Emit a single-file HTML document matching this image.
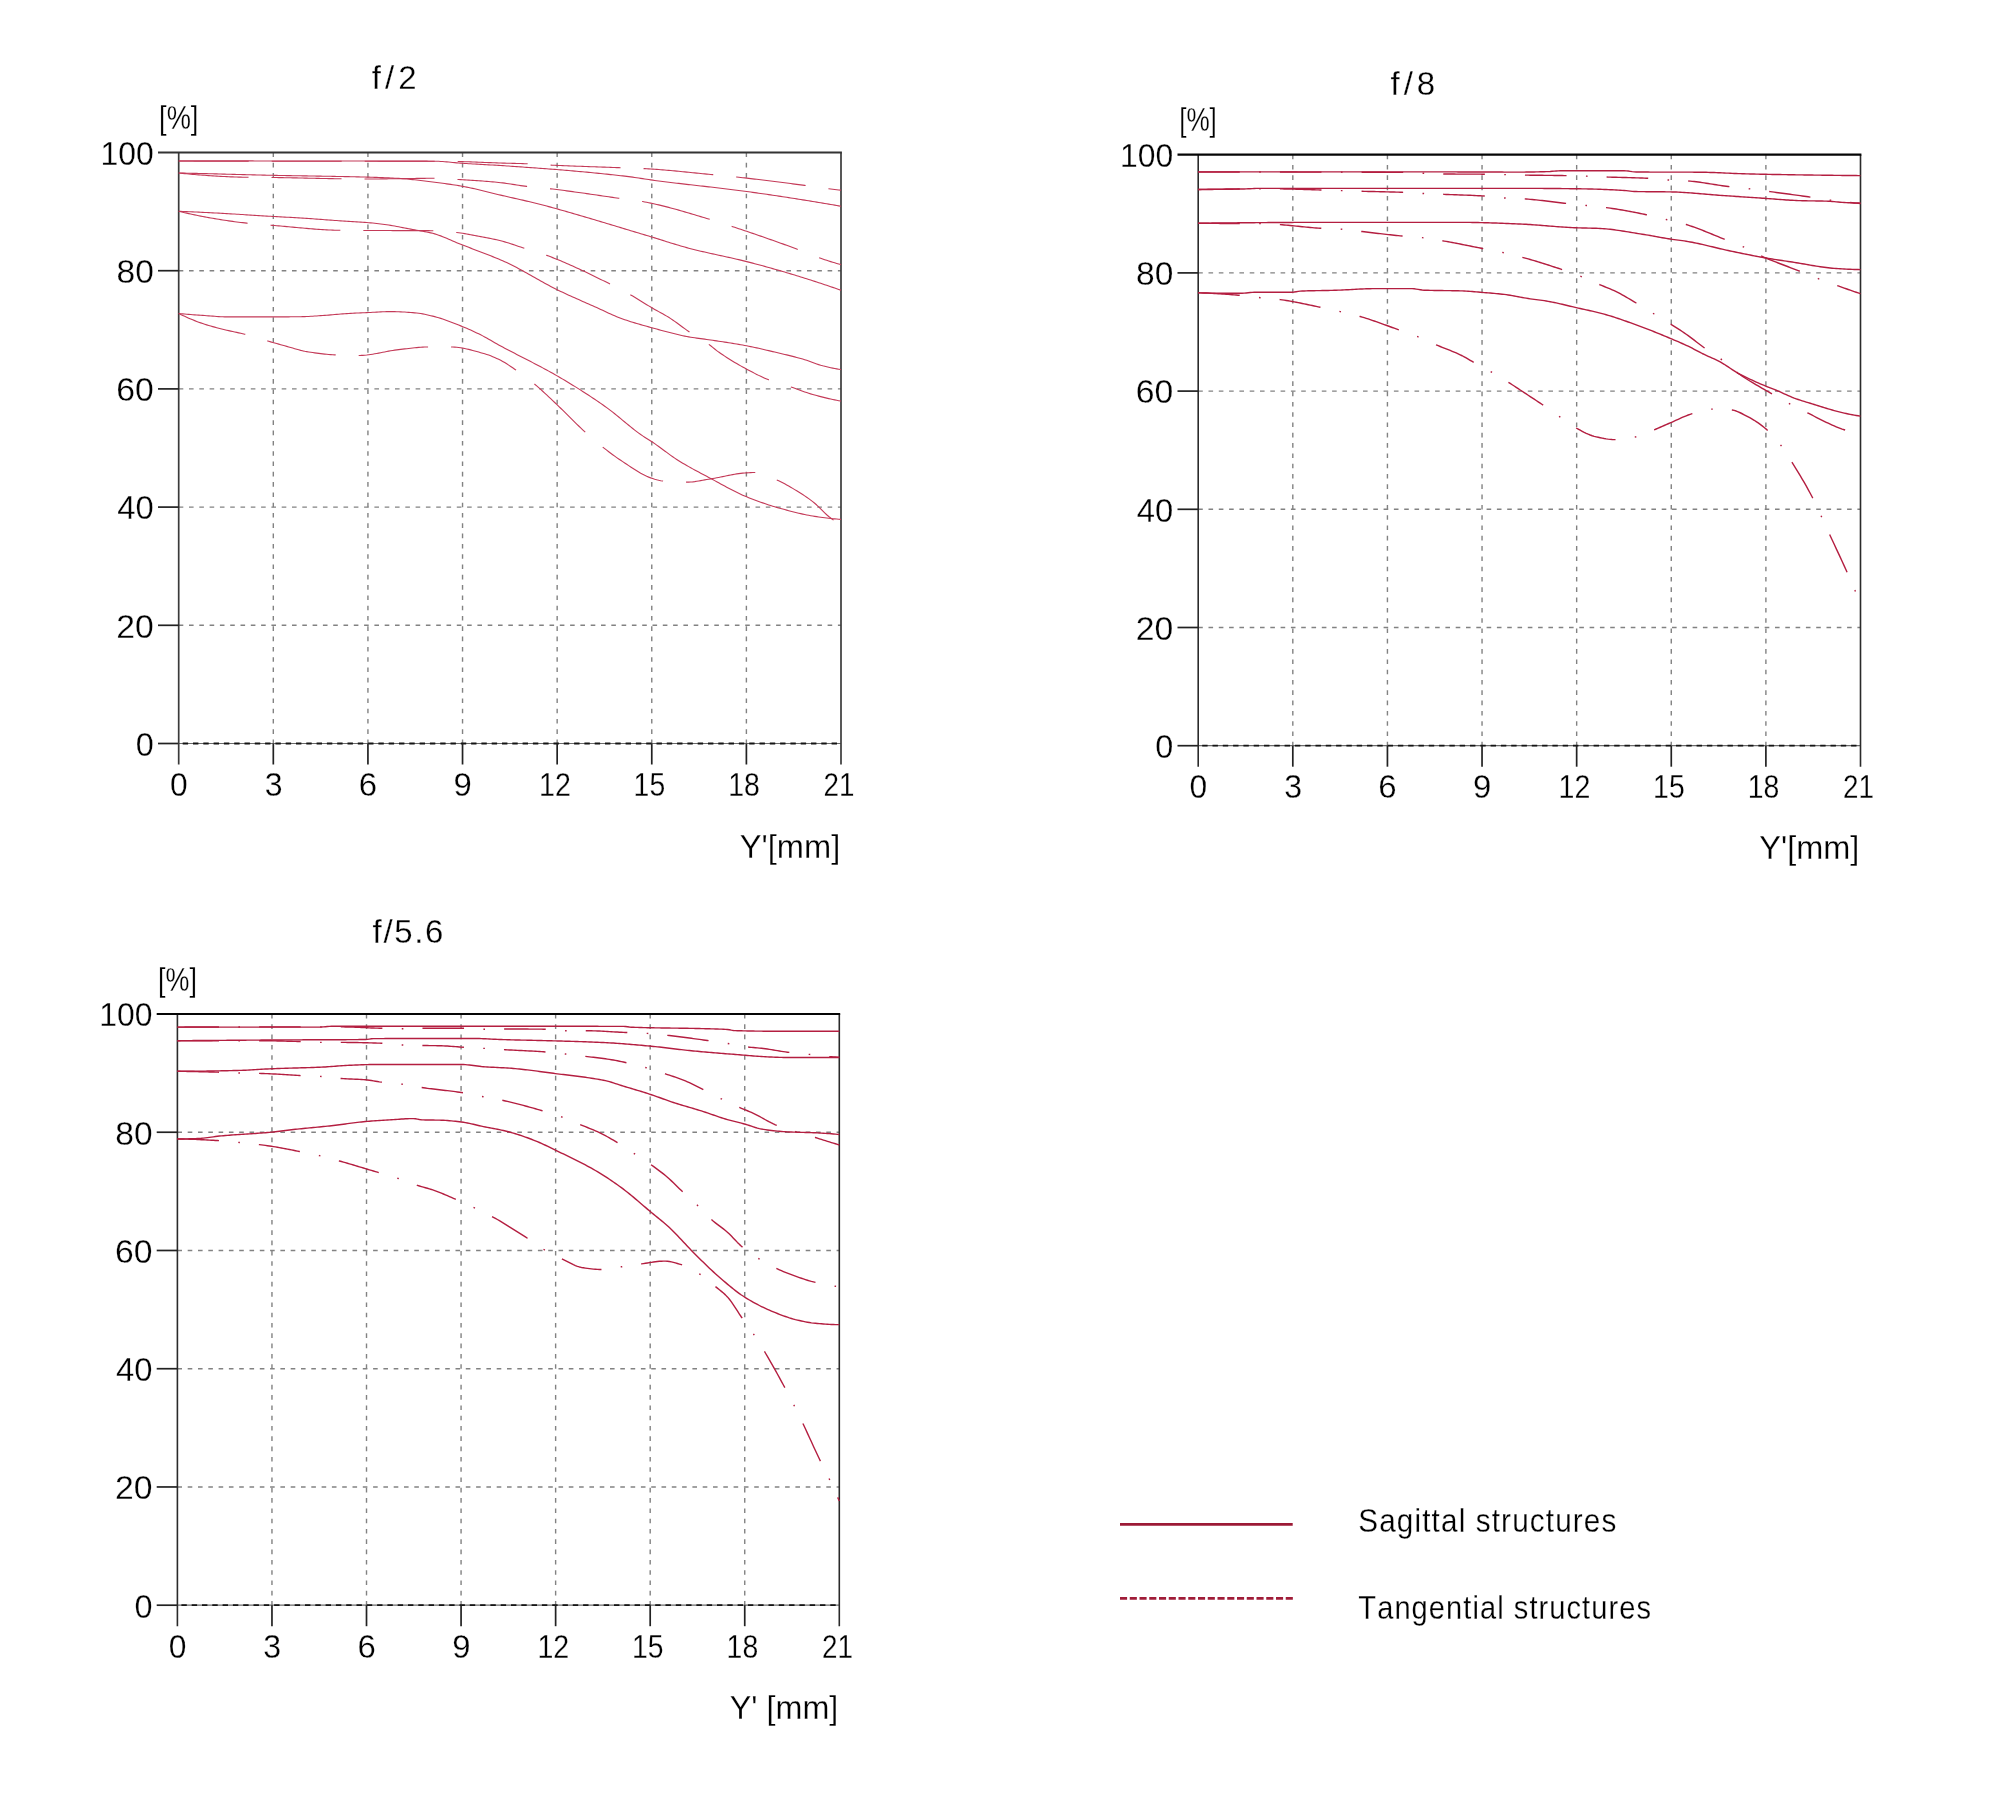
<!DOCTYPE html>
<html><head><meta charset="utf-8"><style>
html,body{margin:0;padding:0;background:#fff;}
svg{display:block;will-change:transform;}
text{font-family:"Liberation Sans",sans-serif;fill:#000;font-kerning:none;stroke:#fff;stroke-width:0.25;}
.grid{stroke:#828282;stroke-width:1.4;stroke-dasharray:4.6 5.7;fill:none;}
.c1s{fill:none;stroke:#c43a58;stroke-width:1.1;stroke-linejoin:round;}
.c1t{fill:none;stroke:#c43a58;stroke-width:1.1;stroke-dasharray:70 23;stroke-linejoin:round;}
.c2s{fill:none;stroke:#b41e40;stroke-width:1.4;stroke-linejoin:round;}
.c2t{fill:none;stroke:#b41e40;stroke-width:1.4;stroke-dasharray:41.6 19.4 1.6 19.1;stroke-linejoin:round;}
</style></head><body>
<svg width="2000" height="1813" viewBox="0 0 2000 1813">
<rect width="2000" height="1813" fill="#fff"/>
<line x1="273.31" y1="152.50" x2="273.31" y2="743.50" class="grid"/>
<line x1="367.93" y1="152.50" x2="367.93" y2="743.50" class="grid"/>
<line x1="462.54" y1="152.50" x2="462.54" y2="743.50" class="grid"/>
<line x1="557.16" y1="152.50" x2="557.16" y2="743.50" class="grid"/>
<line x1="651.77" y1="152.50" x2="651.77" y2="743.50" class="grid"/>
<line x1="746.39" y1="152.50" x2="746.39" y2="743.50" class="grid"/>
<line x1="178.70" y1="270.70" x2="841.00" y2="270.70" class="grid"/>
<line x1="178.70" y1="388.90" x2="841.00" y2="388.90" class="grid"/>
<line x1="178.70" y1="507.10" x2="841.00" y2="507.10" class="grid"/>
<line x1="178.70" y1="625.30" x2="841.00" y2="625.30" class="grid"/>
<line x1="158.00" y1="743.50" x2="178.70" y2="743.50" stroke="#222" stroke-width="1.7"/>
<line x1="178.70" y1="743.50" x2="841.00" y2="743.50" stroke="#6a6a6a" stroke-width="1.2"/>
<line x1="178.70" y1="743.50" x2="841.00" y2="743.50" stroke="#151515" stroke-width="1.8" stroke-dasharray="5.4 4.9" stroke-dashoffset="-4.0"/>
<line x1="178.70" y1="152.50" x2="178.70" y2="764.50" stroke="#3a3a3a" stroke-width="1.7"/>
<line x1="841.00" y1="152.50" x2="841.00" y2="764.50" stroke="#3a3a3a" stroke-width="1.7"/>
<line x1="158.00" y1="152.50" x2="841.90" y2="152.50" stroke="#333" stroke-width="1.9"/>
<line x1="158.00" y1="270.70" x2="178.70" y2="270.70" stroke="#222" stroke-width="1.7"/>
<line x1="158.00" y1="388.90" x2="178.70" y2="388.90" stroke="#222" stroke-width="1.7"/>
<line x1="158.00" y1="507.10" x2="178.70" y2="507.10" stroke="#222" stroke-width="1.7"/>
<line x1="158.00" y1="625.30" x2="178.70" y2="625.30" stroke="#222" stroke-width="1.7"/>
<line x1="273.31" y1="743.50" x2="273.31" y2="764.50" stroke="#222" stroke-width="1.7"/>
<line x1="367.93" y1="743.50" x2="367.93" y2="764.50" stroke="#222" stroke-width="1.7"/>
<line x1="462.54" y1="743.50" x2="462.54" y2="764.50" stroke="#222" stroke-width="1.7"/>
<line x1="557.16" y1="743.50" x2="557.16" y2="764.50" stroke="#222" stroke-width="1.7"/>
<line x1="651.77" y1="743.50" x2="651.77" y2="764.50" stroke="#222" stroke-width="1.7"/>
<line x1="746.39" y1="743.50" x2="746.39" y2="764.50" stroke="#222" stroke-width="1.7"/>
<text transform="translate(103.00,164.80) scale(0.9657,1.020)" x="-2.51" y="0" font-size="33.0">100</text>
<text transform="translate(118.00,283.00) scale(1.0152,1.020)" x="-1.43" y="0" font-size="33.0">80</text>
<text transform="translate(118.00,401.20) scale(1.0225,1.020)" x="-1.68" y="0" font-size="33.0">60</text>
<text transform="translate(118.00,519.40) scale(0.9954,1.020)" x="-0.76" y="0" font-size="33.0">40</text>
<text transform="translate(118.00,637.60) scale(1.0220,1.020)" x="-1.66" y="0" font-size="33.0">20</text>
<text transform="translate(137.00,755.80) scale(0.9826,1.020)" x="-1.29" y="0" font-size="33.0">0</text>
<text transform="translate(171.30,796.20) scale(0.9636,1.020)" x="-1.29" y="0" font-size="33.0">0</text>
<text transform="translate(265.91,796.20) scale(0.9715,1.020)" x="-1.26" y="0" font-size="33.0">3</text>
<text transform="translate(360.53,796.20) scale(0.9982,1.020)" x="-1.68" y="0" font-size="33.0">6</text>
<text transform="translate(455.14,796.20) scale(0.9972,1.020)" x="-1.55" y="0" font-size="33.0">9</text>
<text transform="translate(541.16,796.20) scale(0.8668,1.020)" x="-2.51" y="0" font-size="33.0">12</text>
<text transform="translate(635.77,796.20) scale(0.8596,1.020)" x="-2.51" y="0" font-size="33.0">15</text>
<text transform="translate(730.39,796.20) scale(0.8609,1.020)" x="-2.51" y="0" font-size="33.0">18</text>
<text transform="translate(825.00,796.20) scale(0.8434,1.020)" x="-1.66" y="0" font-size="33.0">21</text>
<text transform="translate(740.50,857.50) scale(0.9894,1.020)" x="-0.73" y="0" font-size="33.0">Y'[mm]</text>
<text transform="translate(161.00,128.50) scale(0.8261,1.020)" x="-2.35" y="0" font-size="33.0">[%]</text>
<text transform="translate(372.10,88.80) scale(1.0000,1.020)" x="-0.47" y="0" font-size="33.0" letter-spacing="4.144">f/2</text>
<path class="c1s" d="M178.7,160.80 L180.7,160.80 L182.7,160.81 L184.7,160.81 L186.7,160.81 L188.7,160.82 L190.7,160.82 L192.7,160.82 L194.7,160.83 L196.7,160.83 L198.7,160.83 L200.7,160.84 L202.7,160.84 L204.7,160.84 L206.7,160.85 L208.7,160.85 L210.7,160.85 L212.7,160.86 L214.7,160.86 L216.7,160.86 L218.7,160.87 L220.7,160.87 L222.7,160.87 L224.7,160.88 L226.7,160.88 L228.7,160.88 L230.7,160.89 L232.7,160.89 L234.7,160.89 L236.7,160.90 L238.7,160.90 L240.7,160.90 L242.7,160.91 L244.7,160.91 L246.7,160.91 L248.7,160.92 L250.7,160.92 L252.7,160.92 L254.7,160.93 L256.7,160.93 L258.7,160.93 L260.7,160.94 L262.7,160.94 L264.7,160.94 L266.7,160.95 L268.7,160.95 L270.7,160.95 L272.7,160.96 L274.7,160.96 L276.7,160.96 L278.7,160.97 L280.7,160.97 L282.7,160.97 L284.7,160.98 L286.7,160.98 L288.7,160.98 L290.7,160.99 L292.7,160.99 L294.7,160.99 L296.7,160.99 L298.7,161.00 L300.7,161.00 L302.7,161.00 L304.7,161.01 L306.7,161.01 L308.7,161.01 L310.7,161.01 L312.7,161.02 L314.7,161.02 L316.7,161.02 L318.7,161.02 L320.7,161.03 L322.7,161.03 L324.7,161.03 L326.7,161.03 L328.7,161.03 L330.7,161.04 L332.7,161.04 L334.7,161.04 L336.7,161.04 L338.7,161.04 L340.7,161.04 L342.7,161.04 L344.7,161.05 L346.7,161.05 L348.7,161.05 L350.7,161.05 L352.7,161.05 L354.7,161.05 L356.7,161.06 L358.7,161.06 L360.7,161.06 L362.7,161.06 L364.7,161.06 L366.7,161.06 L368.7,161.07 L370.7,161.07 L372.7,161.07 L374.7,161.07 L376.7,161.07 L378.7,161.08 L380.7,161.08 L382.7,161.08 L384.7,161.08 L386.7,161.09 L388.7,161.09 L390.7,161.09 L392.7,161.10 L394.7,161.10 L396.7,161.10 L398.7,161.11 L400.7,161.11 L402.7,161.11 L404.7,161.12 L406.7,161.12 L408.7,161.13 L410.7,161.13 L412.7,161.14 L414.7,161.14 L416.7,161.15 L418.7,161.15 L420.7,161.16 L422.7,161.16 L424.7,161.17 L426.7,161.17 L428.7,161.18 L430.7,161.19 L432.7,161.20 L434.7,161.21 L436.7,161.25 L438.7,161.32 L440.7,161.43 L442.7,161.56 L444.7,161.72 L446.7,161.89 L448.7,162.07 L450.7,162.26 L452.7,162.46 L454.7,162.65 L456.7,162.84 L458.7,163.01 L460.7,163.17 L462.7,163.31 L464.7,163.44 L466.7,163.57 L468.7,163.69 L470.7,163.81 L472.7,163.93 L474.7,164.04 L476.7,164.15 L478.7,164.27 L480.7,164.38 L482.7,164.49 L484.7,164.60 L486.7,164.71 L488.7,164.83 L490.7,164.94 L492.7,165.06 L494.7,165.17 L496.7,165.29 L498.7,165.42 L500.7,165.54 L502.7,165.67 L504.7,165.80 L506.7,165.94 L508.7,166.07 L510.7,166.21 L512.7,166.34 L514.7,166.48 L516.7,166.62 L518.7,166.76 L520.7,166.90 L522.7,167.04 L524.7,167.19 L526.7,167.33 L528.7,167.48 L530.7,167.62 L532.7,167.77 L534.7,167.91 L536.7,168.06 L538.7,168.20 L540.7,168.35 L542.7,168.50 L544.7,168.64 L546.7,168.79 L548.7,168.94 L550.7,169.09 L552.7,169.24 L554.7,169.39 L556.7,169.55 L558.7,169.71 L560.7,169.87 L562.7,170.04 L564.7,170.21 L566.7,170.39 L568.7,170.56 L570.7,170.73 L572.7,170.91 L574.7,171.08 L576.7,171.26 L578.7,171.44 L580.7,171.62 L582.7,171.80 L584.7,171.99 L586.7,172.17 L588.7,172.36 L590.7,172.55 L592.7,172.74 L594.7,172.94 L596.7,173.13 L598.7,173.33 L600.7,173.53 L602.7,173.74 L604.7,173.94 L606.7,174.15 L608.7,174.36 L610.7,174.58 L612.7,174.79 L614.7,175.01 L616.7,175.24 L618.7,175.46 L620.7,175.69 L622.7,175.92 L624.7,176.16 L626.7,176.40 L628.7,176.64 L630.7,176.89 L632.7,177.15 L634.7,177.43 L636.7,177.72 L638.7,178.03 L640.7,178.34 L642.7,178.65 L644.7,178.97 L646.7,179.28 L648.7,179.58 L650.7,179.88 L652.7,180.16 L654.7,180.43 L656.7,180.70 L658.7,180.96 L660.7,181.22 L662.7,181.47 L664.7,181.72 L666.7,181.97 L668.7,182.22 L670.7,182.47 L672.7,182.71 L674.7,182.95 L676.7,183.19 L678.7,183.42 L680.7,183.65 L682.7,183.89 L684.7,184.12 L686.7,184.35 L688.7,184.58 L690.7,184.80 L692.7,185.03 L694.7,185.26 L696.7,185.48 L698.7,185.71 L700.7,185.94 L702.7,186.16 L704.7,186.39 L706.7,186.62 L708.7,186.84 L710.7,187.07 L712.7,187.30 L714.7,187.53 L716.7,187.76 L718.7,188.00 L720.7,188.23 L722.7,188.47 L724.7,188.71 L726.7,188.95 L728.7,189.19 L730.7,189.43 L732.7,189.68 L734.7,189.93 L736.7,190.19 L738.7,190.45 L740.7,190.71 L742.7,190.97 L744.7,191.24 L746.7,191.51 L748.7,191.78 L750.7,192.06 L752.7,192.34 L754.7,192.61 L756.7,192.90 L758.7,193.18 L760.7,193.46 L762.7,193.75 L764.7,194.04 L766.7,194.33 L768.7,194.62 L770.7,194.91 L772.7,195.21 L774.7,195.51 L776.7,195.80 L778.7,196.10 L780.7,196.41 L782.7,196.71 L784.7,197.02 L786.7,197.32 L788.7,197.63 L790.7,197.94 L792.7,198.25 L794.7,198.57 L796.7,198.88 L798.7,199.20 L800.7,199.52 L802.7,199.84 L804.7,200.16 L806.7,200.48 L808.7,200.81 L810.7,201.13 L812.7,201.46 L814.7,201.79 L816.7,202.12 L818.7,202.45 L820.7,202.79 L822.7,203.12 L824.7,203.46 L826.7,203.79 L828.7,204.13 L830.7,204.47 L832.7,204.82 L834.7,205.16 L836.7,205.50 L838.7,205.85 L840.7,206.20 L841.0,206.25"/>
<path class="c1t" d="M178.7,161.30 L180.7,161.30 L182.7,161.30 L184.7,161.29 L186.7,161.29 L188.7,161.29 L190.7,161.29 L192.7,161.28 L194.7,161.28 L196.7,161.28 L198.7,161.28 L200.7,161.28 L202.7,161.27 L204.7,161.27 L206.7,161.27 L208.7,161.27 L210.7,161.27 L212.7,161.27 L214.7,161.26 L216.7,161.26 L218.7,161.26 L220.7,161.26 L222.7,161.26 L224.7,161.26 L226.7,161.25 L228.7,161.25 L230.7,161.25 L232.7,161.25 L234.7,161.25 L236.7,161.25 L238.7,161.24 L240.7,161.24 L242.7,161.24 L244.7,161.24 L246.7,161.24 L248.7,161.24 L250.7,161.24 L252.7,161.24 L254.7,161.23 L256.7,161.23 L258.7,161.23 L260.7,161.23 L262.7,161.23 L264.7,161.23 L266.7,161.23 L268.7,161.23 L270.7,161.23 L272.7,161.23 L274.7,161.22 L276.7,161.22 L278.7,161.22 L280.7,161.22 L282.7,161.22 L284.7,161.22 L286.7,161.22 L288.7,161.22 L290.7,161.22 L292.7,161.22 L294.7,161.22 L296.7,161.22 L298.7,161.21 L300.7,161.21 L302.7,161.21 L304.7,161.21 L306.7,161.21 L308.7,161.21 L310.7,161.21 L312.7,161.21 L314.7,161.21 L316.7,161.21 L318.7,161.21 L320.7,161.21 L322.7,161.21 L324.7,161.21 L326.7,161.21 L328.7,161.21 L330.7,161.21 L332.7,161.21 L334.7,161.21 L336.7,161.21 L338.7,161.21 L340.7,161.20 L342.7,161.20 L344.7,161.20 L346.7,161.20 L348.7,161.20 L350.7,161.20 L352.7,161.20 L354.7,161.20 L356.7,161.20 L358.7,161.20 L360.7,161.20 L362.7,161.20 L364.7,161.20 L366.7,161.20 L368.7,161.20 L370.7,161.20 L372.7,161.20 L374.7,161.20 L376.7,161.20 L378.7,161.20 L380.7,161.20 L382.7,161.20 L384.7,161.20 L386.7,161.20 L388.7,161.20 L390.7,161.20 L392.7,161.20 L394.7,161.20 L396.7,161.20 L398.7,161.20 L400.7,161.20 L402.7,161.20 L404.7,161.20 L406.7,161.20 L408.7,161.20 L410.7,161.20 L412.7,161.20 L414.7,161.20 L416.7,161.20 L418.7,161.20 L420.7,161.20 L422.7,161.20 L424.7,161.20 L426.7,161.20 L428.7,161.20 L430.7,161.20 L432.7,161.20 L434.7,161.20 L436.7,161.20 L438.7,161.22 L440.7,161.23 L442.7,161.25 L444.7,161.28 L446.7,161.31 L448.7,161.34 L450.7,161.38 L452.7,161.41 L454.7,161.45 L456.7,161.49 L458.7,161.53 L460.7,161.57 L462.7,161.62 L464.7,161.68 L466.7,161.74 L468.7,161.81 L470.7,161.88 L472.7,161.95 L474.7,162.02 L476.7,162.10 L478.7,162.18 L480.7,162.26 L482.7,162.35 L484.7,162.43 L486.7,162.51 L488.7,162.59 L490.7,162.67 L492.7,162.75 L494.7,162.82 L496.7,162.89 L498.7,162.96 L500.7,163.02 L502.7,163.08 L504.7,163.14 L506.7,163.19 L508.7,163.24 L510.7,163.29 L512.7,163.34 L514.7,163.39 L516.7,163.44 L518.7,163.50 L520.7,163.56 L522.7,163.62 L524.7,163.68 L526.7,163.75 L528.7,163.83 L530.7,163.92 L532.7,164.02 L534.7,164.13 L536.7,164.25 L538.7,164.38 L540.7,164.51 L542.7,164.64 L544.7,164.76 L546.7,164.88 L548.7,164.99 L550.7,165.10 L552.7,165.19 L554.7,165.28 L556.7,165.37 L558.7,165.46 L560.7,165.54 L562.7,165.63 L564.7,165.71 L566.7,165.79 L568.7,165.87 L570.7,165.95 L572.7,166.03 L574.7,166.10 L576.7,166.18 L578.7,166.25 L580.7,166.32 L582.7,166.40 L584.7,166.47 L586.7,166.54 L588.7,166.61 L590.7,166.68 L592.7,166.75 L594.7,166.82 L596.7,166.89 L598.7,166.96 L600.7,167.03 L602.7,167.10 L604.7,167.17 L606.7,167.24 L608.7,167.31 L610.7,167.38 L612.7,167.45 L614.7,167.52 L616.7,167.60 L618.7,167.67 L620.7,167.75 L622.7,167.82 L624.7,167.89 L626.7,167.96 L628.7,168.03 L630.7,168.09 L632.7,168.16 L634.7,168.23 L636.7,168.31 L638.7,168.39 L640.7,168.47 L642.7,168.56 L644.7,168.66 L646.7,168.77 L648.7,168.88 L650.7,169.00 L652.7,169.13 L654.7,169.27 L656.7,169.41 L658.7,169.56 L660.7,169.71 L662.7,169.87 L664.7,170.04 L666.7,170.21 L668.7,170.38 L670.7,170.56 L672.7,170.74 L674.7,170.92 L676.7,171.11 L678.7,171.30 L680.7,171.50 L682.7,171.69 L684.7,171.89 L686.7,172.09 L688.7,172.29 L690.7,172.49 L692.7,172.69 L694.7,172.89 L696.7,173.10 L698.7,173.30 L700.7,173.50 L702.7,173.70 L704.7,173.90 L706.7,174.10 L708.7,174.29 L710.7,174.48 L712.7,174.67 L714.7,174.86 L716.7,175.05 L718.7,175.24 L720.7,175.43 L722.7,175.62 L724.7,175.82 L726.7,176.01 L728.7,176.21 L730.7,176.41 L732.7,176.62 L734.7,176.83 L736.7,177.04 L738.7,177.26 L740.7,177.48 L742.7,177.70 L744.7,177.92 L746.7,178.15 L748.7,178.38 L750.7,178.61 L752.7,178.84 L754.7,179.08 L756.7,179.31 L758.7,179.55 L760.7,179.79 L762.7,180.03 L764.7,180.28 L766.7,180.52 L768.7,180.77 L770.7,181.02 L772.7,181.27 L774.7,181.52 L776.7,181.77 L778.7,182.02 L780.7,182.28 L782.7,182.53 L784.7,182.79 L786.7,183.05 L788.7,183.31 L790.7,183.57 L792.7,183.83 L794.7,184.09 L796.7,184.35 L798.7,184.61 L800.7,184.87 L802.7,185.13 L804.7,185.40 L806.7,185.66 L808.7,185.93 L810.7,186.20 L812.7,186.48 L814.7,186.77 L816.7,187.05 L818.7,187.34 L820.7,187.62 L822.7,187.90 L824.7,188.18 L826.7,188.45 L828.7,188.71 L830.7,188.97 L832.7,189.21 L834.7,189.46 L836.7,189.70 L838.7,189.93 L840.7,190.17 L841.0,190.20"/>
<path class="c1s" d="M178.7,173.00 L180.7,173.05 L182.7,173.09 L184.7,173.14 L186.7,173.19 L188.7,173.23 L190.7,173.28 L192.7,173.33 L194.7,173.37 L196.7,173.42 L198.7,173.47 L200.7,173.52 L202.7,173.57 L204.7,173.61 L206.7,173.66 L208.7,173.72 L210.7,173.77 L212.7,173.82 L214.7,173.87 L216.7,173.92 L218.7,173.97 L220.7,174.03 L222.7,174.08 L224.7,174.13 L226.7,174.18 L228.7,174.24 L230.7,174.29 L232.7,174.34 L234.7,174.40 L236.7,174.45 L238.7,174.50 L240.7,174.55 L242.7,174.61 L244.7,174.66 L246.7,174.71 L248.7,174.76 L250.7,174.81 L252.7,174.86 L254.7,174.91 L256.7,174.96 L258.7,175.00 L260.7,175.05 L262.7,175.10 L264.7,175.14 L266.7,175.19 L268.7,175.23 L270.7,175.27 L272.7,175.31 L274.7,175.35 L276.7,175.39 L278.7,175.43 L280.7,175.47 L282.7,175.51 L284.7,175.54 L286.7,175.58 L288.7,175.62 L290.7,175.65 L292.7,175.69 L294.7,175.72 L296.7,175.75 L298.7,175.79 L300.7,175.82 L302.7,175.85 L304.7,175.88 L306.7,175.92 L308.7,175.95 L310.7,175.98 L312.7,176.02 L314.7,176.05 L316.7,176.08 L318.7,176.12 L320.7,176.15 L322.7,176.18 L324.7,176.22 L326.7,176.25 L328.7,176.29 L330.7,176.32 L332.7,176.36 L334.7,176.40 L336.7,176.44 L338.7,176.47 L340.7,176.51 L342.7,176.55 L344.7,176.59 L346.7,176.63 L348.7,176.67 L350.7,176.71 L352.7,176.75 L354.7,176.79 L356.7,176.84 L358.7,176.88 L360.7,176.93 L362.7,176.98 L364.7,177.03 L366.7,177.09 L368.7,177.14 L370.7,177.20 L372.7,177.27 L374.7,177.33 L376.7,177.40 L378.7,177.48 L380.7,177.55 L382.7,177.63 L384.7,177.71 L386.7,177.80 L388.7,177.89 L390.7,177.99 L392.7,178.09 L394.7,178.20 L396.7,178.31 L398.7,178.42 L400.7,178.54 L402.7,178.68 L404.7,178.83 L406.7,179.00 L408.7,179.18 L410.7,179.38 L412.7,179.59 L414.7,179.80 L416.7,180.03 L418.7,180.26 L420.7,180.50 L422.7,180.75 L424.7,181.00 L426.7,181.25 L428.7,181.50 L430.7,181.76 L432.7,182.01 L434.7,182.26 L436.7,182.51 L438.7,182.77 L440.7,183.03 L442.7,183.29 L444.7,183.56 L446.7,183.83 L448.7,184.12 L450.7,184.40 L452.7,184.70 L454.7,185.01 L456.7,185.32 L458.7,185.65 L460.7,185.99 L462.7,186.34 L464.7,186.70 L466.7,187.09 L468.7,187.50 L470.7,187.93 L472.7,188.37 L474.7,188.82 L476.7,189.29 L478.7,189.77 L480.7,190.25 L482.7,190.75 L484.7,191.24 L486.7,191.74 L488.7,192.25 L490.7,192.75 L492.7,193.24 L494.7,193.73 L496.7,194.22 L498.7,194.70 L500.7,195.16 L502.7,195.62 L504.7,196.08 L506.7,196.54 L508.7,196.99 L510.7,197.44 L512.7,197.90 L514.7,198.35 L516.7,198.80 L518.7,199.25 L520.7,199.71 L522.7,200.16 L524.7,200.62 L526.7,201.09 L528.7,201.55 L530.7,202.03 L532.7,202.50 L534.7,202.99 L536.7,203.48 L538.7,203.97 L540.7,204.48 L542.7,204.99 L544.7,205.52 L546.7,206.05 L548.7,206.60 L550.7,207.15 L552.7,207.70 L554.7,208.26 L556.7,208.82 L558.7,209.38 L560.7,209.94 L562.7,210.51 L564.7,211.07 L566.7,211.64 L568.7,212.22 L570.7,212.79 L572.7,213.37 L574.7,213.95 L576.7,214.53 L578.7,215.11 L580.7,215.70 L582.7,216.28 L584.7,216.87 L586.7,217.46 L588.7,218.05 L590.7,218.64 L592.7,219.24 L594.7,219.83 L596.7,220.43 L598.7,221.02 L600.7,221.62 L602.7,222.22 L604.7,222.82 L606.7,223.42 L608.7,224.02 L610.7,224.62 L612.7,225.23 L614.7,225.83 L616.7,226.43 L618.7,227.04 L620.7,227.64 L622.7,228.25 L624.7,228.85 L626.7,229.45 L628.7,230.06 L630.7,230.66 L632.7,231.27 L634.7,231.87 L636.7,232.48 L638.7,233.08 L640.7,233.68 L642.7,234.29 L644.7,234.89 L646.7,235.49 L648.7,236.09 L650.7,236.69 L652.7,237.29 L654.7,237.90 L656.7,238.52 L658.7,239.14 L660.7,239.76 L662.7,240.39 L664.7,241.02 L666.7,241.65 L668.7,242.27 L670.7,242.90 L672.7,243.52 L674.7,244.13 L676.7,244.74 L678.7,245.34 L680.7,245.93 L682.7,246.51 L684.7,247.08 L686.7,247.63 L688.7,248.17 L690.7,248.69 L692.7,249.21 L694.7,249.71 L696.7,250.20 L698.7,250.68 L700.7,251.16 L702.7,251.62 L704.7,252.08 L706.7,252.54 L708.7,252.98 L710.7,253.43 L712.7,253.87 L714.7,254.31 L716.7,254.74 L718.7,255.18 L720.7,255.61 L722.7,256.05 L724.7,256.48 L726.7,256.92 L728.7,257.36 L730.7,257.81 L732.7,258.26 L734.7,258.71 L736.7,259.17 L738.7,259.64 L740.7,260.12 L742.7,260.60 L744.7,261.10 L746.7,261.60 L748.7,262.11 L750.7,262.63 L752.7,263.15 L754.7,263.67 L756.7,264.20 L758.7,264.74 L760.7,265.27 L762.7,265.82 L764.7,266.36 L766.7,266.92 L768.7,267.47 L770.7,268.03 L772.7,268.60 L774.7,269.17 L776.7,269.74 L778.7,270.32 L780.7,270.90 L782.7,271.48 L784.7,272.07 L786.7,272.66 L788.7,273.26 L790.7,273.86 L792.7,274.46 L794.7,275.07 L796.7,275.68 L798.7,276.29 L800.7,276.91 L802.7,277.54 L804.7,278.16 L806.7,278.80 L808.7,279.43 L810.7,280.07 L812.7,280.71 L814.7,281.36 L816.7,282.01 L818.7,282.67 L820.7,283.33 L822.7,283.99 L824.7,284.66 L826.7,285.33 L828.7,286.01 L830.7,286.69 L832.7,287.37 L834.7,288.06 L836.7,288.75 L838.7,289.44 L840.7,290.14 L841.0,290.25"/>
<path class="c1t" d="M178.7,173.00 L180.7,173.20 L182.7,173.40 L184.7,173.59 L186.7,173.78 L188.7,173.97 L190.7,174.15 L192.7,174.33 L194.7,174.51 L196.7,174.68 L198.7,174.84 L200.7,175.00 L202.7,175.16 L204.7,175.31 L206.7,175.46 L208.7,175.60 L210.7,175.74 L212.7,175.87 L214.7,176.00 L216.7,176.12 L218.7,176.24 L220.7,176.35 L222.7,176.46 L224.7,176.56 L226.7,176.65 L228.7,176.74 L230.7,176.83 L232.7,176.90 L234.7,176.98 L236.7,177.04 L238.7,177.10 L240.7,177.16 L242.7,177.20 L244.7,177.24 L246.7,177.28 L248.7,177.31 L250.7,177.33 L252.7,177.35 L254.7,177.37 L256.7,177.38 L258.7,177.40 L260.7,177.41 L262.7,177.42 L264.7,177.44 L266.7,177.45 L268.7,177.47 L270.7,177.49 L272.7,177.51 L274.7,177.53 L276.7,177.56 L278.7,177.59 L280.7,177.62 L282.7,177.65 L284.7,177.69 L286.7,177.72 L288.7,177.76 L290.7,177.80 L292.7,177.84 L294.7,177.88 L296.7,177.92 L298.7,177.97 L300.7,178.01 L302.7,178.05 L304.7,178.10 L306.7,178.14 L308.7,178.19 L310.7,178.23 L312.7,178.28 L314.7,178.32 L316.7,178.37 L318.7,178.41 L320.7,178.45 L322.7,178.49 L324.7,178.53 L326.7,178.57 L328.7,178.61 L330.7,178.64 L332.7,178.67 L334.7,178.71 L336.7,178.74 L338.7,178.76 L340.7,178.79 L342.7,178.81 L344.7,178.83 L346.7,178.86 L348.7,178.88 L350.7,178.91 L352.7,178.93 L354.7,178.95 L356.7,178.97 L358.7,178.98 L360.7,178.99 L362.7,179.00 L364.7,179.00 L366.7,179.00 L368.7,178.99 L370.7,178.98 L372.7,178.97 L374.7,178.96 L376.7,178.94 L378.7,178.93 L380.7,178.90 L382.7,178.88 L384.7,178.86 L386.7,178.83 L388.7,178.81 L390.7,178.78 L392.7,178.75 L394.7,178.72 L396.7,178.69 L398.7,178.66 L400.7,178.63 L402.7,178.60 L404.7,178.57 L406.7,178.54 L408.7,178.52 L410.7,178.49 L412.7,178.46 L414.7,178.44 L416.7,178.41 L418.7,178.39 L420.7,178.37 L422.7,178.35 L424.7,178.34 L426.7,178.32 L428.7,178.31 L430.7,178.31 L432.7,178.30 L434.7,178.30 L436.7,178.32 L438.7,178.37 L440.7,178.45 L442.7,178.55 L444.7,178.66 L446.7,178.79 L448.7,178.92 L450.7,179.06 L452.7,179.20 L454.7,179.33 L456.7,179.46 L458.7,179.57 L460.7,179.67 L462.7,179.78 L464.7,179.89 L466.7,180.00 L468.7,180.11 L470.7,180.23 L472.7,180.35 L474.7,180.48 L476.7,180.62 L478.7,180.76 L480.7,180.90 L482.7,181.05 L484.7,181.21 L486.7,181.37 L488.7,181.53 L490.7,181.71 L492.7,181.88 L494.7,182.07 L496.7,182.26 L498.7,182.47 L500.7,182.68 L502.7,182.91 L504.7,183.16 L506.7,183.44 L508.7,183.73 L510.7,184.03 L512.7,184.34 L514.7,184.66 L516.7,184.97 L518.7,185.28 L520.7,185.59 L522.7,185.88 L524.7,186.15 L526.7,186.40 L528.7,186.64 L530.7,186.86 L532.7,187.06 L534.7,187.26 L536.7,187.45 L538.7,187.64 L540.7,187.82 L542.7,188.01 L544.7,188.20 L546.7,188.41 L548.7,188.62 L550.7,188.84 L552.7,189.07 L554.7,189.31 L556.7,189.55 L558.7,189.80 L560.7,190.05 L562.7,190.30 L564.7,190.56 L566.7,190.83 L568.7,191.09 L570.7,191.37 L572.7,191.64 L574.7,191.92 L576.7,192.19 L578.7,192.48 L580.7,192.76 L582.7,193.05 L584.7,193.33 L586.7,193.62 L588.7,193.91 L590.7,194.20 L592.7,194.49 L594.7,194.79 L596.7,195.08 L598.7,195.37 L600.7,195.66 L602.7,195.95 L604.7,196.24 L606.7,196.53 L608.7,196.82 L610.7,197.11 L612.7,197.39 L614.7,197.68 L616.7,197.96 L618.7,198.23 L620.7,198.51 L622.7,198.77 L624.7,199.03 L626.7,199.28 L628.7,199.54 L630.7,199.79 L632.7,200.05 L634.7,200.32 L636.7,200.61 L638.7,200.90 L640.7,201.22 L642.7,201.56 L644.7,201.92 L646.7,202.30 L648.7,202.70 L650.7,203.11 L652.7,203.53 L654.7,203.97 L656.7,204.42 L658.7,204.89 L660.7,205.37 L662.7,205.86 L664.7,206.36 L666.7,206.88 L668.7,207.40 L670.7,207.94 L672.7,208.48 L674.7,209.03 L676.7,209.59 L678.7,210.15 L680.7,210.72 L682.7,211.30 L684.7,211.88 L686.7,212.47 L688.7,213.06 L690.7,213.65 L692.7,214.24 L694.7,214.84 L696.7,215.44 L698.7,216.04 L700.7,216.64 L702.7,217.24 L704.7,217.83 L706.7,218.43 L708.7,219.02 L710.7,219.61 L712.7,220.21 L714.7,220.82 L716.7,221.44 L718.7,222.07 L720.7,222.72 L722.7,223.36 L724.7,224.02 L726.7,224.68 L728.7,225.34 L730.7,226.00 L732.7,226.67 L734.7,227.33 L736.7,228.00 L738.7,228.66 L740.7,229.33 L742.7,230.00 L744.7,230.68 L746.7,231.35 L748.7,232.03 L750.7,232.71 L752.7,233.39 L754.7,234.07 L756.7,234.75 L758.7,235.44 L760.7,236.13 L762.7,236.82 L764.7,237.52 L766.7,238.21 L768.7,238.91 L770.7,239.62 L772.7,240.32 L774.7,241.03 L776.7,241.74 L778.7,242.45 L780.7,243.17 L782.7,243.89 L784.7,244.61 L786.7,245.34 L788.7,246.07 L790.7,246.80 L792.7,247.53 L794.7,248.27 L796.7,249.02 L798.7,249.76 L800.7,250.53 L802.7,251.32 L804.7,252.13 L806.7,252.94 L808.7,253.76 L810.7,254.58 L812.7,255.38 L814.7,256.17 L816.7,256.93 L818.7,257.65 L820.7,258.35 L822.7,259.03 L824.7,259.70 L826.7,260.35 L828.7,260.99 L830.7,261.62 L832.7,262.23 L834.7,262.83 L836.7,263.41 L838.7,263.97 L840.7,264.52 L841.0,264.60"/>
<path class="c1s" d="M178.7,211.30 L180.7,211.38 L182.7,211.46 L184.7,211.54 L186.7,211.63 L188.7,211.71 L190.7,211.80 L192.7,211.89 L194.7,211.97 L196.7,212.06 L198.7,212.16 L200.7,212.25 L202.7,212.34 L204.7,212.44 L206.7,212.53 L208.7,212.63 L210.7,212.73 L212.7,212.83 L214.7,212.93 L216.7,213.04 L218.7,213.14 L220.7,213.25 L222.7,213.36 L224.7,213.47 L226.7,213.59 L228.7,213.71 L230.7,213.83 L232.7,213.95 L234.7,214.07 L236.7,214.20 L238.7,214.32 L240.7,214.45 L242.7,214.57 L244.7,214.70 L246.7,214.83 L248.7,214.96 L250.7,215.08 L252.7,215.21 L254.7,215.34 L256.7,215.47 L258.7,215.59 L260.7,215.72 L262.7,215.84 L264.7,215.97 L266.7,216.09 L268.7,216.21 L270.7,216.32 L272.7,216.44 L274.7,216.55 L276.7,216.66 L278.7,216.77 L280.7,216.88 L282.7,216.99 L284.7,217.09 L286.7,217.20 L288.7,217.31 L290.7,217.41 L292.7,217.52 L294.7,217.63 L296.7,217.75 L298.7,217.86 L300.7,217.98 L302.7,218.11 L304.7,218.23 L306.7,218.37 L308.7,218.50 L310.7,218.64 L312.7,218.78 L314.7,218.93 L316.7,219.08 L318.7,219.23 L320.7,219.38 L322.7,219.53 L324.7,219.68 L326.7,219.83 L328.7,219.98 L330.7,220.13 L332.7,220.28 L334.7,220.43 L336.7,220.57 L338.7,220.71 L340.7,220.85 L342.7,220.98 L344.7,221.11 L346.7,221.23 L348.7,221.35 L350.7,221.47 L352.7,221.59 L354.7,221.71 L356.7,221.83 L358.7,221.96 L360.7,222.09 L362.7,222.23 L364.7,222.38 L366.7,222.53 L368.7,222.70 L370.7,222.88 L372.7,223.07 L374.7,223.27 L376.7,223.49 L378.7,223.71 L380.7,223.95 L382.7,224.20 L384.7,224.46 L386.7,224.74 L388.7,225.04 L390.7,225.36 L392.7,225.71 L394.7,226.06 L396.7,226.44 L398.7,226.82 L400.7,227.20 L402.7,227.60 L404.7,227.99 L406.7,228.37 L408.7,228.76 L410.7,229.13 L412.7,229.49 L414.7,229.83 L416.7,230.17 L418.7,230.51 L420.7,230.86 L422.7,231.22 L424.7,231.59 L426.7,231.98 L428.7,232.39 L430.7,232.84 L432.7,233.32 L434.7,233.86 L436.7,234.47 L438.7,235.15 L440.7,235.89 L442.7,236.67 L444.7,237.49 L446.7,238.33 L448.7,239.20 L450.7,240.07 L452.7,240.95 L454.7,241.82 L456.7,242.66 L458.7,243.49 L460.7,244.27 L462.7,245.05 L464.7,245.82 L466.7,246.59 L468.7,247.36 L470.7,248.12 L472.7,248.89 L474.7,249.66 L476.7,250.43 L478.7,251.21 L480.7,251.98 L482.7,252.76 L484.7,253.53 L486.7,254.30 L488.7,255.07 L490.7,255.84 L492.7,256.62 L494.7,257.41 L496.7,258.22 L498.7,259.05 L500.7,259.90 L502.7,260.78 L504.7,261.69 L506.7,262.62 L508.7,263.57 L510.7,264.54 L512.7,265.54 L514.7,266.56 L516.7,267.61 L518.7,268.67 L520.7,269.74 L522.7,270.83 L524.7,271.94 L526.7,273.05 L528.7,274.17 L530.7,275.30 L532.7,276.43 L534.7,277.56 L536.7,278.69 L538.7,279.82 L540.7,280.94 L542.7,282.05 L544.7,283.16 L546.7,284.25 L548.7,285.33 L550.7,286.39 L552.7,287.43 L554.7,288.45 L556.7,289.45 L558.7,290.43 L560.7,291.39 L562.7,292.35 L564.7,293.29 L566.7,294.21 L568.7,295.13 L570.7,296.04 L572.7,296.95 L574.7,297.85 L576.7,298.74 L578.7,299.62 L580.7,300.51 L582.7,301.39 L584.7,302.27 L586.7,303.15 L588.7,304.03 L590.7,304.91 L592.7,305.80 L594.7,306.69 L596.7,307.59 L598.7,308.51 L600.7,309.44 L602.7,310.37 L604.7,311.30 L606.7,312.23 L608.7,313.15 L610.7,314.06 L612.7,314.95 L614.7,315.82 L616.7,316.66 L618.7,317.47 L620.7,318.24 L622.7,318.97 L624.7,319.67 L626.7,320.35 L628.7,321.01 L630.7,321.65 L632.7,322.28 L634.7,322.89 L636.7,323.48 L638.7,324.07 L640.7,324.64 L642.7,325.20 L644.7,325.76 L646.7,326.31 L648.7,326.86 L650.7,327.41 L652.7,327.96 L654.7,328.50 L656.7,329.06 L658.7,329.61 L660.7,330.16 L662.7,330.70 L664.7,331.25 L666.7,331.78 L668.7,332.31 L670.7,332.83 L672.7,333.34 L674.7,333.84 L676.7,334.32 L678.7,334.79 L680.7,335.24 L682.7,335.67 L684.7,336.09 L686.7,336.48 L688.7,336.85 L690.7,337.19 L692.7,337.51 L694.7,337.81 L696.7,338.09 L698.7,338.36 L700.7,338.63 L702.7,338.89 L704.7,339.15 L706.7,339.43 L708.7,339.71 L710.7,340.01 L712.7,340.30 L714.7,340.60 L716.7,340.90 L718.7,341.20 L720.7,341.50 L722.7,341.80 L724.7,342.11 L726.7,342.41 L728.7,342.73 L730.7,343.04 L732.7,343.36 L734.7,343.69 L736.7,344.02 L738.7,344.36 L740.7,344.71 L742.7,345.06 L744.7,345.43 L746.7,345.80 L748.7,346.19 L750.7,346.60 L752.7,347.01 L754.7,347.44 L756.7,347.88 L758.7,348.33 L760.7,348.79 L762.7,349.25 L764.7,349.71 L766.7,350.18 L768.7,350.65 L770.7,351.12 L772.7,351.59 L774.7,352.05 L776.7,352.52 L778.7,352.99 L780.7,353.46 L782.7,353.93 L784.7,354.41 L786.7,354.89 L788.7,355.38 L790.7,355.87 L792.7,356.38 L794.7,356.90 L796.7,357.42 L798.7,357.96 L800.7,358.52 L802.7,359.09 L804.7,359.69 L806.7,360.35 L808.7,361.05 L810.7,361.77 L812.7,362.50 L814.7,363.23 L816.7,363.94 L818.7,364.62 L820.7,365.25 L822.7,365.83 L824.7,366.34 L826.7,366.82 L828.7,367.28 L830.7,367.73 L832.7,368.15 L834.7,368.54 L836.7,368.91 L838.7,369.25 L840.7,369.56 L841.0,369.60"/>
<path class="c1t" d="M178.7,211.30 L180.7,211.77 L182.7,212.24 L184.7,212.70 L186.7,213.15 L188.7,213.59 L190.7,214.03 L192.7,214.46 L194.7,214.88 L196.7,215.29 L198.7,215.70 L200.7,216.09 L202.7,216.48 L204.7,216.87 L206.7,217.24 L208.7,217.61 L210.7,217.97 L212.7,218.32 L214.7,218.66 L216.7,219.00 L218.7,219.32 L220.7,219.65 L222.7,219.96 L224.7,220.26 L226.7,220.56 L228.7,220.85 L230.7,221.14 L232.7,221.41 L234.7,221.68 L236.7,221.94 L238.7,222.19 L240.7,222.44 L242.7,222.67 L244.7,222.90 L246.7,223.12 L248.7,223.34 L250.7,223.54 L252.7,223.73 L254.7,223.91 L256.7,224.08 L258.7,224.24 L260.7,224.40 L262.7,224.56 L264.7,224.71 L266.7,224.86 L268.7,225.02 L270.7,225.18 L272.7,225.34 L274.7,225.50 L276.7,225.68 L278.7,225.85 L280.7,226.03 L282.7,226.21 L284.7,226.40 L286.7,226.58 L288.7,226.77 L290.7,226.96 L292.7,227.15 L294.7,227.33 L296.7,227.52 L298.7,227.71 L300.7,227.89 L302.7,228.07 L304.7,228.25 L306.7,228.42 L308.7,228.59 L310.7,228.76 L312.7,228.92 L314.7,229.08 L316.7,229.22 L318.7,229.37 L320.7,229.50 L322.7,229.62 L324.7,229.74 L326.7,229.85 L328.7,229.95 L330.7,230.04 L332.7,230.12 L334.7,230.18 L336.7,230.24 L338.7,230.28 L340.7,230.31 L342.7,230.34 L344.7,230.36 L346.7,230.38 L348.7,230.40 L350.7,230.42 L352.7,230.44 L354.7,230.45 L356.7,230.46 L358.7,230.48 L360.7,230.49 L362.7,230.50 L364.7,230.51 L366.7,230.52 L368.7,230.52 L370.7,230.53 L372.7,230.54 L374.7,230.54 L376.7,230.55 L378.7,230.55 L380.7,230.56 L382.7,230.56 L384.7,230.56 L386.7,230.57 L388.7,230.57 L390.7,230.57 L392.7,230.58 L394.7,230.58 L396.7,230.58 L398.7,230.58 L400.7,230.59 L402.7,230.59 L404.7,230.59 L406.7,230.60 L408.7,230.60 L410.7,230.61 L412.7,230.61 L414.7,230.62 L416.7,230.62 L418.7,230.63 L420.7,230.64 L422.7,230.64 L424.7,230.65 L426.7,230.66 L428.7,230.67 L430.7,230.68 L432.7,230.69 L434.7,230.71 L436.7,230.77 L438.7,230.86 L440.7,230.98 L442.7,231.12 L444.7,231.28 L446.7,231.47 L448.7,231.67 L450.7,231.87 L452.7,232.09 L454.7,232.31 L456.7,232.52 L458.7,232.76 L460.7,233.03 L462.7,233.32 L464.7,233.65 L466.7,233.99 L468.7,234.35 L470.7,234.72 L472.7,235.10 L474.7,235.49 L476.7,235.87 L478.7,236.26 L480.7,236.63 L482.7,237.00 L484.7,237.38 L486.7,237.76 L488.7,238.14 L490.7,238.54 L492.7,238.95 L494.7,239.38 L496.7,239.82 L498.7,240.28 L500.7,240.78 L502.7,241.30 L504.7,241.87 L506.7,242.46 L508.7,243.09 L510.7,243.73 L512.7,244.39 L514.7,245.05 L516.7,245.73 L518.7,246.40 L520.7,247.07 L522.7,247.72 L524.7,248.36 L526.7,248.99 L528.7,249.60 L530.7,250.21 L532.7,250.81 L534.7,251.42 L536.7,252.03 L538.7,252.66 L540.7,253.30 L542.7,253.96 L544.7,254.65 L546.7,255.36 L548.7,256.09 L550.7,256.85 L552.7,257.62 L554.7,258.40 L556.7,259.20 L558.7,260.01 L560.7,260.84 L562.7,261.68 L564.7,262.53 L566.7,263.39 L568.7,264.27 L570.7,265.16 L572.7,266.05 L574.7,266.96 L576.7,267.88 L578.7,268.80 L580.7,269.73 L582.7,270.67 L584.7,271.62 L586.7,272.57 L588.7,273.53 L590.7,274.50 L592.7,275.47 L594.7,276.44 L596.7,277.42 L598.7,278.40 L600.7,279.39 L602.7,280.37 L604.7,281.36 L606.7,282.35 L608.7,283.33 L610.7,284.32 L612.7,285.32 L614.7,286.33 L616.7,287.35 L618.7,288.39 L620.7,289.44 L622.7,290.51 L624.7,291.59 L626.7,292.69 L628.7,293.80 L630.7,294.92 L632.7,296.07 L634.7,297.26 L636.7,298.47 L638.7,299.70 L640.7,300.94 L642.7,302.18 L644.7,303.43 L646.7,304.66 L648.7,305.89 L650.7,307.09 L652.7,308.26 L654.7,309.40 L656.7,310.51 L658.7,311.61 L660.7,312.72 L662.7,313.83 L664.7,314.96 L666.7,316.13 L668.7,317.34 L670.7,318.61 L672.7,319.95 L674.7,321.34 L676.7,322.78 L678.7,324.24 L680.7,325.73 L682.7,327.21 L684.7,328.68 L686.7,330.13 L688.7,331.53 L690.7,332.88 L692.7,334.18 L694.7,335.44 L696.7,336.68 L698.7,337.90 L700.7,339.13 L702.7,340.37 L704.7,341.64 L706.7,342.95 L708.7,344.32 L710.7,345.78 L712.7,347.37 L714.7,348.99 L716.7,350.58 L718.7,352.07 L720.7,353.45 L722.7,354.81 L724.7,356.14 L726.7,357.44 L728.7,358.72 L730.7,359.97 L732.7,361.20 L734.7,362.41 L736.7,363.59 L738.7,364.75 L740.7,365.89 L742.7,367.00 L744.7,368.10 L746.7,369.18 L748.7,370.25 L750.7,371.31 L752.7,372.35 L754.7,373.38 L756.7,374.39 L758.7,375.37 L760.7,376.32 L762.7,377.25 L764.7,378.13 L766.7,378.98 L768.7,379.79 L770.7,380.55 L772.7,381.27 L774.7,381.94 L776.7,382.59 L778.7,383.21 L780.7,383.81 L782.7,384.41 L784.7,385.00 L786.7,385.61 L788.7,386.23 L790.7,386.87 L792.7,387.54 L794.7,388.24 L796.7,388.97 L798.7,389.70 L800.7,390.44 L802.7,391.18 L804.7,391.90 L806.7,392.59 L808.7,393.25 L810.7,393.87 L812.7,394.44 L814.7,395.00 L816.7,395.55 L818.7,396.10 L820.7,396.62 L822.7,397.14 L824.7,397.64 L826.7,398.13 L828.7,398.60 L830.7,399.06 L832.7,399.49 L834.7,399.91 L836.7,400.31 L838.7,400.69 L840.7,401.05 L841.0,401.10"/>
<path class="c1s" d="M178.7,313.50 L180.7,313.68 L182.7,313.85 L184.7,314.02 L186.7,314.19 L188.7,314.36 L190.7,314.52 L192.7,314.68 L194.7,314.83 L196.7,314.98 L198.7,315.13 L200.7,315.27 L202.7,315.41 L204.7,315.55 L206.7,315.69 L208.7,315.85 L210.7,316.00 L212.7,316.16 L214.7,316.31 L216.7,316.46 L218.7,316.59 L220.7,316.70 L222.7,316.79 L224.7,316.86 L226.7,316.89 L228.7,316.90 L230.7,316.90 L232.7,316.90 L234.7,316.90 L236.7,316.90 L238.7,316.90 L240.7,316.90 L242.7,316.90 L244.7,316.90 L246.7,316.90 L248.7,316.90 L250.7,316.90 L252.7,316.90 L254.7,316.90 L256.7,316.90 L258.7,316.90 L260.7,316.90 L262.7,316.90 L264.7,316.90 L266.7,316.90 L268.7,316.90 L270.7,316.90 L272.7,316.90 L274.7,316.90 L276.7,316.89 L278.7,316.89 L280.7,316.88 L282.7,316.87 L284.7,316.86 L286.7,316.84 L288.7,316.83 L290.7,316.81 L292.7,316.79 L294.7,316.77 L296.7,316.75 L298.7,316.73 L300.7,316.70 L302.7,316.67 L304.7,316.61 L306.7,316.53 L308.7,316.43 L310.7,316.32 L312.7,316.20 L314.7,316.06 L316.7,315.93 L318.7,315.79 L320.7,315.65 L322.7,315.52 L324.7,315.39 L326.7,315.24 L328.7,315.08 L330.7,314.92 L332.7,314.75 L334.7,314.57 L336.7,314.40 L338.7,314.23 L340.7,314.06 L342.7,313.90 L344.7,313.75 L346.7,313.61 L348.7,313.49 L350.7,313.37 L352.7,313.27 L354.7,313.17 L356.7,313.07 L358.7,312.98 L360.7,312.89 L362.7,312.80 L364.7,312.71 L366.7,312.62 L368.7,312.53 L370.7,312.43 L372.7,312.32 L374.7,312.21 L376.7,312.09 L378.7,311.99 L380.7,311.89 L382.7,311.80 L384.7,311.72 L386.7,311.66 L388.7,311.62 L390.7,311.60 L392.7,311.61 L394.7,311.64 L396.7,311.69 L398.7,311.76 L400.7,311.85 L402.7,311.95 L404.7,312.07 L406.7,312.21 L408.7,312.35 L410.7,312.51 L412.7,312.67 L414.7,312.84 L416.7,313.02 L418.7,313.24 L420.7,313.53 L422.7,313.88 L424.7,314.28 L426.7,314.71 L428.7,315.18 L430.7,315.66 L432.7,316.15 L434.7,316.65 L436.7,317.20 L438.7,317.78 L440.7,318.40 L442.7,319.05 L444.7,319.73 L446.7,320.44 L448.7,321.17 L450.7,321.92 L452.7,322.69 L454.7,323.47 L456.7,324.27 L458.7,325.07 L460.7,325.87 L462.7,326.67 L464.7,327.49 L466.7,328.33 L468.7,329.20 L470.7,330.09 L472.7,331.00 L474.7,331.93 L476.7,332.89 L478.7,333.86 L480.7,334.85 L482.7,335.87 L484.7,336.94 L486.7,338.05 L488.7,339.19 L490.7,340.35 L492.7,341.51 L494.7,342.67 L496.7,343.82 L498.7,344.94 L500.7,346.03 L502.7,347.09 L504.7,348.14 L506.7,349.18 L508.7,350.22 L510.7,351.27 L512.7,352.32 L514.7,353.36 L516.7,354.40 L518.7,355.43 L520.7,356.46 L522.7,357.49 L524.7,358.51 L526.7,359.54 L528.7,360.57 L530.7,361.60 L532.7,362.63 L534.7,363.67 L536.7,364.71 L538.7,365.76 L540.7,366.82 L542.7,367.88 L544.7,368.95 L546.7,370.04 L548.7,371.13 L550.7,372.24 L552.7,373.35 L554.7,374.49 L556.7,375.63 L558.7,376.79 L560.7,377.96 L562.7,379.14 L564.7,380.32 L566.7,381.52 L568.7,382.72 L570.7,383.93 L572.7,385.16 L574.7,386.39 L576.7,387.63 L578.7,388.88 L580.7,390.14 L582.7,391.42 L584.7,392.70 L586.7,394.00 L588.7,395.30 L590.7,396.62 L592.7,397.95 L594.7,399.29 L596.7,400.65 L598.7,402.01 L600.7,403.39 L602.7,404.78 L604.7,406.19 L606.7,407.62 L608.7,409.10 L610.7,410.63 L612.7,412.19 L614.7,413.78 L616.7,415.40 L618.7,417.04 L620.7,418.69 L622.7,420.34 L624.7,422.00 L626.7,423.65 L628.7,425.29 L630.7,426.91 L632.7,428.50 L634.7,430.07 L636.7,431.60 L638.7,433.08 L640.7,434.52 L642.7,435.89 L644.7,437.19 L646.7,438.43 L648.7,439.67 L650.7,440.94 L652.7,442.28 L654.7,443.66 L656.7,445.08 L658.7,446.52 L660.7,447.99 L662.7,449.47 L664.7,450.95 L666.7,452.43 L668.7,453.89 L670.7,455.34 L672.7,456.75 L674.7,458.12 L676.7,459.45 L678.7,460.72 L680.7,461.96 L682.7,463.16 L684.7,464.34 L686.7,465.50 L688.7,466.64 L690.7,467.76 L692.7,468.86 L694.7,469.95 L696.7,471.03 L698.7,472.10 L700.7,473.17 L702.7,474.23 L704.7,475.29 L706.7,476.35 L708.7,477.41 L710.7,478.47 L712.7,479.55 L714.7,480.64 L716.7,481.73 L718.7,482.82 L720.7,483.92 L722.7,485.01 L724.7,486.10 L726.7,487.18 L728.7,488.24 L730.7,489.29 L732.7,490.33 L734.7,491.34 L736.7,492.33 L738.7,493.29 L740.7,494.23 L742.7,495.13 L744.7,496.00 L746.7,496.83 L748.7,497.64 L750.7,498.44 L752.7,499.22 L754.7,499.98 L756.7,500.73 L758.7,501.47 L760.7,502.19 L762.7,502.89 L764.7,503.58 L766.7,504.25 L768.7,504.90 L770.7,505.54 L772.7,506.16 L774.7,506.77 L776.7,507.36 L778.7,507.94 L780.7,508.49 L782.7,509.05 L784.7,509.59 L786.7,510.14 L788.7,510.67 L790.7,511.20 L792.7,511.71 L794.7,512.22 L796.7,512.71 L798.7,513.19 L800.7,513.65 L802.7,514.10 L804.7,514.53 L806.7,514.93 L808.7,515.32 L810.7,515.69 L812.7,516.03 L814.7,516.35 L816.7,516.65 L818.7,516.95 L820.7,517.23 L822.7,517.51 L824.7,517.77 L826.7,518.02 L828.7,518.26 L830.7,518.49 L832.7,518.70 L834.7,518.89 L836.7,519.07 L838.7,519.24 L840.7,519.38 L841.0,519.40"/>
<path class="c1t" d="M178.7,313.50 L180.7,314.47 L182.7,315.42 L184.7,316.35 L186.7,317.26 L188.7,318.14 L190.7,318.99 L192.7,319.83 L194.7,320.63 L196.7,321.41 L198.7,322.16 L200.7,322.88 L202.7,323.57 L204.7,324.23 L206.7,324.86 L208.7,325.46 L210.7,326.04 L212.7,326.60 L214.7,327.14 L216.7,327.66 L218.7,328.18 L220.7,328.68 L222.7,329.18 L224.7,329.68 L226.7,330.17 L228.7,330.65 L230.7,331.10 L232.7,331.55 L234.7,331.98 L236.7,332.41 L238.7,332.85 L240.7,333.30 L242.7,333.76 L244.7,334.25 L246.7,334.76 L248.7,335.30 L250.7,335.87 L252.7,336.45 L254.7,337.05 L256.7,337.66 L258.7,338.27 L260.7,338.88 L262.7,339.50 L264.7,340.10 L266.7,340.69 L268.7,341.27 L270.7,341.85 L272.7,342.42 L274.7,343.00 L276.7,343.57 L278.7,344.13 L280.7,344.70 L282.7,345.26 L284.7,345.82 L286.7,346.37 L288.7,346.92 L290.7,347.48 L292.7,348.06 L294.7,348.66 L296.7,349.25 L298.7,349.82 L300.7,350.36 L302.7,350.84 L304.7,351.27 L306.7,351.62 L308.7,351.94 L310.7,352.26 L312.7,352.56 L314.7,352.85 L316.7,353.13 L318.7,353.40 L320.7,353.65 L322.7,353.89 L324.7,354.10 L326.7,354.30 L328.7,354.47 L330.7,354.62 L332.7,354.75 L334.7,354.86 L336.7,354.94 L338.7,355.01 L340.7,355.08 L342.7,355.15 L344.7,355.21 L346.7,355.27 L348.7,355.32 L350.7,355.37 L352.7,355.40 L354.7,355.43 L356.7,355.44 L358.7,355.45 L360.7,355.42 L362.7,355.33 L364.7,355.18 L366.7,354.99 L368.7,354.75 L370.7,354.48 L372.7,354.17 L374.7,353.83 L376.7,353.47 L378.7,353.10 L380.7,352.71 L382.7,352.32 L384.7,351.92 L386.7,351.53 L388.7,351.16 L390.7,350.79 L392.7,350.45 L394.7,350.13 L396.7,349.84 L398.7,349.59 L400.7,349.37 L402.7,349.14 L404.7,348.91 L406.7,348.68 L408.7,348.44 L410.7,348.21 L412.7,347.99 L414.7,347.79 L416.7,347.60 L418.7,347.42 L420.7,347.28 L422.7,347.16 L424.7,347.07 L426.7,347.01 L428.7,347.00 L430.7,347.00 L432.7,347.00 L434.7,347.00 L436.7,347.00 L438.7,347.00 L440.7,347.00 L442.7,347.00 L444.7,347.00 L446.7,347.00 L448.7,347.00 L450.7,347.00 L452.7,347.02 L454.7,347.10 L456.7,347.26 L458.7,347.49 L460.7,347.77 L462.7,348.11 L464.7,348.49 L466.7,348.92 L468.7,349.39 L470.7,349.89 L472.7,350.41 L474.7,350.96 L476.7,351.52 L478.7,352.09 L480.7,352.66 L482.7,353.24 L484.7,353.81 L486.7,354.42 L488.7,355.10 L490.7,355.85 L492.7,356.66 L494.7,357.52 L496.7,358.42 L498.7,359.37 L500.7,360.35 L502.7,361.42 L504.7,362.58 L506.7,363.81 L508.7,365.10 L510.7,366.44 L512.7,367.80 L514.7,369.19 L516.7,370.57 L518.7,371.97 L520.7,373.39 L522.7,374.85 L524.7,376.34 L526.7,377.87 L528.7,379.42 L530.7,381.00 L532.7,382.61 L534.7,384.25 L536.7,385.93 L538.7,387.66 L540.7,389.43 L542.7,391.24 L544.7,393.08 L546.7,394.94 L548.7,396.83 L550.7,398.72 L552.7,400.62 L554.7,402.52 L556.7,404.41 L558.7,406.31 L560.7,408.24 L562.7,410.19 L564.7,412.16 L566.7,414.14 L568.7,416.13 L570.7,418.12 L572.7,420.11 L574.7,422.09 L576.7,424.05 L578.7,426.00 L580.7,427.91 L582.7,429.80 L584.7,431.65 L586.7,433.46 L588.7,435.24 L590.7,437.01 L592.7,438.76 L594.7,440.48 L596.7,442.17 L598.7,443.83 L600.7,445.47 L602.7,447.07 L604.7,448.63 L606.7,450.19 L608.7,451.72 L610.7,453.22 L612.7,454.70 L614.7,456.16 L616.7,457.58 L618.7,458.97 L620.7,460.32 L622.7,461.63 L624.7,462.94 L626.7,464.26 L628.7,465.60 L630.7,466.93 L632.7,468.25 L634.7,469.54 L636.7,470.80 L638.7,472.02 L640.7,473.19 L642.7,474.29 L644.7,475.32 L646.7,476.26 L648.7,477.12 L650.7,477.86 L652.7,478.52 L654.7,479.16 L656.7,479.75 L658.7,480.28 L660.7,480.71 L662.7,481.01 L664.7,481.19 L666.7,481.34 L668.7,481.48 L670.7,481.61 L672.7,481.73 L674.7,481.83 L676.7,481.92 L678.7,482.00 L680.7,482.06 L682.7,482.11 L684.7,482.14 L686.7,482.15 L688.7,482.13 L690.7,482.02 L692.7,481.84 L694.7,481.61 L696.7,481.32 L698.7,480.99 L700.7,480.64 L702.7,480.27 L704.7,479.91 L706.7,479.54 L708.7,479.20 L710.7,478.89 L712.7,478.56 L714.7,478.21 L716.7,477.83 L718.7,477.43 L720.7,477.02 L722.7,476.61 L724.7,476.19 L726.7,475.78 L728.7,475.37 L730.7,474.97 L732.7,474.60 L734.7,474.24 L736.7,473.91 L738.7,473.62 L740.7,473.36 L742.7,473.15 L744.7,472.98 L746.7,472.86 L748.7,472.75 L750.7,472.65 L752.7,472.57 L754.7,472.52 L756.7,472.50 L758.7,472.66 L760.7,473.03 L762.7,473.58 L764.7,474.28 L766.7,475.10 L768.7,476.01 L770.7,476.98 L772.7,477.97 L774.7,478.95 L776.7,479.89 L778.7,480.79 L780.7,481.74 L782.7,482.75 L784.7,483.81 L786.7,484.91 L788.7,486.04 L790.7,487.21 L792.7,488.39 L794.7,489.60 L796.7,490.82 L798.7,492.04 L800.7,493.29 L802.7,494.56 L804.7,495.87 L806.7,497.23 L808.7,498.63 L810.7,500.09 L812.7,501.61 L814.7,503.24 L816.7,505.03 L818.7,506.94 L820.7,508.92 L822.7,510.92 L824.7,512.87 L826.7,514.74 L828.7,516.46 L830.7,518.03 L832.7,519.52 L834.7,521.03 L836.7,522.59 L838.7,524.17 L840.7,525.76 L841.0,526.00"/>
<line x1="1292.81" y1="154.70" x2="1292.81" y2="745.70" class="grid"/>
<line x1="1387.43" y1="154.70" x2="1387.43" y2="745.70" class="grid"/>
<line x1="1482.04" y1="154.70" x2="1482.04" y2="745.70" class="grid"/>
<line x1="1576.66" y1="154.70" x2="1576.66" y2="745.70" class="grid"/>
<line x1="1671.27" y1="154.70" x2="1671.27" y2="745.70" class="grid"/>
<line x1="1765.89" y1="154.70" x2="1765.89" y2="745.70" class="grid"/>
<line x1="1198.20" y1="272.90" x2="1860.50" y2="272.90" class="grid"/>
<line x1="1198.20" y1="391.10" x2="1860.50" y2="391.10" class="grid"/>
<line x1="1198.20" y1="509.30" x2="1860.50" y2="509.30" class="grid"/>
<line x1="1198.20" y1="627.50" x2="1860.50" y2="627.50" class="grid"/>
<line x1="1177.50" y1="745.70" x2="1198.20" y2="745.70" stroke="#222" stroke-width="1.7"/>
<line x1="1198.20" y1="745.70" x2="1860.50" y2="745.70" stroke="#6a6a6a" stroke-width="1.2"/>
<line x1="1198.20" y1="745.70" x2="1860.50" y2="745.70" stroke="#151515" stroke-width="1.8" stroke-dasharray="5.4 4.9" stroke-dashoffset="-4.0"/>
<line x1="1198.20" y1="154.70" x2="1198.20" y2="766.70" stroke="#2a2a2a" stroke-width="1.6"/>
<line x1="1860.50" y1="154.70" x2="1860.50" y2="766.70" stroke="#2a2a2a" stroke-width="1.6"/>
<line x1="1177.50" y1="154.70" x2="1861.40" y2="154.70" stroke="#050505" stroke-width="2.2"/>
<line x1="1177.50" y1="272.90" x2="1198.20" y2="272.90" stroke="#222" stroke-width="1.7"/>
<line x1="1177.50" y1="391.10" x2="1198.20" y2="391.10" stroke="#222" stroke-width="1.7"/>
<line x1="1177.50" y1="509.30" x2="1198.20" y2="509.30" stroke="#222" stroke-width="1.7"/>
<line x1="1177.50" y1="627.50" x2="1198.20" y2="627.50" stroke="#222" stroke-width="1.7"/>
<line x1="1292.81" y1="745.70" x2="1292.81" y2="766.70" stroke="#222" stroke-width="1.7"/>
<line x1="1387.43" y1="745.70" x2="1387.43" y2="766.70" stroke="#222" stroke-width="1.7"/>
<line x1="1482.04" y1="745.70" x2="1482.04" y2="766.70" stroke="#222" stroke-width="1.7"/>
<line x1="1576.66" y1="745.70" x2="1576.66" y2="766.70" stroke="#222" stroke-width="1.7"/>
<line x1="1671.27" y1="745.70" x2="1671.27" y2="766.70" stroke="#222" stroke-width="1.7"/>
<line x1="1765.89" y1="745.70" x2="1765.89" y2="766.70" stroke="#222" stroke-width="1.7"/>
<text transform="translate(1122.50,167.00) scale(0.9657,1.020)" x="-2.51" y="0" font-size="33.0">100</text>
<text transform="translate(1137.50,285.20) scale(1.0152,1.020)" x="-1.43" y="0" font-size="33.0">80</text>
<text transform="translate(1137.50,403.40) scale(1.0225,1.020)" x="-1.68" y="0" font-size="33.0">60</text>
<text transform="translate(1137.50,521.60) scale(0.9954,1.020)" x="-0.76" y="0" font-size="33.0">40</text>
<text transform="translate(1137.50,639.80) scale(1.0220,1.020)" x="-1.66" y="0" font-size="33.0">20</text>
<text transform="translate(1156.50,758.00) scale(0.9826,1.020)" x="-1.29" y="0" font-size="33.0">0</text>
<text transform="translate(1190.80,798.00) scale(0.9636,1.020)" x="-1.29" y="0" font-size="33.0">0</text>
<text transform="translate(1285.41,798.00) scale(0.9715,1.020)" x="-1.26" y="0" font-size="33.0">3</text>
<text transform="translate(1380.03,798.00) scale(0.9982,1.020)" x="-1.68" y="0" font-size="33.0">6</text>
<text transform="translate(1474.64,798.00) scale(0.9972,1.020)" x="-1.55" y="0" font-size="33.0">9</text>
<text transform="translate(1560.66,798.00) scale(0.8668,1.020)" x="-2.51" y="0" font-size="33.0">12</text>
<text transform="translate(1655.27,798.00) scale(0.8596,1.020)" x="-2.51" y="0" font-size="33.0">15</text>
<text transform="translate(1749.89,798.00) scale(0.8609,1.020)" x="-2.51" y="0" font-size="33.0">18</text>
<text transform="translate(1844.50,798.00) scale(0.8434,1.020)" x="-1.66" y="0" font-size="33.0">21</text>
<text transform="translate(1760.00,859.00) scale(0.9843,1.020)" x="-0.73" y="0" font-size="33.0">Y'[mm]</text>
<text transform="translate(1181.00,131.00) scale(0.7912,1.020)" x="-2.35" y="0" font-size="33.0">[%]</text>
<text transform="translate(1391.00,95.20) scale(1.0000,1.020)" x="-0.47" y="0" font-size="33.0" letter-spacing="3.956">f/8</text>
<path class="c2s" d="M1198.2,171.90 L1200.2,171.90 L1202.2,171.90 L1204.2,171.90 L1206.2,171.90 L1208.2,171.90 L1210.2,171.90 L1212.2,171.90 L1214.2,171.90 L1216.2,171.90 L1218.2,171.90 L1220.2,171.90 L1222.2,171.90 L1224.2,171.90 L1226.2,171.90 L1228.2,171.90 L1230.2,171.90 L1232.2,171.90 L1234.2,171.90 L1236.2,171.90 L1238.2,171.90 L1240.2,171.90 L1242.2,171.90 L1244.2,171.90 L1246.2,171.90 L1248.2,171.90 L1250.2,171.90 L1252.2,171.90 L1254.2,171.90 L1256.2,171.90 L1258.2,171.90 L1260.2,171.90 L1262.2,171.90 L1264.2,171.90 L1266.2,171.90 L1268.2,171.90 L1270.2,171.90 L1272.2,171.90 L1274.2,171.90 L1276.2,171.90 L1278.2,171.90 L1280.2,171.90 L1282.2,171.90 L1284.2,171.90 L1286.2,171.90 L1288.2,171.90 L1290.2,171.90 L1292.2,171.90 L1294.2,171.90 L1296.2,171.90 L1298.2,171.90 L1300.2,171.90 L1302.2,171.90 L1304.2,171.90 L1306.2,171.90 L1308.2,171.90 L1310.2,171.90 L1312.2,171.90 L1314.2,171.90 L1316.2,171.90 L1318.2,171.90 L1320.2,171.90 L1322.2,171.90 L1324.2,171.90 L1326.2,171.90 L1328.2,171.90 L1330.2,171.90 L1332.2,171.90 L1334.2,171.90 L1336.2,171.90 L1338.2,171.90 L1340.2,171.90 L1342.2,171.90 L1344.2,171.90 L1346.2,171.90 L1348.2,171.90 L1350.2,171.90 L1352.2,171.90 L1354.2,171.90 L1356.2,171.90 L1358.2,171.90 L1360.2,171.90 L1362.2,171.90 L1364.2,171.90 L1366.2,171.90 L1368.2,171.90 L1370.2,171.90 L1372.2,171.90 L1374.2,171.90 L1376.2,171.90 L1378.2,171.90 L1380.2,171.90 L1382.2,171.90 L1384.2,171.90 L1386.2,171.90 L1388.2,171.90 L1390.2,171.90 L1392.2,171.90 L1394.2,171.90 L1396.2,171.90 L1398.2,171.90 L1400.2,171.90 L1402.2,171.90 L1404.2,171.90 L1406.2,171.90 L1408.2,171.90 L1410.2,171.90 L1412.2,171.90 L1414.2,171.90 L1416.2,171.90 L1418.2,171.90 L1420.2,171.90 L1422.2,171.90 L1424.2,171.90 L1426.2,171.90 L1428.2,171.90 L1430.2,171.90 L1432.2,171.90 L1434.2,171.90 L1436.2,171.90 L1438.2,171.90 L1440.2,171.90 L1442.2,171.90 L1444.2,171.90 L1446.2,171.90 L1448.2,171.91 L1450.2,171.91 L1452.2,171.91 L1454.2,171.92 L1456.2,171.92 L1458.2,171.93 L1460.2,171.93 L1462.2,171.94 L1464.2,171.94 L1466.2,171.95 L1468.2,171.96 L1470.2,171.96 L1472.2,171.97 L1474.2,171.98 L1476.2,171.99 L1478.2,171.99 L1480.2,172.00 L1482.2,172.01 L1484.2,172.02 L1486.2,172.02 L1488.2,172.03 L1490.2,172.04 L1492.2,172.04 L1494.2,172.05 L1496.2,172.06 L1498.2,172.06 L1500.2,172.07 L1502.2,172.07 L1504.2,172.08 L1506.2,172.08 L1508.2,172.09 L1510.2,172.09 L1512.2,172.09 L1514.2,172.10 L1516.2,172.10 L1518.2,172.10 L1520.2,172.10 L1522.2,172.10 L1524.2,172.09 L1526.2,172.07 L1528.2,172.05 L1530.2,172.02 L1532.2,171.99 L1534.2,171.95 L1536.2,171.91 L1538.2,171.87 L1540.2,171.82 L1542.2,171.77 L1544.2,171.71 L1546.2,171.65 L1548.2,171.59 L1550.2,171.48 L1552.2,171.32 L1554.2,171.14 L1556.2,170.96 L1558.2,170.84 L1560.2,170.80 L1562.2,170.80 L1564.2,170.80 L1566.2,170.80 L1568.2,170.80 L1570.2,170.80 L1572.2,170.80 L1574.2,170.80 L1576.2,170.80 L1578.2,170.80 L1580.2,170.80 L1582.2,170.80 L1584.2,170.80 L1586.2,170.80 L1588.2,170.80 L1590.2,170.80 L1592.2,170.80 L1594.2,170.80 L1596.2,170.80 L1598.2,170.80 L1600.2,170.80 L1602.2,170.80 L1604.2,170.80 L1606.2,170.80 L1608.2,170.80 L1610.2,170.80 L1612.2,170.80 L1614.2,170.80 L1616.2,170.80 L1618.2,170.80 L1620.2,170.80 L1622.2,170.80 L1624.2,170.80 L1626.2,170.84 L1628.2,171.04 L1630.2,171.34 L1632.2,171.66 L1634.2,171.90 L1636.2,172.00 L1638.2,172.02 L1640.2,172.03 L1642.2,172.04 L1644.2,172.05 L1646.2,172.06 L1648.2,172.07 L1650.2,172.08 L1652.2,172.09 L1654.2,172.09 L1656.2,172.10 L1658.2,172.10 L1660.2,172.10 L1662.2,172.11 L1664.2,172.11 L1666.2,172.11 L1668.2,172.12 L1670.2,172.12 L1672.2,172.12 L1674.2,172.12 L1676.2,172.13 L1678.2,172.13 L1680.2,172.13 L1682.2,172.14 L1684.2,172.14 L1686.2,172.15 L1688.2,172.15 L1690.2,172.16 L1692.2,172.17 L1694.2,172.18 L1696.2,172.19 L1698.2,172.20 L1700.2,172.21 L1702.2,172.24 L1704.2,172.28 L1706.2,172.32 L1708.2,172.37 L1710.2,172.43 L1712.2,172.50 L1714.2,172.57 L1716.2,172.65 L1718.2,172.73 L1720.2,172.81 L1722.2,172.90 L1724.2,172.99 L1726.2,173.08 L1728.2,173.17 L1730.2,173.26 L1732.2,173.35 L1734.2,173.43 L1736.2,173.52 L1738.2,173.60 L1740.2,173.67 L1742.2,173.74 L1744.2,173.81 L1746.2,173.87 L1748.2,173.92 L1750.2,173.97 L1752.2,174.01 L1754.2,174.06 L1756.2,174.10 L1758.2,174.15 L1760.2,174.19 L1762.2,174.23 L1764.2,174.27 L1766.2,174.31 L1768.2,174.35 L1770.2,174.39 L1772.2,174.43 L1774.2,174.47 L1776.2,174.50 L1778.2,174.54 L1780.2,174.57 L1782.2,174.61 L1784.2,174.64 L1786.2,174.67 L1788.2,174.70 L1790.2,174.73 L1792.2,174.76 L1794.2,174.79 L1796.2,174.83 L1798.2,174.86 L1800.2,174.88 L1802.2,174.91 L1804.2,174.94 L1806.2,174.97 L1808.2,175.00 L1810.2,175.03 L1812.2,175.06 L1814.2,175.09 L1816.2,175.11 L1818.2,175.14 L1820.2,175.17 L1822.2,175.19 L1824.2,175.22 L1826.2,175.24 L1828.2,175.27 L1830.2,175.29 L1832.2,175.32 L1834.2,175.34 L1836.2,175.36 L1838.2,175.39 L1840.2,175.41 L1842.2,175.43 L1844.2,175.45 L1846.2,175.47 L1848.2,175.49 L1850.2,175.51 L1852.2,175.53 L1854.2,175.55 L1856.2,175.56 L1858.2,175.58 L1860.2,175.60 L1860.5,175.60"/>
<path class="c2t" d="M1198.2,172.00 L1200.2,172.00 L1202.2,172.00 L1204.2,172.00 L1206.2,172.00 L1208.2,172.00 L1210.2,172.00 L1212.2,172.00 L1214.2,172.00 L1216.2,172.00 L1218.2,172.00 L1220.2,172.00 L1222.2,172.00 L1224.2,172.00 L1226.2,172.01 L1228.2,172.01 L1230.2,172.01 L1232.2,172.01 L1234.2,172.01 L1236.2,172.01 L1238.2,172.01 L1240.2,172.01 L1242.2,172.01 L1244.2,172.01 L1246.2,172.02 L1248.2,172.02 L1250.2,172.02 L1252.2,172.02 L1254.2,172.02 L1256.2,172.02 L1258.2,172.03 L1260.2,172.03 L1262.2,172.03 L1264.2,172.03 L1266.2,172.03 L1268.2,172.04 L1270.2,172.04 L1272.2,172.04 L1274.2,172.04 L1276.2,172.04 L1278.2,172.05 L1280.2,172.05 L1282.2,172.05 L1284.2,172.06 L1286.2,172.06 L1288.2,172.06 L1290.2,172.06 L1292.2,172.07 L1294.2,172.07 L1296.2,172.07 L1298.2,172.08 L1300.2,172.08 L1302.2,172.08 L1304.2,172.09 L1306.2,172.09 L1308.2,172.10 L1310.2,172.10 L1312.2,172.10 L1314.2,172.11 L1316.2,172.11 L1318.2,172.12 L1320.2,172.12 L1322.2,172.13 L1324.2,172.13 L1326.2,172.14 L1328.2,172.14 L1330.2,172.15 L1332.2,172.15 L1334.2,172.16 L1336.2,172.16 L1338.2,172.17 L1340.2,172.17 L1342.2,172.18 L1344.2,172.18 L1346.2,172.19 L1348.2,172.19 L1350.2,172.20 L1352.2,172.21 L1354.2,172.21 L1356.2,172.22 L1358.2,172.23 L1360.2,172.23 L1362.2,172.24 L1364.2,172.25 L1366.2,172.25 L1368.2,172.26 L1370.2,172.27 L1372.2,172.28 L1374.2,172.28 L1376.2,172.29 L1378.2,172.30 L1380.2,172.31 L1382.2,172.31 L1384.2,172.32 L1386.2,172.33 L1388.2,172.34 L1390.2,172.35 L1392.2,172.36 L1394.2,172.36 L1396.2,172.37 L1398.2,172.38 L1400.2,172.39 L1402.2,172.40 L1404.2,172.42 L1406.2,172.46 L1408.2,172.51 L1410.2,172.58 L1412.2,172.66 L1414.2,172.75 L1416.2,172.85 L1418.2,172.95 L1420.2,173.06 L1422.2,173.17 L1424.2,173.28 L1426.2,173.39 L1428.2,173.50 L1430.2,173.60 L1432.2,173.69 L1434.2,173.78 L1436.2,173.85 L1438.2,173.91 L1440.2,173.96 L1442.2,173.99 L1444.2,174.01 L1446.2,174.03 L1448.2,174.04 L1450.2,174.05 L1452.2,174.06 L1454.2,174.07 L1456.2,174.08 L1458.2,174.09 L1460.2,174.09 L1462.2,174.10 L1464.2,174.11 L1466.2,174.11 L1468.2,174.12 L1470.2,174.13 L1472.2,174.13 L1474.2,174.14 L1476.2,174.15 L1478.2,174.16 L1480.2,174.17 L1482.2,174.19 L1484.2,174.20 L1486.2,174.22 L1488.2,174.25 L1490.2,174.28 L1492.2,174.32 L1494.2,174.36 L1496.2,174.41 L1498.2,174.46 L1500.2,174.51 L1502.2,174.56 L1504.2,174.61 L1506.2,174.67 L1508.2,174.72 L1510.2,174.78 L1512.2,174.83 L1514.2,174.88 L1516.2,174.93 L1518.2,174.98 L1520.2,175.02 L1522.2,175.06 L1524.2,175.10 L1526.2,175.13 L1528.2,175.16 L1530.2,175.18 L1532.2,175.21 L1534.2,175.23 L1536.2,175.25 L1538.2,175.27 L1540.2,175.29 L1542.2,175.31 L1544.2,175.33 L1546.2,175.35 L1548.2,175.37 L1550.2,175.39 L1552.2,175.42 L1554.2,175.44 L1556.2,175.46 L1558.2,175.49 L1560.2,175.52 L1562.2,175.55 L1564.2,175.58 L1566.2,175.61 L1568.2,175.65 L1570.2,175.69 L1572.2,175.74 L1574.2,175.79 L1576.2,175.84 L1578.2,175.90 L1580.2,175.96 L1582.2,176.02 L1584.2,176.09 L1586.2,176.15 L1588.2,176.22 L1590.2,176.30 L1592.2,176.39 L1594.2,176.48 L1596.2,176.58 L1598.2,176.67 L1600.2,176.77 L1602.2,176.86 L1604.2,176.94 L1606.2,177.02 L1608.2,177.08 L1610.2,177.15 L1612.2,177.21 L1614.2,177.26 L1616.2,177.32 L1618.2,177.37 L1620.2,177.42 L1622.2,177.46 L1624.2,177.51 L1626.2,177.56 L1628.2,177.61 L1630.2,177.66 L1632.2,177.71 L1634.2,177.77 L1636.2,177.83 L1638.2,177.89 L1640.2,177.96 L1642.2,178.03 L1644.2,178.11 L1646.2,178.20 L1648.2,178.29 L1650.2,178.42 L1652.2,178.57 L1654.2,178.75 L1656.2,178.95 L1658.2,179.15 L1660.2,179.35 L1662.2,179.54 L1664.2,179.73 L1666.2,179.89 L1668.2,180.02 L1670.2,180.13 L1672.2,180.22 L1674.2,180.31 L1676.2,180.39 L1678.2,180.46 L1680.2,180.54 L1682.2,180.63 L1684.2,180.73 L1686.2,180.84 L1688.2,180.98 L1690.2,181.14 L1692.2,181.33 L1694.2,181.54 L1696.2,181.78 L1698.2,182.03 L1700.2,182.30 L1702.2,182.59 L1704.2,182.89 L1706.2,183.19 L1708.2,183.51 L1710.2,183.83 L1712.2,184.15 L1714.2,184.47 L1716.2,184.78 L1718.2,185.10 L1720.2,185.40 L1722.2,185.70 L1724.2,185.98 L1726.2,186.24 L1728.2,186.49 L1730.2,186.73 L1732.2,186.95 L1734.2,187.17 L1736.2,187.38 L1738.2,187.58 L1740.2,187.79 L1742.2,188.00 L1744.2,188.21 L1746.2,188.43 L1748.2,188.67 L1750.2,188.91 L1752.2,189.16 L1754.2,189.43 L1756.2,189.69 L1758.2,189.97 L1760.2,190.25 L1762.2,190.53 L1764.2,190.81 L1766.2,191.08 L1768.2,191.36 L1770.2,191.63 L1772.2,191.90 L1774.2,192.17 L1776.2,192.44 L1778.2,192.70 L1780.2,192.97 L1782.2,193.23 L1784.2,193.50 L1786.2,193.77 L1788.2,194.04 L1790.2,194.30 L1792.2,194.57 L1794.2,194.84 L1796.2,195.12 L1798.2,195.39 L1800.2,195.67 L1802.2,195.94 L1804.2,196.23 L1806.2,196.51 L1808.2,196.80 L1810.2,197.09 L1812.2,197.39 L1814.2,197.70 L1816.2,198.02 L1818.2,198.35 L1820.2,198.67 L1822.2,198.99 L1824.2,199.31 L1826.2,199.61 L1828.2,199.89 L1830.2,200.16 L1832.2,200.42 L1834.2,200.67 L1836.2,200.92 L1838.2,201.17 L1840.2,201.41 L1842.2,201.64 L1844.2,201.87 L1846.2,202.10 L1848.2,202.31 L1850.2,202.53 L1852.2,202.73 L1854.2,202.93 L1856.2,203.12 L1858.2,203.30 L1860.2,203.47 L1860.5,203.50"/>
<path class="c2s" d="M1198.2,189.50 L1200.2,189.50 L1202.2,189.49 L1204.2,189.49 L1206.2,189.48 L1208.2,189.47 L1210.2,189.46 L1212.2,189.44 L1214.2,189.42 L1216.2,189.40 L1218.2,189.38 L1220.2,189.36 L1222.2,189.33 L1224.2,189.30 L1226.2,189.27 L1228.2,189.24 L1230.2,189.21 L1232.2,189.18 L1234.2,189.14 L1236.2,189.10 L1238.2,189.06 L1240.2,189.02 L1242.2,188.98 L1244.2,188.94 L1246.2,188.90 L1248.2,188.82 L1250.2,188.71 L1252.2,188.58 L1254.2,188.46 L1256.2,188.38 L1258.2,188.35 L1260.2,188.35 L1262.2,188.35 L1264.2,188.35 L1266.2,188.35 L1268.2,188.35 L1270.2,188.35 L1272.2,188.35 L1274.2,188.35 L1276.2,188.35 L1278.2,188.35 L1280.2,188.35 L1282.2,188.35 L1284.2,188.35 L1286.2,188.35 L1288.2,188.35 L1290.2,188.35 L1292.2,188.35 L1294.2,188.35 L1296.2,188.35 L1298.2,188.35 L1300.2,188.35 L1302.2,188.35 L1304.2,188.35 L1306.2,188.35 L1308.2,188.35 L1310.2,188.35 L1312.2,188.35 L1314.2,188.35 L1316.2,188.35 L1318.2,188.35 L1320.2,188.35 L1322.2,188.35 L1324.2,188.35 L1326.2,188.35 L1328.2,188.35 L1330.2,188.35 L1332.2,188.35 L1334.2,188.35 L1336.2,188.35 L1338.2,188.35 L1340.2,188.35 L1342.2,188.35 L1344.2,188.35 L1346.2,188.35 L1348.2,188.35 L1350.2,188.35 L1352.2,188.35 L1354.2,188.35 L1356.2,188.35 L1358.2,188.35 L1360.2,188.35 L1362.2,188.35 L1364.2,188.35 L1366.2,188.35 L1368.2,188.35 L1370.2,188.35 L1372.2,188.35 L1374.2,188.35 L1376.2,188.35 L1378.2,188.35 L1380.2,188.35 L1382.2,188.35 L1384.2,188.35 L1386.2,188.35 L1388.2,188.35 L1390.2,188.35 L1392.2,188.35 L1394.2,188.35 L1396.2,188.35 L1398.2,188.35 L1400.2,188.35 L1402.2,188.35 L1404.2,188.35 L1406.2,188.35 L1408.2,188.35 L1410.2,188.35 L1412.2,188.35 L1414.2,188.35 L1416.2,188.35 L1418.2,188.35 L1420.2,188.35 L1422.2,188.35 L1424.2,188.35 L1426.2,188.35 L1428.2,188.35 L1430.2,188.35 L1432.2,188.35 L1434.2,188.35 L1436.2,188.35 L1438.2,188.35 L1440.2,188.35 L1442.2,188.35 L1444.2,188.35 L1446.2,188.35 L1448.2,188.35 L1450.2,188.35 L1452.2,188.35 L1454.2,188.35 L1456.2,188.35 L1458.2,188.35 L1460.2,188.35 L1462.2,188.35 L1464.2,188.35 L1466.2,188.35 L1468.2,188.35 L1470.2,188.35 L1472.2,188.35 L1474.2,188.35 L1476.2,188.35 L1478.2,188.35 L1480.2,188.35 L1482.2,188.35 L1484.2,188.35 L1486.2,188.35 L1488.2,188.35 L1490.2,188.35 L1492.2,188.35 L1494.2,188.35 L1496.2,188.35 L1498.2,188.35 L1500.2,188.35 L1502.2,188.35 L1504.2,188.35 L1506.2,188.35 L1508.2,188.35 L1510.2,188.35 L1512.2,188.35 L1514.2,188.35 L1516.2,188.35 L1518.2,188.35 L1520.2,188.35 L1522.2,188.35 L1524.2,188.35 L1526.2,188.36 L1528.2,188.36 L1530.2,188.37 L1532.2,188.37 L1534.2,188.38 L1536.2,188.39 L1538.2,188.40 L1540.2,188.41 L1542.2,188.42 L1544.2,188.44 L1546.2,188.45 L1548.2,188.47 L1550.2,188.48 L1552.2,188.50 L1554.2,188.52 L1556.2,188.53 L1558.2,188.55 L1560.2,188.57 L1562.2,188.59 L1564.2,188.61 L1566.2,188.63 L1568.2,188.66 L1570.2,188.68 L1572.2,188.70 L1574.2,188.72 L1576.2,188.75 L1578.2,188.77 L1580.2,188.80 L1582.2,188.84 L1584.2,188.87 L1586.2,188.91 L1588.2,188.96 L1590.2,189.00 L1592.2,189.06 L1594.2,189.11 L1596.2,189.17 L1598.2,189.24 L1600.2,189.30 L1602.2,189.37 L1604.2,189.45 L1606.2,189.53 L1608.2,189.62 L1610.2,189.70 L1612.2,189.80 L1614.2,189.90 L1616.2,190.00 L1618.2,190.10 L1620.2,190.21 L1622.2,190.33 L1624.2,190.45 L1626.2,190.60 L1628.2,190.87 L1630.2,191.16 L1632.2,191.41 L1634.2,191.51 L1636.2,191.55 L1638.2,191.59 L1640.2,191.62 L1642.2,191.65 L1644.2,191.67 L1646.2,191.69 L1648.2,191.70 L1650.2,191.71 L1652.2,191.73 L1654.2,191.74 L1656.2,191.75 L1658.2,191.76 L1660.2,191.77 L1662.2,191.79 L1664.2,191.81 L1666.2,191.83 L1668.2,191.86 L1670.2,191.89 L1672.2,191.93 L1674.2,191.98 L1676.2,192.05 L1678.2,192.14 L1680.2,192.23 L1682.2,192.34 L1684.2,192.46 L1686.2,192.59 L1688.2,192.72 L1690.2,192.87 L1692.2,193.02 L1694.2,193.18 L1696.2,193.34 L1698.2,193.51 L1700.2,193.68 L1702.2,193.85 L1704.2,194.03 L1706.2,194.20 L1708.2,194.37 L1710.2,194.54 L1712.2,194.71 L1714.2,194.87 L1716.2,195.03 L1718.2,195.18 L1720.2,195.33 L1722.2,195.47 L1724.2,195.60 L1726.2,195.74 L1728.2,195.88 L1730.2,196.02 L1732.2,196.15 L1734.2,196.29 L1736.2,196.43 L1738.2,196.56 L1740.2,196.70 L1742.2,196.84 L1744.2,196.97 L1746.2,197.11 L1748.2,197.25 L1750.2,197.38 L1752.2,197.52 L1754.2,197.65 L1756.2,197.79 L1758.2,197.92 L1760.2,198.06 L1762.2,198.19 L1764.2,198.32 L1766.2,198.46 L1768.2,198.60 L1770.2,198.74 L1772.2,198.89 L1774.2,199.04 L1776.2,199.19 L1778.2,199.35 L1780.2,199.50 L1782.2,199.65 L1784.2,199.79 L1786.2,199.94 L1788.2,200.07 L1790.2,200.19 L1792.2,200.31 L1794.2,200.42 L1796.2,200.51 L1798.2,200.59 L1800.2,200.66 L1802.2,200.71 L1804.2,200.76 L1806.2,200.79 L1808.2,200.83 L1810.2,200.86 L1812.2,200.89 L1814.2,200.91 L1816.2,200.94 L1818.2,200.97 L1820.2,201.01 L1822.2,201.04 L1824.2,201.09 L1826.2,201.14 L1828.2,201.21 L1830.2,201.31 L1832.2,201.46 L1834.2,201.65 L1836.2,201.85 L1838.2,202.06 L1840.2,202.25 L1842.2,202.41 L1844.2,202.52 L1846.2,202.62 L1848.2,202.71 L1850.2,202.80 L1852.2,202.88 L1854.2,202.95 L1856.2,203.01 L1858.2,203.06 L1860.2,203.10 L1860.5,203.10"/>
<path class="c2t" d="M1198.2,189.50 L1200.2,189.46 L1202.2,189.42 L1204.2,189.38 L1206.2,189.34 L1208.2,189.30 L1210.2,189.27 L1212.2,189.24 L1214.2,189.21 L1216.2,189.18 L1218.2,189.16 L1220.2,189.13 L1222.2,189.11 L1224.2,189.09 L1226.2,189.07 L1228.2,189.05 L1230.2,189.03 L1232.2,189.02 L1234.2,189.00 L1236.2,188.99 L1238.2,188.98 L1240.2,188.97 L1242.2,188.96 L1244.2,188.95 L1246.2,188.94 L1248.2,188.93 L1250.2,188.93 L1252.2,188.92 L1254.2,188.92 L1256.2,188.91 L1258.2,188.91 L1260.2,188.91 L1262.2,188.91 L1264.2,188.90 L1266.2,188.90 L1268.2,188.90 L1270.2,188.90 L1272.2,188.90 L1274.2,188.90 L1276.2,188.90 L1278.2,188.90 L1280.2,188.90 L1282.2,188.91 L1284.2,188.93 L1286.2,188.95 L1288.2,188.99 L1290.2,189.03 L1292.2,189.07 L1294.2,189.12 L1296.2,189.18 L1298.2,189.24 L1300.2,189.30 L1302.2,189.37 L1304.2,189.44 L1306.2,189.51 L1308.2,189.58 L1310.2,189.65 L1312.2,189.72 L1314.2,189.79 L1316.2,189.86 L1318.2,189.92 L1320.2,189.98 L1322.2,190.04 L1324.2,190.10 L1326.2,190.16 L1328.2,190.22 L1330.2,190.28 L1332.2,190.35 L1334.2,190.41 L1336.2,190.47 L1338.2,190.54 L1340.2,190.61 L1342.2,190.67 L1344.2,190.74 L1346.2,190.80 L1348.2,190.87 L1350.2,190.93 L1352.2,190.99 L1354.2,191.05 L1356.2,191.11 L1358.2,191.17 L1360.2,191.23 L1362.2,191.29 L1364.2,191.34 L1366.2,191.39 L1368.2,191.44 L1370.2,191.48 L1372.2,191.53 L1374.2,191.57 L1376.2,191.61 L1378.2,191.66 L1380.2,191.70 L1382.2,191.74 L1384.2,191.79 L1386.2,191.83 L1388.2,191.88 L1390.2,191.93 L1392.2,191.98 L1394.2,192.03 L1396.2,192.09 L1398.2,192.15 L1400.2,192.22 L1402.2,192.29 L1404.2,192.37 L1406.2,192.46 L1408.2,192.57 L1410.2,192.69 L1412.2,192.81 L1414.2,192.94 L1416.2,193.07 L1418.2,193.19 L1420.2,193.31 L1422.2,193.42 L1424.2,193.51 L1426.2,193.60 L1428.2,193.69 L1430.2,193.78 L1432.2,193.86 L1434.2,193.95 L1436.2,194.03 L1438.2,194.11 L1440.2,194.19 L1442.2,194.27 L1444.2,194.36 L1446.2,194.44 L1448.2,194.51 L1450.2,194.59 L1452.2,194.66 L1454.2,194.73 L1456.2,194.80 L1458.2,194.87 L1460.2,194.94 L1462.2,195.02 L1464.2,195.09 L1466.2,195.16 L1468.2,195.24 L1470.2,195.32 L1472.2,195.41 L1474.2,195.49 L1476.2,195.59 L1478.2,195.69 L1480.2,195.79 L1482.2,195.91 L1484.2,196.03 L1486.2,196.17 L1488.2,196.35 L1490.2,196.56 L1492.2,196.78 L1494.2,197.00 L1496.2,197.23 L1498.2,197.45 L1500.2,197.65 L1502.2,197.83 L1504.2,197.98 L1506.2,198.10 L1508.2,198.20 L1510.2,198.29 L1512.2,198.37 L1514.2,198.44 L1516.2,198.52 L1518.2,198.60 L1520.2,198.68 L1522.2,198.78 L1524.2,198.89 L1526.2,199.02 L1528.2,199.16 L1530.2,199.33 L1532.2,199.51 L1534.2,199.70 L1536.2,199.90 L1538.2,200.12 L1540.2,200.34 L1542.2,200.57 L1544.2,200.81 L1546.2,201.05 L1548.2,201.29 L1550.2,201.54 L1552.2,201.79 L1554.2,202.03 L1556.2,202.28 L1558.2,202.52 L1560.2,202.75 L1562.2,202.98 L1564.2,203.20 L1566.2,203.41 L1568.2,203.62 L1570.2,203.82 L1572.2,204.03 L1574.2,204.23 L1576.2,204.44 L1578.2,204.64 L1580.2,204.84 L1582.2,205.05 L1584.2,205.25 L1586.2,205.46 L1588.2,205.67 L1590.2,205.86 L1592.2,206.06 L1594.2,206.26 L1596.2,206.46 L1598.2,206.67 L1600.2,206.88 L1602.2,207.11 L1604.2,207.35 L1606.2,207.60 L1608.2,207.87 L1610.2,208.15 L1612.2,208.44 L1614.2,208.75 L1616.2,209.06 L1618.2,209.38 L1620.2,209.71 L1622.2,210.06 L1624.2,210.41 L1626.2,210.76 L1628.2,211.13 L1630.2,211.50 L1632.2,211.88 L1634.2,212.27 L1636.2,212.66 L1638.2,213.06 L1640.2,213.46 L1642.2,213.87 L1644.2,214.28 L1646.2,214.69 L1648.2,215.12 L1650.2,215.58 L1652.2,216.05 L1654.2,216.54 L1656.2,217.03 L1658.2,217.54 L1660.2,218.05 L1662.2,218.55 L1664.2,219.05 L1666.2,219.55 L1668.2,220.02 L1670.2,220.49 L1672.2,220.96 L1674.2,221.42 L1676.2,221.90 L1678.2,222.38 L1680.2,222.88 L1682.2,223.40 L1684.2,223.95 L1686.2,224.54 L1688.2,225.15 L1690.2,225.80 L1692.2,226.48 L1694.2,227.18 L1696.2,227.91 L1698.2,228.65 L1700.2,229.42 L1702.2,230.20 L1704.2,230.99 L1706.2,231.80 L1708.2,232.61 L1710.2,233.43 L1712.2,234.25 L1714.2,235.08 L1716.2,235.90 L1718.2,236.72 L1720.2,237.53 L1722.2,238.33 L1724.2,239.12 L1726.2,239.90 L1728.2,240.67 L1730.2,241.44 L1732.2,242.21 L1734.2,242.99 L1736.2,243.79 L1738.2,244.61 L1740.2,245.45 L1742.2,246.32 L1744.2,247.24 L1746.2,248.22 L1748.2,249.25 L1750.2,250.30 L1752.2,251.37 L1754.2,252.45 L1756.2,253.50 L1758.2,254.52 L1760.2,255.50 L1762.2,256.41 L1764.2,257.30 L1766.2,258.16 L1768.2,259.00 L1770.2,259.82 L1772.2,260.63 L1774.2,261.42 L1776.2,262.20 L1778.2,262.98 L1780.2,263.74 L1782.2,264.50 L1784.2,265.26 L1786.2,266.01 L1788.2,266.77 L1790.2,267.53 L1792.2,268.29 L1794.2,269.06 L1796.2,269.84 L1798.2,270.63 L1800.2,271.43 L1802.2,272.24 L1804.2,273.05 L1806.2,273.86 L1808.2,274.67 L1810.2,275.47 L1812.2,276.27 L1814.2,277.07 L1816.2,277.85 L1818.2,278.62 L1820.2,279.38 L1822.2,280.13 L1824.2,280.87 L1826.2,281.61 L1828.2,282.34 L1830.2,283.07 L1832.2,283.79 L1834.2,284.51 L1836.2,285.23 L1838.2,285.94 L1840.2,286.66 L1842.2,287.37 L1844.2,288.07 L1846.2,288.77 L1848.2,289.47 L1850.2,290.17 L1852.2,290.86 L1854.2,291.55 L1856.2,292.24 L1858.2,292.92 L1860.2,293.60 L1860.5,293.70"/>
<path class="c2s" d="M1198.2,223.20 L1200.2,223.18 L1202.2,223.16 L1204.2,223.14 L1206.2,223.12 L1208.2,223.10 L1210.2,223.08 L1212.2,223.06 L1214.2,223.04 L1216.2,223.02 L1218.2,223.00 L1220.2,222.98 L1222.2,222.97 L1224.2,222.95 L1226.2,222.93 L1228.2,222.91 L1230.2,222.89 L1232.2,222.87 L1234.2,222.85 L1236.2,222.83 L1238.2,222.82 L1240.2,222.80 L1242.2,222.78 L1244.2,222.76 L1246.2,222.75 L1248.2,222.73 L1250.2,222.71 L1252.2,222.70 L1254.2,222.68 L1256.2,222.66 L1258.2,222.65 L1260.2,222.63 L1262.2,222.62 L1264.2,222.60 L1266.2,222.59 L1268.2,222.57 L1270.2,222.56 L1272.2,222.55 L1274.2,222.53 L1276.2,222.52 L1278.2,222.51 L1280.2,222.50 L1282.2,222.48 L1284.2,222.47 L1286.2,222.46 L1288.2,222.45 L1290.2,222.44 L1292.2,222.43 L1294.2,222.42 L1296.2,222.41 L1298.2,222.41 L1300.2,222.40 L1302.2,222.39 L1304.2,222.39 L1306.2,222.38 L1308.2,222.37 L1310.2,222.37 L1312.2,222.36 L1314.2,222.36 L1316.2,222.36 L1318.2,222.35 L1320.2,222.35 L1322.2,222.35 L1324.2,222.35 L1326.2,222.35 L1328.2,222.35 L1330.2,222.35 L1332.2,222.35 L1334.2,222.35 L1336.2,222.35 L1338.2,222.35 L1340.2,222.35 L1342.2,222.35 L1344.2,222.35 L1346.2,222.35 L1348.2,222.35 L1350.2,222.35 L1352.2,222.35 L1354.2,222.35 L1356.2,222.35 L1358.2,222.35 L1360.2,222.35 L1362.2,222.35 L1364.2,222.35 L1366.2,222.35 L1368.2,222.35 L1370.2,222.35 L1372.2,222.35 L1374.2,222.35 L1376.2,222.35 L1378.2,222.35 L1380.2,222.35 L1382.2,222.35 L1384.2,222.35 L1386.2,222.35 L1388.2,222.35 L1390.2,222.35 L1392.2,222.35 L1394.2,222.35 L1396.2,222.35 L1398.2,222.35 L1400.2,222.35 L1402.2,222.35 L1404.2,222.35 L1406.2,222.35 L1408.2,222.35 L1410.2,222.35 L1412.2,222.35 L1414.2,222.35 L1416.2,222.35 L1418.2,222.35 L1420.2,222.35 L1422.2,222.35 L1424.2,222.35 L1426.2,222.35 L1428.2,222.35 L1430.2,222.35 L1432.2,222.35 L1434.2,222.35 L1436.2,222.35 L1438.2,222.35 L1440.2,222.35 L1442.2,222.35 L1444.2,222.35 L1446.2,222.35 L1448.2,222.35 L1450.2,222.35 L1452.2,222.35 L1454.2,222.35 L1456.2,222.35 L1458.2,222.35 L1460.2,222.35 L1462.2,222.35 L1464.2,222.35 L1466.2,222.36 L1468.2,222.38 L1470.2,222.40 L1472.2,222.43 L1474.2,222.46 L1476.2,222.49 L1478.2,222.54 L1480.2,222.58 L1482.2,222.63 L1484.2,222.68 L1486.2,222.74 L1488.2,222.80 L1490.2,222.86 L1492.2,222.93 L1494.2,223.00 L1496.2,223.07 L1498.2,223.14 L1500.2,223.22 L1502.2,223.29 L1504.2,223.37 L1506.2,223.45 L1508.2,223.53 L1510.2,223.61 L1512.2,223.69 L1514.2,223.77 L1516.2,223.85 L1518.2,223.94 L1520.2,224.02 L1522.2,224.10 L1524.2,224.20 L1526.2,224.31 L1528.2,224.43 L1530.2,224.56 L1532.2,224.69 L1534.2,224.84 L1536.2,224.98 L1538.2,225.14 L1540.2,225.29 L1542.2,225.45 L1544.2,225.61 L1546.2,225.78 L1548.2,225.94 L1550.2,226.10 L1552.2,226.26 L1554.2,226.42 L1556.2,226.58 L1558.2,226.73 L1560.2,226.88 L1562.2,227.02 L1564.2,227.16 L1566.2,227.29 L1568.2,227.41 L1570.2,227.52 L1572.2,227.62 L1574.2,227.72 L1576.2,227.79 L1578.2,227.86 L1580.2,227.92 L1582.2,227.97 L1584.2,228.01 L1586.2,228.06 L1588.2,228.10 L1590.2,228.14 L1592.2,228.19 L1594.2,228.24 L1596.2,228.30 L1598.2,228.38 L1600.2,228.47 L1602.2,228.59 L1604.2,228.73 L1606.2,228.90 L1608.2,229.10 L1610.2,229.32 L1612.2,229.55 L1614.2,229.81 L1616.2,230.08 L1618.2,230.36 L1620.2,230.66 L1622.2,230.96 L1624.2,231.28 L1626.2,231.60 L1628.2,231.93 L1630.2,232.26 L1632.2,232.59 L1634.2,232.92 L1636.2,233.25 L1638.2,233.58 L1640.2,233.89 L1642.2,234.20 L1644.2,234.51 L1646.2,234.84 L1648.2,235.18 L1650.2,235.53 L1652.2,235.89 L1654.2,236.25 L1656.2,236.62 L1658.2,236.98 L1660.2,237.35 L1662.2,237.71 L1664.2,238.06 L1666.2,238.41 L1668.2,238.74 L1670.2,239.05 L1672.2,239.35 L1674.2,239.62 L1676.2,239.88 L1678.2,240.13 L1680.2,240.39 L1682.2,240.65 L1684.2,240.93 L1686.2,241.24 L1688.2,241.58 L1690.2,241.94 L1692.2,242.31 L1694.2,242.71 L1696.2,243.12 L1698.2,243.55 L1700.2,243.99 L1702.2,244.44 L1704.2,244.90 L1706.2,245.37 L1708.2,245.84 L1710.2,246.32 L1712.2,246.80 L1714.2,247.28 L1716.2,247.76 L1718.2,248.24 L1720.2,248.71 L1722.2,249.18 L1724.2,249.64 L1726.2,250.08 L1728.2,250.52 L1730.2,250.94 L1732.2,251.36 L1734.2,251.78 L1736.2,252.19 L1738.2,252.61 L1740.2,253.03 L1742.2,253.44 L1744.2,253.85 L1746.2,254.26 L1748.2,254.66 L1750.2,255.06 L1752.2,255.46 L1754.2,255.85 L1756.2,256.23 L1758.2,256.61 L1760.2,256.98 L1762.2,257.35 L1764.2,257.70 L1766.2,258.05 L1768.2,258.38 L1770.2,258.71 L1772.2,259.03 L1774.2,259.34 L1776.2,259.65 L1778.2,259.95 L1780.2,260.25 L1782.2,260.55 L1784.2,260.85 L1786.2,261.14 L1788.2,261.44 L1790.2,261.74 L1792.2,262.05 L1794.2,262.36 L1796.2,262.69 L1798.2,263.02 L1800.2,263.36 L1802.2,263.71 L1804.2,264.06 L1806.2,264.41 L1808.2,264.76 L1810.2,265.11 L1812.2,265.45 L1814.2,265.79 L1816.2,266.11 L1818.2,266.43 L1820.2,266.73 L1822.2,267.02 L1824.2,267.29 L1826.2,267.55 L1828.2,267.78 L1830.2,267.99 L1832.2,268.18 L1834.2,268.34 L1836.2,268.48 L1838.2,268.62 L1840.2,268.75 L1842.2,268.87 L1844.2,268.99 L1846.2,269.11 L1848.2,269.21 L1850.2,269.30 L1852.2,269.39 L1854.2,269.46 L1856.2,269.52 L1858.2,269.57 L1860.2,269.60 L1860.5,269.60"/>
<path class="c2t" d="M1198.2,223.20 L1200.2,223.22 L1202.2,223.25 L1204.2,223.27 L1206.2,223.29 L1208.2,223.32 L1210.2,223.34 L1212.2,223.36 L1214.2,223.38 L1216.2,223.39 L1218.2,223.41 L1220.2,223.43 L1222.2,223.44 L1224.2,223.45 L1226.2,223.47 L1228.2,223.48 L1230.2,223.48 L1232.2,223.49 L1234.2,223.50 L1236.2,223.50 L1238.2,223.50 L1240.2,223.50 L1242.2,223.50 L1244.2,223.50 L1246.2,223.50 L1248.2,223.50 L1250.2,223.50 L1252.2,223.50 L1254.2,223.50 L1256.2,223.50 L1258.2,223.50 L1260.2,223.50 L1262.2,223.54 L1264.2,223.60 L1266.2,223.70 L1268.2,223.81 L1270.2,223.94 L1272.2,224.09 L1274.2,224.24 L1276.2,224.38 L1278.2,224.53 L1280.2,224.66 L1282.2,224.81 L1284.2,224.97 L1286.2,225.14 L1288.2,225.32 L1290.2,225.51 L1292.2,225.70 L1294.2,225.90 L1296.2,226.11 L1298.2,226.31 L1300.2,226.52 L1302.2,226.72 L1304.2,226.92 L1306.2,227.12 L1308.2,227.31 L1310.2,227.50 L1312.2,227.67 L1314.2,227.84 L1316.2,227.99 L1318.2,228.13 L1320.2,228.26 L1322.2,228.37 L1324.2,228.46 L1326.2,228.55 L1328.2,228.62 L1330.2,228.69 L1332.2,228.76 L1334.2,228.84 L1336.2,228.92 L1338.2,229.02 L1340.2,229.13 L1342.2,229.27 L1344.2,229.44 L1346.2,229.63 L1348.2,229.85 L1350.2,230.09 L1352.2,230.33 L1354.2,230.59 L1356.2,230.84 L1358.2,231.09 L1360.2,231.32 L1362.2,231.55 L1364.2,231.77 L1366.2,232.00 L1368.2,232.24 L1370.2,232.47 L1372.2,232.71 L1374.2,232.95 L1376.2,233.19 L1378.2,233.43 L1380.2,233.66 L1382.2,233.90 L1384.2,234.14 L1386.2,234.37 L1388.2,234.59 L1390.2,234.82 L1392.2,235.04 L1394.2,235.25 L1396.2,235.46 L1398.2,235.66 L1400.2,235.86 L1402.2,236.05 L1404.2,236.22 L1406.2,236.38 L1408.2,236.53 L1410.2,236.67 L1412.2,236.82 L1414.2,236.96 L1416.2,237.12 L1418.2,237.29 L1420.2,237.47 L1422.2,237.67 L1424.2,237.90 L1426.2,238.16 L1428.2,238.44 L1430.2,238.74 L1432.2,239.05 L1434.2,239.38 L1436.2,239.71 L1438.2,240.05 L1440.2,240.40 L1442.2,240.73 L1444.2,241.08 L1446.2,241.43 L1448.2,241.78 L1450.2,242.15 L1452.2,242.52 L1454.2,242.90 L1456.2,243.28 L1458.2,243.67 L1460.2,244.06 L1462.2,244.45 L1464.2,244.85 L1466.2,245.25 L1468.2,245.65 L1470.2,246.05 L1472.2,246.45 L1474.2,246.85 L1476.2,247.25 L1478.2,247.65 L1480.2,248.05 L1482.2,248.44 L1484.2,248.83 L1486.2,249.21 L1488.2,249.59 L1490.2,249.97 L1492.2,250.35 L1494.2,250.74 L1496.2,251.14 L1498.2,251.54 L1500.2,251.96 L1502.2,252.38 L1504.2,252.83 L1506.2,253.28 L1508.2,253.74 L1510.2,254.22 L1512.2,254.71 L1514.2,255.20 L1516.2,255.71 L1518.2,256.23 L1520.2,256.75 L1522.2,257.29 L1524.2,257.83 L1526.2,258.39 L1528.2,258.95 L1530.2,259.52 L1532.2,260.11 L1534.2,260.69 L1536.2,261.29 L1538.2,261.89 L1540.2,262.50 L1542.2,263.12 L1544.2,263.75 L1546.2,264.38 L1548.2,265.02 L1550.2,265.66 L1552.2,266.31 L1554.2,266.96 L1556.2,267.62 L1558.2,268.28 L1560.2,268.95 L1562.2,269.62 L1564.2,270.30 L1566.2,270.99 L1568.2,271.69 L1570.2,272.41 L1572.2,273.13 L1574.2,273.87 L1576.2,274.62 L1578.2,275.39 L1580.2,276.17 L1582.2,276.98 L1584.2,277.82 L1586.2,278.68 L1588.2,279.56 L1590.2,280.46 L1592.2,281.36 L1594.2,282.25 L1596.2,283.14 L1598.2,284.01 L1600.2,284.86 L1602.2,285.68 L1604.2,286.49 L1606.2,287.29 L1608.2,288.10 L1610.2,288.93 L1612.2,289.78 L1614.2,290.68 L1616.2,291.64 L1618.2,292.65 L1620.2,293.71 L1622.2,294.80 L1624.2,295.94 L1626.2,297.09 L1628.2,298.27 L1630.2,299.46 L1632.2,300.65 L1634.2,301.83 L1636.2,303.01 L1638.2,304.20 L1640.2,305.40 L1642.2,306.62 L1644.2,307.84 L1646.2,309.07 L1648.2,310.30 L1650.2,311.53 L1652.2,312.76 L1654.2,313.98 L1656.2,315.20 L1658.2,316.41 L1660.2,317.62 L1662.2,318.83 L1664.2,320.06 L1666.2,321.28 L1668.2,322.53 L1670.2,323.78 L1672.2,325.04 L1674.2,326.31 L1676.2,327.58 L1678.2,328.87 L1680.2,330.17 L1682.2,331.49 L1684.2,332.84 L1686.2,334.22 L1688.2,335.64 L1690.2,337.12 L1692.2,338.63 L1694.2,340.17 L1696.2,341.72 L1698.2,343.26 L1700.2,344.79 L1702.2,346.28 L1704.2,347.72 L1706.2,349.10 L1708.2,350.45 L1710.2,351.76 L1712.2,353.06 L1714.2,354.37 L1716.2,355.71 L1718.2,357.08 L1720.2,358.51 L1722.2,360.02 L1724.2,361.64 L1726.2,363.33 L1728.2,365.07 L1730.2,366.83 L1732.2,368.57 L1734.2,370.26 L1736.2,371.86 L1738.2,373.34 L1740.2,374.75 L1742.2,376.11 L1744.2,377.44 L1746.2,378.73 L1748.2,379.99 L1750.2,381.23 L1752.2,382.44 L1754.2,383.64 L1756.2,384.82 L1758.2,385.98 L1760.2,387.13 L1762.2,388.28 L1764.2,389.43 L1766.2,390.57 L1768.2,391.72 L1770.2,392.88 L1772.2,394.04 L1774.2,395.20 L1776.2,396.35 L1778.2,397.49 L1780.2,398.63 L1782.2,399.75 L1784.2,400.86 L1786.2,401.96 L1788.2,403.04 L1790.2,404.11 L1792.2,405.17 L1794.2,406.21 L1796.2,407.25 L1798.2,408.27 L1800.2,409.28 L1802.2,410.28 L1804.2,411.28 L1806.2,412.26 L1808.2,413.24 L1810.2,414.23 L1812.2,415.23 L1814.2,416.25 L1816.2,417.26 L1818.2,418.28 L1820.2,419.30 L1822.2,420.30 L1824.2,421.30 L1826.2,422.28 L1828.2,423.24 L1830.2,424.17 L1832.2,425.08 L1834.2,425.96 L1836.2,426.81 L1838.2,427.61 L1840.2,428.37 L1842.2,429.08 L1844.2,429.74 L1846.2,430.37 L1848.2,430.97 L1850.2,431.54 L1852.2,432.08 L1854.2,432.59 L1856.2,433.07 L1858.2,433.52 L1860.2,433.94 L1860.5,434.00"/>
<path class="c2s" d="M1198.2,292.80 L1200.2,292.87 L1202.2,292.93 L1204.2,292.98 L1206.2,293.03 L1208.2,293.07 L1210.2,293.11 L1212.2,293.15 L1214.2,293.18 L1216.2,293.20 L1218.2,293.22 L1220.2,293.24 L1222.2,293.26 L1224.2,293.27 L1226.2,293.28 L1228.2,293.29 L1230.2,293.29 L1232.2,293.30 L1234.2,293.30 L1236.2,293.30 L1238.2,293.30 L1240.2,293.30 L1242.2,293.28 L1244.2,293.16 L1246.2,292.98 L1248.2,292.77 L1250.2,292.56 L1252.2,292.39 L1254.2,292.30 L1256.2,292.29 L1258.2,292.28 L1260.2,292.27 L1262.2,292.27 L1264.2,292.26 L1266.2,292.26 L1268.2,292.26 L1270.2,292.26 L1272.2,292.25 L1274.2,292.25 L1276.2,292.25 L1278.2,292.25 L1280.2,292.24 L1282.2,292.24 L1284.2,292.24 L1286.2,292.23 L1288.2,292.22 L1290.2,292.21 L1292.2,292.20 L1294.2,292.03 L1296.2,291.70 L1298.2,291.35 L1300.2,291.12 L1302.2,291.03 L1304.2,290.95 L1306.2,290.88 L1308.2,290.82 L1310.2,290.77 L1312.2,290.73 L1314.2,290.69 L1316.2,290.65 L1318.2,290.62 L1320.2,290.59 L1322.2,290.55 L1324.2,290.52 L1326.2,290.49 L1328.2,290.45 L1330.2,290.41 L1332.2,290.36 L1334.2,290.31 L1336.2,290.25 L1338.2,290.17 L1340.2,290.09 L1342.2,290.00 L1344.2,289.91 L1346.2,289.80 L1348.2,289.70 L1350.2,289.59 L1352.2,289.48 L1354.2,289.38 L1356.2,289.27 L1358.2,289.17 L1360.2,289.07 L1362.2,288.98 L1364.2,288.89 L1366.2,288.81 L1368.2,288.75 L1370.2,288.69 L1372.2,288.65 L1374.2,288.62 L1376.2,288.60 L1378.2,288.60 L1380.2,288.60 L1382.2,288.60 L1384.2,288.60 L1386.2,288.60 L1388.2,288.60 L1390.2,288.60 L1392.2,288.60 L1394.2,288.60 L1396.2,288.60 L1398.2,288.60 L1400.2,288.60 L1402.2,288.60 L1404.2,288.60 L1406.2,288.60 L1408.2,288.60 L1410.2,288.60 L1412.2,288.63 L1414.2,288.80 L1416.2,289.08 L1418.2,289.41 L1420.2,289.73 L1422.2,290.01 L1424.2,290.18 L1426.2,290.26 L1428.2,290.32 L1430.2,290.37 L1432.2,290.41 L1434.2,290.45 L1436.2,290.48 L1438.2,290.51 L1440.2,290.54 L1442.2,290.56 L1444.2,290.58 L1446.2,290.60 L1448.2,290.63 L1450.2,290.65 L1452.2,290.68 L1454.2,290.71 L1456.2,290.75 L1458.2,290.79 L1460.2,290.85 L1462.2,290.91 L1464.2,290.99 L1466.2,291.10 L1468.2,291.23 L1470.2,291.38 L1472.2,291.54 L1474.2,291.71 L1476.2,291.89 L1478.2,292.07 L1480.2,292.25 L1482.2,292.42 L1484.2,292.58 L1486.2,292.74 L1488.2,292.90 L1490.2,293.07 L1492.2,293.23 L1494.2,293.41 L1496.2,293.59 L1498.2,293.78 L1500.2,293.98 L1502.2,294.19 L1504.2,294.41 L1506.2,294.66 L1508.2,294.95 L1510.2,295.26 L1512.2,295.60 L1514.2,295.96 L1516.2,296.33 L1518.2,296.70 L1520.2,297.08 L1522.2,297.46 L1524.2,297.83 L1526.2,298.18 L1528.2,298.52 L1530.2,298.83 L1532.2,299.11 L1534.2,299.38 L1536.2,299.63 L1538.2,299.88 L1540.2,300.13 L1542.2,300.40 L1544.2,300.68 L1546.2,300.99 L1548.2,301.33 L1550.2,301.70 L1552.2,302.09 L1554.2,302.50 L1556.2,302.93 L1558.2,303.38 L1560.2,303.83 L1562.2,304.30 L1564.2,304.77 L1566.2,305.25 L1568.2,305.73 L1570.2,306.21 L1572.2,306.69 L1574.2,307.16 L1576.2,307.62 L1578.2,308.07 L1580.2,308.51 L1582.2,308.95 L1584.2,309.39 L1586.2,309.83 L1588.2,310.27 L1590.2,310.72 L1592.2,311.17 L1594.2,311.63 L1596.2,312.11 L1598.2,312.59 L1600.2,313.09 L1602.2,313.61 L1604.2,314.15 L1606.2,314.72 L1608.2,315.30 L1610.2,315.90 L1612.2,316.52 L1614.2,317.16 L1616.2,317.81 L1618.2,318.48 L1620.2,319.16 L1622.2,319.85 L1624.2,320.55 L1626.2,321.26 L1628.2,321.98 L1630.2,322.71 L1632.2,323.44 L1634.2,324.17 L1636.2,324.91 L1638.2,325.66 L1640.2,326.40 L1642.2,327.14 L1644.2,327.88 L1646.2,328.64 L1648.2,329.40 L1650.2,330.18 L1652.2,330.96 L1654.2,331.75 L1656.2,332.55 L1658.2,333.36 L1660.2,334.17 L1662.2,334.99 L1664.2,335.82 L1666.2,336.65 L1668.2,337.48 L1670.2,338.33 L1672.2,339.17 L1674.2,340.02 L1676.2,340.87 L1678.2,341.73 L1680.2,342.60 L1682.2,343.49 L1684.2,344.39 L1686.2,345.30 L1688.2,346.24 L1690.2,347.20 L1692.2,348.20 L1694.2,349.26 L1696.2,350.34 L1698.2,351.42 L1700.2,352.48 L1702.2,353.50 L1704.2,354.46 L1706.2,355.38 L1708.2,356.27 L1710.2,357.15 L1712.2,358.04 L1714.2,358.94 L1716.2,359.88 L1718.2,360.86 L1720.2,361.91 L1722.2,363.05 L1724.2,364.28 L1726.2,365.58 L1728.2,366.92 L1730.2,368.27 L1732.2,369.62 L1734.2,370.92 L1736.2,372.16 L1738.2,373.31 L1740.2,374.39 L1742.2,375.43 L1744.2,376.43 L1746.2,377.40 L1748.2,378.35 L1750.2,379.29 L1752.2,380.22 L1754.2,381.13 L1756.2,382.02 L1758.2,382.90 L1760.2,383.77 L1762.2,384.62 L1764.2,385.46 L1766.2,386.30 L1768.2,387.10 L1770.2,387.89 L1772.2,388.68 L1774.2,389.46 L1776.2,390.27 L1778.2,391.11 L1780.2,391.98 L1782.2,392.88 L1784.2,393.79 L1786.2,394.70 L1788.2,395.60 L1790.2,396.48 L1792.2,397.31 L1794.2,398.10 L1796.2,398.83 L1798.2,399.52 L1800.2,400.18 L1802.2,400.82 L1804.2,401.44 L1806.2,402.05 L1808.2,402.65 L1810.2,403.26 L1812.2,403.88 L1814.2,404.50 L1816.2,405.13 L1818.2,405.76 L1820.2,406.39 L1822.2,407.01 L1824.2,407.63 L1826.2,408.25 L1828.2,408.85 L1830.2,409.44 L1832.2,410.02 L1834.2,410.59 L1836.2,411.14 L1838.2,411.66 L1840.2,412.17 L1842.2,412.65 L1844.2,413.10 L1846.2,413.53 L1848.2,413.95 L1850.2,414.35 L1852.2,414.73 L1854.2,415.10 L1856.2,415.45 L1858.2,415.79 L1860.2,416.10 L1860.5,416.15"/>
<path class="c2t" d="M1198.2,292.80 L1200.2,292.85 L1202.2,292.91 L1204.2,292.98 L1206.2,293.06 L1208.2,293.15 L1210.2,293.25 L1212.2,293.35 L1214.2,293.46 L1216.2,293.58 L1218.2,293.70 L1220.2,293.83 L1222.2,293.97 L1224.2,294.10 L1226.2,294.25 L1228.2,294.40 L1230.2,294.55 L1232.2,294.70 L1234.2,294.86 L1236.2,295.02 L1238.2,295.18 L1240.2,295.35 L1242.2,295.55 L1244.2,295.77 L1246.2,296.00 L1248.2,296.25 L1250.2,296.50 L1252.2,296.75 L1254.2,297.00 L1256.2,297.24 L1258.2,297.47 L1260.2,297.68 L1262.2,297.88 L1264.2,298.06 L1266.2,298.23 L1268.2,298.41 L1270.2,298.58 L1272.2,298.76 L1274.2,298.95 L1276.2,299.15 L1278.2,299.37 L1280.2,299.62 L1282.2,299.89 L1284.2,300.17 L1286.2,300.48 L1288.2,300.80 L1290.2,301.15 L1292.2,301.50 L1294.2,301.87 L1296.2,302.25 L1298.2,302.65 L1300.2,303.05 L1302.2,303.46 L1304.2,303.87 L1306.2,304.29 L1308.2,304.71 L1310.2,305.14 L1312.2,305.56 L1314.2,305.98 L1316.2,306.40 L1318.2,306.82 L1320.2,307.23 L1322.2,307.64 L1324.2,308.06 L1326.2,308.48 L1328.2,308.91 L1330.2,309.34 L1332.2,309.78 L1334.2,310.23 L1336.2,310.68 L1338.2,311.13 L1340.2,311.59 L1342.2,312.04 L1344.2,312.50 L1346.2,312.96 L1348.2,313.43 L1350.2,313.90 L1352.2,314.38 L1354.2,314.88 L1356.2,315.40 L1358.2,315.94 L1360.2,316.50 L1362.2,317.08 L1364.2,317.68 L1366.2,318.31 L1368.2,318.95 L1370.2,319.61 L1372.2,320.29 L1374.2,320.97 L1376.2,321.67 L1378.2,322.38 L1380.2,323.10 L1382.2,323.82 L1384.2,324.55 L1386.2,325.28 L1388.2,326.01 L1390.2,326.75 L1392.2,327.48 L1394.2,328.20 L1396.2,328.92 L1398.2,329.63 L1400.2,330.34 L1402.2,331.04 L1404.2,331.74 L1406.2,332.44 L1408.2,333.14 L1410.2,333.86 L1412.2,334.59 L1414.2,335.34 L1416.2,336.11 L1418.2,336.90 L1420.2,337.73 L1422.2,338.59 L1424.2,339.47 L1426.2,340.37 L1428.2,341.27 L1430.2,342.18 L1432.2,343.08 L1434.2,343.97 L1436.2,344.84 L1438.2,345.67 L1440.2,346.49 L1442.2,347.29 L1444.2,348.09 L1446.2,348.88 L1448.2,349.67 L1450.2,350.47 L1452.2,351.28 L1454.2,352.11 L1456.2,352.97 L1458.2,353.85 L1460.2,354.78 L1462.2,355.75 L1464.2,356.80 L1466.2,357.93 L1468.2,359.11 L1470.2,360.30 L1472.2,361.47 L1474.2,362.59 L1476.2,363.70 L1478.2,364.79 L1480.2,365.88 L1482.2,366.97 L1484.2,368.06 L1486.2,369.16 L1488.2,370.27 L1490.2,371.40 L1492.2,372.55 L1494.2,373.71 L1496.2,374.89 L1498.2,376.08 L1500.2,377.28 L1502.2,378.49 L1504.2,379.71 L1506.2,380.94 L1508.2,382.19 L1510.2,383.45 L1512.2,384.73 L1514.2,386.02 L1516.2,387.33 L1518.2,388.64 L1520.2,389.97 L1522.2,391.29 L1524.2,392.62 L1526.2,393.94 L1528.2,395.27 L1530.2,396.58 L1532.2,397.89 L1534.2,399.19 L1536.2,400.49 L1538.2,401.80 L1540.2,403.12 L1542.2,404.46 L1544.2,405.83 L1546.2,407.21 L1548.2,408.61 L1550.2,410.02 L1552.2,411.44 L1554.2,412.85 L1556.2,414.26 L1558.2,415.67 L1560.2,417.06 L1562.2,418.49 L1564.2,419.95 L1566.2,421.41 L1568.2,422.86 L1570.2,424.27 L1572.2,425.61 L1574.2,426.86 L1576.2,428.01 L1578.2,429.11 L1580.2,430.20 L1582.2,431.27 L1584.2,432.31 L1586.2,433.29 L1588.2,434.19 L1590.2,435.02 L1592.2,435.74 L1594.2,436.34 L1596.2,436.82 L1598.2,437.28 L1600.2,437.73 L1602.2,438.15 L1604.2,438.54 L1606.2,438.88 L1608.2,439.17 L1610.2,439.39 L1612.2,439.54 L1614.2,439.60 L1616.2,439.57 L1618.2,439.48 L1620.2,439.33 L1622.2,439.13 L1624.2,438.89 L1626.2,438.60 L1628.2,438.29 L1630.2,437.95 L1632.2,437.59 L1634.2,437.22 L1636.2,436.81 L1638.2,436.26 L1640.2,435.61 L1642.2,434.87 L1644.2,434.06 L1646.2,433.21 L1648.2,432.34 L1650.2,431.47 L1652.2,430.62 L1654.2,429.81 L1656.2,428.98 L1658.2,428.13 L1660.2,427.26 L1662.2,426.39 L1664.2,425.50 L1666.2,424.62 L1668.2,423.74 L1670.2,422.88 L1672.2,422.02 L1674.2,421.12 L1676.2,420.21 L1678.2,419.29 L1680.2,418.38 L1682.2,417.48 L1684.2,416.61 L1686.2,415.79 L1688.2,415.02 L1690.2,414.31 L1692.2,413.68 L1694.2,413.04 L1696.2,412.39 L1698.2,411.74 L1700.2,411.12 L1702.2,410.55 L1704.2,410.05 L1706.2,409.64 L1708.2,409.34 L1710.2,409.17 L1712.2,409.15 L1714.2,409.17 L1716.2,409.20 L1718.2,409.24 L1720.2,409.30 L1722.2,409.38 L1724.2,409.47 L1726.2,409.57 L1728.2,409.68 L1730.2,409.80 L1732.2,409.99 L1734.2,410.41 L1736.2,411.04 L1738.2,411.83 L1740.2,412.75 L1742.2,413.75 L1744.2,414.79 L1746.2,415.84 L1748.2,416.86 L1750.2,417.92 L1752.2,419.07 L1754.2,420.28 L1756.2,421.58 L1758.2,422.94 L1760.2,424.38 L1762.2,425.90 L1764.2,427.48 L1766.2,429.13 L1768.2,430.89 L1770.2,432.81 L1772.2,434.90 L1774.2,437.12 L1776.2,439.47 L1778.2,441.91 L1780.2,444.44 L1782.2,447.12 L1784.2,450.01 L1786.2,453.07 L1788.2,456.23 L1790.2,459.44 L1792.2,462.64 L1794.2,465.85 L1796.2,469.08 L1798.2,472.34 L1800.2,475.65 L1802.2,479.02 L1804.2,482.45 L1806.2,485.95 L1808.2,489.54 L1810.2,493.22 L1812.2,497.00 L1814.2,500.98 L1816.2,505.19 L1818.2,509.52 L1820.2,513.87 L1822.2,518.19 L1824.2,522.56 L1826.2,526.95 L1828.2,531.34 L1830.2,535.69 L1832.2,540.00 L1834.2,544.30 L1836.2,548.58 L1838.2,552.87 L1840.2,557.17 L1842.2,561.51 L1844.2,565.89 L1846.2,570.33 L1848.2,574.88 L1850.2,579.57 L1852.2,584.25 L1854.2,588.80 L1856.2,593.14 L1858.2,597.33 L1860.2,601.40 L1860.5,602.00"/>
<line x1="271.96" y1="1014.00" x2="271.96" y2="1605.20" class="grid"/>
<line x1="366.51" y1="1014.00" x2="366.51" y2="1605.20" class="grid"/>
<line x1="461.07" y1="1014.00" x2="461.07" y2="1605.20" class="grid"/>
<line x1="555.63" y1="1014.00" x2="555.63" y2="1605.20" class="grid"/>
<line x1="650.19" y1="1014.00" x2="650.19" y2="1605.20" class="grid"/>
<line x1="744.74" y1="1014.00" x2="744.74" y2="1605.20" class="grid"/>
<line x1="177.40" y1="1132.24" x2="839.30" y2="1132.24" class="grid"/>
<line x1="177.40" y1="1250.48" x2="839.30" y2="1250.48" class="grid"/>
<line x1="177.40" y1="1368.72" x2="839.30" y2="1368.72" class="grid"/>
<line x1="177.40" y1="1486.96" x2="839.30" y2="1486.96" class="grid"/>
<line x1="156.70" y1="1605.20" x2="177.40" y2="1605.20" stroke="#222" stroke-width="1.7"/>
<line x1="177.40" y1="1605.20" x2="839.30" y2="1605.20" stroke="#6a6a6a" stroke-width="1.2"/>
<line x1="177.40" y1="1605.20" x2="839.30" y2="1605.20" stroke="#151515" stroke-width="1.8" stroke-dasharray="5.4 4.9" stroke-dashoffset="-4.0"/>
<line x1="177.40" y1="1014.00" x2="177.40" y2="1626.20" stroke="#2a2a2a" stroke-width="1.6"/>
<line x1="839.30" y1="1014.00" x2="839.30" y2="1626.20" stroke="#2a2a2a" stroke-width="1.6"/>
<line x1="156.70" y1="1014.00" x2="840.20" y2="1014.00" stroke="#050505" stroke-width="2.2"/>
<line x1="156.70" y1="1132.24" x2="177.40" y2="1132.24" stroke="#222" stroke-width="1.7"/>
<line x1="156.70" y1="1250.48" x2="177.40" y2="1250.48" stroke="#222" stroke-width="1.7"/>
<line x1="156.70" y1="1368.72" x2="177.40" y2="1368.72" stroke="#222" stroke-width="1.7"/>
<line x1="156.70" y1="1486.96" x2="177.40" y2="1486.96" stroke="#222" stroke-width="1.7"/>
<line x1="271.96" y1="1605.20" x2="271.96" y2="1626.20" stroke="#222" stroke-width="1.7"/>
<line x1="366.51" y1="1605.20" x2="366.51" y2="1626.20" stroke="#222" stroke-width="1.7"/>
<line x1="461.07" y1="1605.20" x2="461.07" y2="1626.20" stroke="#222" stroke-width="1.7"/>
<line x1="555.63" y1="1605.20" x2="555.63" y2="1626.20" stroke="#222" stroke-width="1.7"/>
<line x1="650.19" y1="1605.20" x2="650.19" y2="1626.20" stroke="#222" stroke-width="1.7"/>
<line x1="744.74" y1="1605.20" x2="744.74" y2="1626.20" stroke="#222" stroke-width="1.7"/>
<text transform="translate(101.70,1026.30) scale(0.9657,1.020)" x="-2.51" y="0" font-size="33.0">100</text>
<text transform="translate(116.70,1144.54) scale(1.0152,1.020)" x="-1.43" y="0" font-size="33.0">80</text>
<text transform="translate(116.70,1262.78) scale(1.0225,1.020)" x="-1.68" y="0" font-size="33.0">60</text>
<text transform="translate(116.70,1381.02) scale(0.9954,1.020)" x="-0.76" y="0" font-size="33.0">40</text>
<text transform="translate(116.70,1499.26) scale(1.0220,1.020)" x="-1.66" y="0" font-size="33.0">20</text>
<text transform="translate(135.70,1617.50) scale(0.9826,1.020)" x="-1.29" y="0" font-size="33.0">0</text>
<text transform="translate(170.00,1657.50) scale(0.9636,1.020)" x="-1.29" y="0" font-size="33.0">0</text>
<text transform="translate(264.56,1657.50) scale(0.9715,1.020)" x="-1.26" y="0" font-size="33.0">3</text>
<text transform="translate(359.11,1657.50) scale(0.9982,1.020)" x="-1.68" y="0" font-size="33.0">6</text>
<text transform="translate(453.67,1657.50) scale(0.9972,1.020)" x="-1.55" y="0" font-size="33.0">9</text>
<text transform="translate(539.63,1657.50) scale(0.8668,1.020)" x="-2.51" y="0" font-size="33.0">12</text>
<text transform="translate(634.19,1657.50) scale(0.8596,1.020)" x="-2.51" y="0" font-size="33.0">15</text>
<text transform="translate(728.74,1657.50) scale(0.8609,1.020)" x="-2.51" y="0" font-size="33.0">18</text>
<text transform="translate(823.30,1657.50) scale(0.8434,1.020)" x="-1.66" y="0" font-size="33.0">21</text>
<text transform="translate(730.50,1719.00) scale(0.9794,1.020)" x="-0.73" y="0" font-size="33.0">Y' [mm]</text>
<text transform="translate(160.00,991.00) scale(0.8144,1.020)" x="-2.35" y="0" font-size="33.0">[%]</text>
<text transform="translate(373.00,943.00) scale(1.0000,1.020)" x="-0.47" y="0" font-size="33.0" letter-spacing="1.677">f/5.6</text>
<path class="c2s" d="M177.4,1027.10 L179.4,1027.10 L181.4,1027.10 L183.4,1027.10 L185.4,1027.10 L187.4,1027.10 L189.4,1027.10 L191.4,1027.10 L193.4,1027.10 L195.4,1027.10 L197.4,1027.10 L199.4,1027.10 L201.4,1027.10 L203.4,1027.10 L205.4,1027.10 L207.4,1027.10 L209.4,1027.10 L211.4,1027.10 L213.4,1027.10 L215.4,1027.10 L217.4,1027.10 L219.4,1027.10 L221.4,1027.10 L223.4,1027.10 L225.4,1027.10 L227.4,1027.10 L229.4,1027.10 L231.4,1027.10 L233.4,1027.10 L235.4,1027.10 L237.4,1027.10 L239.4,1027.10 L241.4,1027.10 L243.4,1027.10 L245.4,1027.10 L247.4,1027.10 L249.4,1027.10 L251.4,1027.10 L253.4,1027.10 L255.4,1027.10 L257.4,1027.10 L259.4,1027.10 L261.4,1027.10 L263.4,1027.10 L265.4,1027.10 L267.4,1027.10 L269.4,1027.10 L271.4,1027.10 L273.4,1027.10 L275.4,1027.10 L277.4,1027.10 L279.4,1027.10 L281.4,1027.10 L283.4,1027.10 L285.4,1027.10 L287.4,1027.10 L289.4,1027.10 L291.4,1027.10 L293.4,1027.10 L295.4,1027.10 L297.4,1027.10 L299.4,1027.10 L301.4,1027.10 L303.4,1027.10 L305.4,1027.10 L307.4,1027.10 L309.4,1027.10 L311.4,1027.10 L313.4,1027.10 L315.4,1027.10 L317.4,1027.10 L319.4,1027.10 L321.4,1027.05 L323.4,1026.91 L325.4,1026.72 L327.4,1026.52 L329.4,1026.37 L331.4,1026.30 L333.4,1026.30 L335.4,1026.30 L337.4,1026.30 L339.4,1026.30 L341.4,1026.30 L343.4,1026.30 L345.4,1026.30 L347.4,1026.30 L349.4,1026.30 L351.4,1026.30 L353.4,1026.30 L355.4,1026.30 L357.4,1026.30 L359.4,1026.30 L361.4,1026.30 L363.4,1026.30 L365.4,1026.30 L367.4,1026.30 L369.4,1026.30 L371.4,1026.30 L373.4,1026.30 L375.4,1026.30 L377.4,1026.30 L379.4,1026.30 L381.4,1026.30 L383.4,1026.30 L385.4,1026.30 L387.4,1026.30 L389.4,1026.30 L391.4,1026.30 L393.4,1026.30 L395.4,1026.30 L397.4,1026.30 L399.4,1026.30 L401.4,1026.30 L403.4,1026.30 L405.4,1026.30 L407.4,1026.30 L409.4,1026.30 L411.4,1026.30 L413.4,1026.30 L415.4,1026.30 L417.4,1026.30 L419.4,1026.30 L421.4,1026.30 L423.4,1026.30 L425.4,1026.30 L427.4,1026.30 L429.4,1026.30 L431.4,1026.30 L433.4,1026.30 L435.4,1026.30 L437.4,1026.30 L439.4,1026.30 L441.4,1026.30 L443.4,1026.30 L445.4,1026.30 L447.4,1026.30 L449.4,1026.30 L451.4,1026.30 L453.4,1026.30 L455.4,1026.30 L457.4,1026.30 L459.4,1026.30 L461.4,1026.30 L463.4,1026.30 L465.4,1026.30 L467.4,1026.30 L469.4,1026.30 L471.4,1026.30 L473.4,1026.30 L475.4,1026.30 L477.4,1026.30 L479.4,1026.30 L481.4,1026.30 L483.4,1026.30 L485.4,1026.30 L487.4,1026.30 L489.4,1026.30 L491.4,1026.30 L493.4,1026.30 L495.4,1026.30 L497.4,1026.30 L499.4,1026.30 L501.4,1026.30 L503.4,1026.30 L505.4,1026.30 L507.4,1026.30 L509.4,1026.30 L511.4,1026.30 L513.4,1026.30 L515.4,1026.30 L517.4,1026.30 L519.4,1026.30 L521.4,1026.30 L523.4,1026.30 L525.4,1026.30 L527.4,1026.30 L529.4,1026.30 L531.4,1026.30 L533.4,1026.30 L535.4,1026.30 L537.4,1026.30 L539.4,1026.30 L541.4,1026.30 L543.4,1026.30 L545.4,1026.30 L547.4,1026.30 L549.4,1026.30 L551.4,1026.30 L553.4,1026.30 L555.4,1026.30 L557.4,1026.30 L559.4,1026.31 L561.4,1026.31 L563.4,1026.31 L565.4,1026.31 L567.4,1026.31 L569.4,1026.31 L571.4,1026.31 L573.4,1026.31 L575.4,1026.31 L577.4,1026.31 L579.4,1026.31 L581.4,1026.31 L583.4,1026.32 L585.4,1026.32 L587.4,1026.32 L589.4,1026.32 L591.4,1026.32 L593.4,1026.32 L595.4,1026.32 L597.4,1026.32 L599.4,1026.33 L601.4,1026.33 L603.4,1026.33 L605.4,1026.33 L607.4,1026.33 L609.4,1026.34 L611.4,1026.34 L613.4,1026.34 L615.4,1026.34 L617.4,1026.34 L619.4,1026.35 L621.4,1026.35 L623.4,1026.37 L625.4,1026.54 L627.4,1026.80 L629.4,1027.06 L631.4,1027.21 L633.4,1027.28 L635.4,1027.35 L637.4,1027.42 L639.4,1027.48 L641.4,1027.54 L643.4,1027.60 L645.4,1027.65 L647.4,1027.70 L649.4,1027.74 L651.4,1027.78 L653.4,1027.82 L655.4,1027.86 L657.4,1027.89 L659.4,1027.92 L661.4,1027.95 L663.4,1027.98 L665.4,1028.01 L667.4,1028.04 L669.4,1028.06 L671.4,1028.09 L673.4,1028.11 L675.4,1028.14 L677.4,1028.16 L679.4,1028.19 L681.4,1028.22 L683.4,1028.25 L685.4,1028.28 L687.4,1028.31 L689.4,1028.34 L691.4,1028.38 L693.4,1028.42 L695.4,1028.46 L697.4,1028.51 L699.4,1028.55 L701.4,1028.60 L703.4,1028.65 L705.4,1028.70 L707.4,1028.75 L709.4,1028.80 L711.4,1028.85 L713.4,1028.90 L715.4,1028.96 L717.4,1029.02 L719.4,1029.09 L721.4,1029.17 L723.4,1029.27 L725.4,1029.37 L727.4,1029.49 L729.4,1029.75 L731.4,1030.16 L733.4,1030.51 L735.4,1030.63 L737.4,1030.69 L739.4,1030.75 L741.4,1030.80 L743.4,1030.85 L745.4,1030.90 L747.4,1030.94 L749.4,1030.99 L751.4,1031.02 L753.4,1031.06 L755.4,1031.09 L757.4,1031.11 L759.4,1031.14 L761.4,1031.16 L763.4,1031.18 L765.4,1031.20 L767.4,1031.21 L769.4,1031.22 L771.4,1031.23 L773.4,1031.24 L775.4,1031.25 L777.4,1031.25 L779.4,1031.25 L781.4,1031.25 L783.4,1031.25 L785.4,1031.25 L787.4,1031.25 L789.4,1031.25 L791.4,1031.25 L793.4,1031.25 L795.4,1031.25 L797.4,1031.25 L799.4,1031.25 L801.4,1031.25 L803.4,1031.25 L805.4,1031.25 L807.4,1031.25 L809.4,1031.25 L811.4,1031.25 L813.4,1031.25 L815.4,1031.25 L817.4,1031.25 L819.4,1031.25 L821.4,1031.25 L823.4,1031.25 L825.4,1031.25 L827.4,1031.25 L829.4,1031.25 L831.4,1031.25 L833.4,1031.25 L835.4,1031.25 L837.4,1031.25 L839.3,1031.25"/>
<path class="c2t" d="M177.4,1027.10 L179.4,1027.09 L181.4,1027.09 L183.4,1027.08 L185.4,1027.07 L187.4,1027.07 L189.4,1027.06 L191.4,1027.05 L193.4,1027.05 L195.4,1027.04 L197.4,1027.03 L199.4,1027.03 L201.4,1027.02 L203.4,1027.02 L205.4,1027.01 L207.4,1027.01 L209.4,1027.00 L211.4,1027.00 L213.4,1026.99 L215.4,1026.99 L217.4,1026.99 L219.4,1026.98 L221.4,1026.98 L223.4,1026.97 L225.4,1026.97 L227.4,1026.97 L229.4,1026.96 L231.4,1026.96 L233.4,1026.96 L235.4,1026.95 L237.4,1026.95 L239.4,1026.95 L241.4,1026.94 L243.4,1026.94 L245.4,1026.94 L247.4,1026.94 L249.4,1026.93 L251.4,1026.93 L253.4,1026.93 L255.4,1026.93 L257.4,1026.93 L259.4,1026.92 L261.4,1026.92 L263.4,1026.92 L265.4,1026.92 L267.4,1026.92 L269.4,1026.92 L271.4,1026.92 L273.4,1026.91 L275.4,1026.91 L277.4,1026.91 L279.4,1026.91 L281.4,1026.91 L283.4,1026.91 L285.4,1026.91 L287.4,1026.91 L289.4,1026.91 L291.4,1026.91 L293.4,1026.90 L295.4,1026.90 L297.4,1026.90 L299.4,1026.90 L301.4,1026.90 L303.4,1026.90 L305.4,1026.90 L307.4,1026.90 L309.4,1026.90 L311.4,1026.90 L313.4,1026.90 L315.4,1026.90 L317.4,1026.90 L319.4,1026.90 L321.4,1026.90 L323.4,1026.90 L325.4,1026.90 L327.4,1026.90 L329.4,1026.90 L331.4,1026.90 L333.4,1026.90 L335.4,1026.90 L337.4,1026.90 L339.4,1026.90 L341.4,1026.90 L343.4,1026.92 L345.4,1026.95 L347.4,1026.99 L349.4,1027.04 L351.4,1027.09 L353.4,1027.16 L355.4,1027.23 L357.4,1027.31 L359.4,1027.39 L361.4,1027.48 L363.4,1027.57 L365.4,1027.66 L367.4,1027.75 L369.4,1027.84 L371.4,1027.93 L373.4,1028.01 L375.4,1028.09 L377.4,1028.16 L379.4,1028.23 L381.4,1028.29 L383.4,1028.35 L385.4,1028.41 L387.4,1028.48 L389.4,1028.54 L391.4,1028.61 L393.4,1028.67 L395.4,1028.72 L397.4,1028.76 L399.4,1028.79 L401.4,1028.80 L403.4,1028.79 L405.4,1028.76 L407.4,1028.71 L409.4,1028.64 L411.4,1028.57 L413.4,1028.49 L415.4,1028.42 L417.4,1028.36 L419.4,1028.32 L421.4,1028.30 L423.4,1028.30 L425.4,1028.30 L427.4,1028.30 L429.4,1028.30 L431.4,1028.30 L433.4,1028.30 L435.4,1028.30 L437.4,1028.30 L439.4,1028.30 L441.4,1028.30 L443.4,1028.30 L445.4,1028.30 L447.4,1028.30 L449.4,1028.30 L451.4,1028.30 L453.4,1028.30 L455.4,1028.30 L457.4,1028.30 L459.4,1028.30 L461.4,1028.30 L463.4,1028.30 L465.4,1028.33 L467.4,1028.40 L469.4,1028.51 L471.4,1028.65 L473.4,1028.79 L475.4,1028.94 L477.4,1029.07 L479.4,1029.19 L481.4,1029.26 L483.4,1029.30 L485.4,1029.29 L487.4,1029.27 L489.4,1029.24 L491.4,1029.20 L493.4,1029.15 L495.4,1029.11 L497.4,1029.07 L499.4,1029.03 L501.4,1029.01 L503.4,1029.00 L505.4,1029.00 L507.4,1029.00 L509.4,1029.00 L511.4,1029.01 L513.4,1029.01 L515.4,1029.02 L517.4,1029.02 L519.4,1029.03 L521.4,1029.04 L523.4,1029.05 L525.4,1029.06 L527.4,1029.07 L529.4,1029.08 L531.4,1029.09 L533.4,1029.10 L535.4,1029.12 L537.4,1029.13 L539.4,1029.15 L541.4,1029.17 L543.4,1029.19 L545.4,1029.21 L547.4,1029.29 L549.4,1029.43 L551.4,1029.60 L553.4,1029.80 L555.4,1030.01 L557.4,1030.21 L559.4,1030.40 L561.4,1030.55 L563.4,1030.66 L565.4,1030.70 L567.4,1030.70 L569.4,1030.70 L571.4,1030.70 L573.4,1030.70 L575.4,1030.70 L577.4,1030.70 L579.4,1030.70 L581.4,1030.70 L583.4,1030.70 L585.4,1030.70 L587.4,1030.71 L589.4,1030.73 L591.4,1030.77 L593.4,1030.83 L595.4,1030.90 L597.4,1030.97 L599.4,1031.06 L601.4,1031.16 L603.4,1031.26 L605.4,1031.37 L607.4,1031.48 L609.4,1031.60 L611.4,1031.72 L613.4,1031.84 L615.4,1031.95 L617.4,1032.07 L619.4,1032.18 L621.4,1032.28 L623.4,1032.38 L625.4,1032.47 L627.4,1032.56 L629.4,1032.63 L631.4,1032.71 L633.4,1032.78 L635.4,1032.85 L637.4,1032.92 L639.4,1032.99 L641.4,1033.07 L643.4,1033.16 L645.4,1033.26 L647.4,1033.37 L649.4,1033.51 L651.4,1033.66 L653.4,1033.83 L655.4,1034.03 L657.4,1034.23 L659.4,1034.44 L661.4,1034.66 L663.4,1034.88 L665.4,1035.11 L667.4,1035.33 L669.4,1035.55 L671.4,1035.78 L673.4,1036.01 L675.4,1036.25 L677.4,1036.49 L679.4,1036.74 L681.4,1036.99 L683.4,1037.25 L685.4,1037.51 L687.4,1037.77 L689.4,1038.03 L691.4,1038.30 L693.4,1038.57 L695.4,1038.84 L697.4,1039.12 L699.4,1039.39 L701.4,1039.67 L703.4,1039.95 L705.4,1040.22 L707.4,1040.50 L709.4,1040.78 L711.4,1041.06 L713.4,1041.34 L715.4,1041.62 L717.4,1041.91 L719.4,1042.20 L721.4,1042.50 L723.4,1042.80 L725.4,1043.11 L727.4,1043.43 L729.4,1043.76 L731.4,1044.12 L733.4,1044.50 L735.4,1044.89 L737.4,1045.28 L739.4,1045.66 L741.4,1046.04 L743.4,1046.38 L745.4,1046.70 L747.4,1046.97 L749.4,1047.20 L751.4,1047.40 L753.4,1047.57 L755.4,1047.74 L757.4,1047.91 L759.4,1048.08 L761.4,1048.28 L763.4,1048.51 L765.4,1048.76 L767.4,1049.05 L769.4,1049.35 L771.4,1049.67 L773.4,1050.00 L775.4,1050.34 L777.4,1050.68 L779.4,1051.01 L781.4,1051.33 L783.4,1051.64 L785.4,1051.93 L787.4,1052.19 L789.4,1052.42 L791.4,1052.65 L793.4,1052.85 L795.4,1053.05 L797.4,1053.24 L799.4,1053.43 L801.4,1053.62 L803.4,1053.80 L805.4,1054.00 L807.4,1054.19 L809.4,1054.40 L811.4,1054.63 L813.4,1054.87 L815.4,1055.12 L817.4,1055.37 L819.4,1055.62 L821.4,1055.86 L823.4,1056.09 L825.4,1056.30 L827.4,1056.48 L829.4,1056.63 L831.4,1056.76 L833.4,1056.88 L835.4,1056.99 L837.4,1057.08 L839.3,1057.15"/>
<path class="c2s" d="M177.4,1040.70 L179.4,1040.68 L181.4,1040.67 L183.4,1040.65 L185.4,1040.63 L187.4,1040.62 L189.4,1040.60 L191.4,1040.59 L193.4,1040.57 L195.4,1040.55 L197.4,1040.54 L199.4,1040.52 L201.4,1040.51 L203.4,1040.49 L205.4,1040.48 L207.4,1040.46 L209.4,1040.44 L211.4,1040.43 L213.4,1040.41 L215.4,1040.40 L217.4,1040.38 L219.4,1040.37 L221.4,1040.35 L223.4,1040.34 L225.4,1040.33 L227.4,1040.31 L229.4,1040.30 L231.4,1040.28 L233.4,1040.27 L235.4,1040.25 L237.4,1040.24 L239.4,1040.22 L241.4,1040.21 L243.4,1040.20 L245.4,1040.18 L247.4,1040.17 L249.4,1040.16 L251.4,1040.14 L253.4,1040.13 L255.4,1040.11 L257.4,1040.10 L259.4,1040.09 L261.4,1040.07 L263.4,1040.06 L265.4,1040.05 L267.4,1040.04 L269.4,1040.02 L271.4,1040.01 L273.4,1040.00 L275.4,1039.98 L277.4,1039.97 L279.4,1039.96 L281.4,1039.95 L283.4,1039.93 L285.4,1039.92 L287.4,1039.91 L289.4,1039.90 L291.4,1039.89 L293.4,1039.87 L295.4,1039.86 L297.4,1039.85 L299.4,1039.84 L301.4,1039.83 L303.4,1039.82 L305.4,1039.81 L307.4,1039.80 L309.4,1039.80 L311.4,1039.79 L313.4,1039.78 L315.4,1039.78 L317.4,1039.77 L319.4,1039.77 L321.4,1039.76 L323.4,1039.76 L325.4,1039.75 L327.4,1039.75 L329.4,1039.74 L331.4,1039.73 L333.4,1039.73 L335.4,1039.72 L337.4,1039.71 L339.4,1039.71 L341.4,1039.70 L343.4,1039.69 L345.4,1039.68 L347.4,1039.67 L349.4,1039.65 L351.4,1039.64 L353.4,1039.62 L355.4,1039.61 L357.4,1039.59 L359.4,1039.57 L361.4,1039.55 L363.4,1039.53 L365.4,1039.50 L367.4,1039.37 L369.4,1039.09 L371.4,1038.80 L373.4,1038.61 L375.4,1038.60 L377.4,1038.59 L379.4,1038.59 L381.4,1038.58 L383.4,1038.58 L385.4,1038.57 L387.4,1038.57 L389.4,1038.56 L391.4,1038.56 L393.4,1038.56 L395.4,1038.55 L397.4,1038.55 L399.4,1038.55 L401.4,1038.54 L403.4,1038.54 L405.4,1038.54 L407.4,1038.53 L409.4,1038.53 L411.4,1038.53 L413.4,1038.53 L415.4,1038.52 L417.4,1038.52 L419.4,1038.52 L421.4,1038.52 L423.4,1038.52 L425.4,1038.52 L427.4,1038.51 L429.4,1038.51 L431.4,1038.51 L433.4,1038.51 L435.4,1038.51 L437.4,1038.51 L439.4,1038.51 L441.4,1038.51 L443.4,1038.51 L445.4,1038.50 L447.4,1038.50 L449.4,1038.50 L451.4,1038.50 L453.4,1038.50 L455.4,1038.50 L457.4,1038.50 L459.4,1038.50 L461.4,1038.50 L463.4,1038.50 L465.4,1038.50 L467.4,1038.50 L469.4,1038.50 L471.4,1038.50 L473.4,1038.50 L475.4,1038.50 L477.4,1038.51 L479.4,1038.54 L481.4,1038.60 L483.4,1038.68 L485.4,1038.77 L487.4,1038.87 L489.4,1038.98 L491.4,1039.09 L493.4,1039.20 L495.4,1039.31 L497.4,1039.40 L499.4,1039.48 L501.4,1039.54 L503.4,1039.61 L505.4,1039.67 L507.4,1039.72 L509.4,1039.78 L511.4,1039.83 L513.4,1039.88 L515.4,1039.93 L517.4,1039.98 L519.4,1040.03 L521.4,1040.08 L523.4,1040.12 L525.4,1040.17 L527.4,1040.21 L529.4,1040.26 L531.4,1040.30 L533.4,1040.35 L535.4,1040.39 L537.4,1040.44 L539.4,1040.48 L541.4,1040.53 L543.4,1040.58 L545.4,1040.63 L547.4,1040.68 L549.4,1040.73 L551.4,1040.78 L553.4,1040.84 L555.4,1040.89 L557.4,1040.95 L559.4,1041.01 L561.4,1041.07 L563.4,1041.12 L565.4,1041.18 L567.4,1041.24 L569.4,1041.30 L571.4,1041.36 L573.4,1041.42 L575.4,1041.48 L577.4,1041.54 L579.4,1041.60 L581.4,1041.67 L583.4,1041.73 L585.4,1041.80 L587.4,1041.87 L589.4,1041.95 L591.4,1042.02 L593.4,1042.10 L595.4,1042.18 L597.4,1042.26 L599.4,1042.34 L601.4,1042.43 L603.4,1042.52 L605.4,1042.62 L607.4,1042.72 L609.4,1042.83 L611.4,1042.95 L613.4,1043.07 L615.4,1043.20 L617.4,1043.34 L619.4,1043.48 L621.4,1043.63 L623.4,1043.78 L625.4,1043.94 L627.4,1044.10 L629.4,1044.26 L631.4,1044.43 L633.4,1044.60 L635.4,1044.78 L637.4,1044.96 L639.4,1045.14 L641.4,1045.32 L643.4,1045.50 L645.4,1045.68 L647.4,1045.87 L649.4,1046.05 L651.4,1046.24 L653.4,1046.43 L655.4,1046.64 L657.4,1046.85 L659.4,1047.07 L661.4,1047.29 L663.4,1047.52 L665.4,1047.76 L667.4,1047.99 L669.4,1048.23 L671.4,1048.47 L673.4,1048.71 L675.4,1048.95 L677.4,1049.19 L679.4,1049.43 L681.4,1049.66 L683.4,1049.89 L685.4,1050.11 L687.4,1050.33 L689.4,1050.54 L691.4,1050.74 L693.4,1050.94 L695.4,1051.13 L697.4,1051.31 L699.4,1051.49 L701.4,1051.68 L703.4,1051.85 L705.4,1052.03 L707.4,1052.20 L709.4,1052.37 L711.4,1052.54 L713.4,1052.71 L715.4,1052.87 L717.4,1053.04 L719.4,1053.20 L721.4,1053.36 L723.4,1053.52 L725.4,1053.68 L727.4,1053.84 L729.4,1054.00 L731.4,1054.16 L733.4,1054.32 L735.4,1054.48 L737.4,1054.64 L739.4,1054.79 L741.4,1054.95 L743.4,1055.11 L745.4,1055.27 L747.4,1055.44 L749.4,1055.62 L751.4,1055.79 L753.4,1055.96 L755.4,1056.13 L757.4,1056.28 L759.4,1056.42 L761.4,1056.54 L763.4,1056.64 L765.4,1056.74 L767.4,1056.84 L769.4,1056.94 L771.4,1057.03 L773.4,1057.12 L775.4,1057.20 L777.4,1057.28 L779.4,1057.34 L781.4,1057.40 L783.4,1057.45 L785.4,1057.48 L787.4,1057.50 L789.4,1057.50 L791.4,1057.50 L793.4,1057.50 L795.4,1057.50 L797.4,1057.50 L799.4,1057.50 L801.4,1057.50 L803.4,1057.50 L805.4,1057.50 L807.4,1057.50 L809.4,1057.50 L811.4,1057.50 L813.4,1057.50 L815.4,1057.50 L817.4,1057.50 L819.4,1057.50 L821.4,1057.50 L823.4,1057.50 L825.4,1057.50 L827.4,1057.50 L829.4,1057.50 L831.4,1057.50 L833.4,1057.50 L835.4,1057.50 L837.4,1057.50 L839.3,1057.50"/>
<path class="c2t" d="M177.4,1040.70 L179.4,1040.70 L181.4,1040.70 L183.4,1040.70 L185.4,1040.70 L187.4,1040.70 L189.4,1040.70 L191.4,1040.70 L193.4,1040.70 L195.4,1040.70 L197.4,1040.70 L199.4,1040.70 L201.4,1040.70 L203.4,1040.70 L205.4,1040.70 L207.4,1040.70 L209.4,1040.70 L211.4,1040.70 L213.4,1040.70 L215.4,1040.70 L217.4,1040.70 L219.4,1040.70 L221.4,1040.70 L223.4,1040.70 L225.4,1040.70 L227.4,1040.70 L229.4,1040.70 L231.4,1040.70 L233.4,1040.70 L235.4,1040.70 L237.4,1040.70 L239.4,1040.70 L241.4,1040.70 L243.4,1040.70 L245.4,1040.70 L247.4,1040.70 L249.4,1040.70 L251.4,1040.70 L253.4,1040.70 L255.4,1040.70 L257.4,1040.70 L259.4,1040.70 L261.4,1040.71 L263.4,1040.72 L265.4,1040.74 L267.4,1040.76 L269.4,1040.79 L271.4,1040.82 L273.4,1040.85 L275.4,1040.89 L277.4,1040.93 L279.4,1040.98 L281.4,1041.03 L283.4,1041.08 L285.4,1041.13 L287.4,1041.19 L289.4,1041.24 L291.4,1041.30 L293.4,1041.36 L295.4,1041.42 L297.4,1041.47 L299.4,1041.53 L301.4,1041.59 L303.4,1041.68 L305.4,1041.78 L307.4,1041.89 L309.4,1042.00 L311.4,1042.11 L313.4,1042.21 L315.4,1042.30 L317.4,1042.36 L319.4,1042.39 L321.4,1042.40 L323.4,1042.40 L325.4,1042.40 L327.4,1042.40 L329.4,1042.40 L331.4,1042.40 L333.4,1042.40 L335.4,1042.40 L337.4,1042.40 L339.4,1042.40 L341.4,1042.40 L343.4,1042.41 L345.4,1042.42 L347.4,1042.43 L349.4,1042.45 L351.4,1042.48 L353.4,1042.50 L355.4,1042.54 L357.4,1042.57 L359.4,1042.61 L361.4,1042.65 L363.4,1042.70 L365.4,1042.75 L367.4,1042.80 L369.4,1042.86 L371.4,1042.92 L373.4,1042.98 L375.4,1043.04 L377.4,1043.10 L379.4,1043.17 L381.4,1043.24 L383.4,1043.33 L385.4,1043.47 L387.4,1043.64 L389.4,1043.83 L391.4,1044.04 L393.4,1044.25 L395.4,1044.46 L397.4,1044.65 L399.4,1044.80 L401.4,1044.92 L403.4,1045.00 L405.4,1045.07 L407.4,1045.13 L409.4,1045.19 L411.4,1045.23 L413.4,1045.28 L415.4,1045.32 L417.4,1045.37 L419.4,1045.41 L421.4,1045.45 L423.4,1045.48 L425.4,1045.52 L427.4,1045.55 L429.4,1045.58 L431.4,1045.60 L433.4,1045.63 L435.4,1045.66 L437.4,1045.70 L439.4,1045.74 L441.4,1045.78 L443.4,1045.85 L445.4,1045.94 L447.4,1046.05 L449.4,1046.18 L451.4,1046.33 L453.4,1046.48 L455.4,1046.64 L457.4,1046.80 L459.4,1046.95 L461.4,1047.09 L463.4,1047.21 L465.4,1047.33 L467.4,1047.44 L469.4,1047.55 L471.4,1047.66 L473.4,1047.77 L475.4,1047.88 L477.4,1047.99 L479.4,1048.10 L481.4,1048.21 L483.4,1048.33 L485.4,1048.45 L487.4,1048.58 L489.4,1048.71 L491.4,1048.84 L493.4,1048.97 L495.4,1049.11 L497.4,1049.24 L499.4,1049.37 L501.4,1049.49 L503.4,1049.61 L505.4,1049.73 L507.4,1049.84 L509.4,1049.95 L511.4,1050.06 L513.4,1050.16 L515.4,1050.26 L517.4,1050.36 L519.4,1050.45 L521.4,1050.55 L523.4,1050.65 L525.4,1050.75 L527.4,1050.85 L529.4,1050.95 L531.4,1051.06 L533.4,1051.17 L535.4,1051.29 L537.4,1051.41 L539.4,1051.54 L541.4,1051.67 L543.4,1051.81 L545.4,1051.96 L547.4,1052.13 L549.4,1052.31 L551.4,1052.51 L553.4,1052.72 L555.4,1052.94 L557.4,1053.17 L559.4,1053.40 L561.4,1053.62 L563.4,1053.85 L565.4,1054.07 L567.4,1054.29 L569.4,1054.52 L571.4,1054.75 L573.4,1054.98 L575.4,1055.22 L577.4,1055.45 L579.4,1055.69 L581.4,1055.93 L583.4,1056.17 L585.4,1056.41 L587.4,1056.64 L589.4,1056.87 L591.4,1057.10 L593.4,1057.32 L595.4,1057.55 L597.4,1057.79 L599.4,1058.03 L601.4,1058.27 L603.4,1058.53 L605.4,1058.80 L607.4,1059.09 L609.4,1059.39 L611.4,1059.71 L613.4,1060.06 L615.4,1060.42 L617.4,1060.81 L619.4,1061.20 L621.4,1061.61 L623.4,1062.04 L625.4,1062.46 L627.4,1062.91 L629.4,1063.37 L631.4,1063.85 L633.4,1064.34 L635.4,1064.84 L637.4,1065.36 L639.4,1065.89 L641.4,1066.43 L643.4,1066.98 L645.4,1067.54 L647.4,1068.12 L649.4,1068.72 L651.4,1069.33 L653.4,1069.96 L655.4,1070.60 L657.4,1071.25 L659.4,1071.91 L661.4,1072.57 L663.4,1073.24 L665.4,1073.90 L667.4,1074.55 L669.4,1075.20 L671.4,1075.85 L673.4,1076.51 L675.4,1077.19 L677.4,1077.88 L679.4,1078.59 L681.4,1079.33 L683.4,1080.11 L685.4,1080.93 L687.4,1081.80 L689.4,1082.72 L691.4,1083.67 L693.4,1084.64 L695.4,1085.64 L697.4,1086.64 L699.4,1087.65 L701.4,1088.65 L703.4,1089.65 L705.4,1090.66 L707.4,1091.70 L709.4,1092.74 L711.4,1093.79 L713.4,1094.83 L715.4,1095.88 L717.4,1096.91 L719.4,1097.93 L721.4,1098.92 L723.4,1099.91 L725.4,1100.89 L727.4,1101.87 L729.4,1102.83 L731.4,1103.79 L733.4,1104.73 L735.4,1105.66 L737.4,1106.57 L739.4,1107.46 L741.4,1108.32 L743.4,1109.14 L745.4,1109.96 L747.4,1110.77 L749.4,1111.59 L751.4,1112.45 L753.4,1113.34 L755.4,1114.29 L757.4,1115.31 L759.4,1116.39 L761.4,1117.50 L763.4,1118.63 L765.4,1119.76 L767.4,1120.87 L769.4,1121.95 L771.4,1122.97 L773.4,1123.93 L775.4,1124.80 L777.4,1125.59 L779.4,1126.36 L781.4,1127.09 L783.4,1127.79 L785.4,1128.47 L787.4,1129.13 L789.4,1129.77 L791.4,1130.40 L793.4,1131.00 L795.4,1131.60 L797.4,1132.19 L799.4,1132.77 L801.4,1133.35 L803.4,1133.93 L805.4,1134.51 L807.4,1135.10 L809.4,1135.69 L811.4,1136.30 L813.4,1136.91 L815.4,1137.54 L817.4,1138.17 L819.4,1138.80 L821.4,1139.43 L823.4,1140.05 L825.4,1140.68 L827.4,1141.30 L829.4,1141.93 L831.4,1142.55 L833.4,1143.17 L835.4,1143.79 L837.4,1144.41 L839.3,1145.00"/>
<path class="c2s" d="M177.4,1071.30 L179.4,1071.30 L181.4,1071.30 L183.4,1071.29 L185.4,1071.28 L187.4,1071.27 L189.4,1071.26 L191.4,1071.24 L193.4,1071.23 L195.4,1071.21 L197.4,1071.19 L199.4,1071.16 L201.4,1071.14 L203.4,1071.11 L205.4,1071.08 L207.4,1071.06 L209.4,1071.02 L211.4,1070.99 L213.4,1070.96 L215.4,1070.92 L217.4,1070.89 L219.4,1070.85 L221.4,1070.81 L223.4,1070.77 L225.4,1070.73 L227.4,1070.69 L229.4,1070.64 L231.4,1070.60 L233.4,1070.56 L235.4,1070.51 L237.4,1070.46 L239.4,1070.41 L241.4,1070.35 L243.4,1070.27 L245.4,1070.19 L247.4,1070.09 L249.4,1069.98 L251.4,1069.87 L253.4,1069.76 L255.4,1069.64 L257.4,1069.52 L259.4,1069.40 L261.4,1069.28 L263.4,1069.16 L265.4,1069.05 L267.4,1068.95 L269.4,1068.85 L271.4,1068.76 L273.4,1068.68 L275.4,1068.61 L277.4,1068.53 L279.4,1068.46 L281.4,1068.40 L283.4,1068.34 L285.4,1068.27 L287.4,1068.22 L289.4,1068.16 L291.4,1068.10 L293.4,1068.04 L295.4,1067.99 L297.4,1067.93 L299.4,1067.88 L301.4,1067.82 L303.4,1067.76 L305.4,1067.70 L307.4,1067.64 L309.4,1067.58 L311.4,1067.51 L313.4,1067.44 L315.4,1067.37 L317.4,1067.29 L319.4,1067.21 L321.4,1067.12 L323.4,1067.03 L325.4,1066.93 L327.4,1066.81 L329.4,1066.67 L331.4,1066.53 L333.4,1066.38 L335.4,1066.22 L337.4,1066.07 L339.4,1065.92 L341.4,1065.77 L343.4,1065.63 L345.4,1065.51 L347.4,1065.40 L349.4,1065.31 L351.4,1065.22 L353.4,1065.13 L355.4,1065.03 L357.4,1064.94 L359.4,1064.86 L361.4,1064.78 L363.4,1064.70 L365.4,1064.64 L367.4,1064.59 L369.4,1064.54 L371.4,1064.51 L373.4,1064.50 L375.4,1064.50 L377.4,1064.50 L379.4,1064.50 L381.4,1064.50 L383.4,1064.50 L385.4,1064.50 L387.4,1064.50 L389.4,1064.50 L391.4,1064.50 L393.4,1064.50 L395.4,1064.50 L397.4,1064.50 L399.4,1064.50 L401.4,1064.50 L403.4,1064.50 L405.4,1064.50 L407.4,1064.50 L409.4,1064.50 L411.4,1064.50 L413.4,1064.50 L415.4,1064.50 L417.4,1064.50 L419.4,1064.50 L421.4,1064.50 L423.4,1064.50 L425.4,1064.50 L427.4,1064.50 L429.4,1064.50 L431.4,1064.50 L433.4,1064.50 L435.4,1064.50 L437.4,1064.50 L439.4,1064.50 L441.4,1064.50 L443.4,1064.50 L445.4,1064.50 L447.4,1064.50 L449.4,1064.50 L451.4,1064.50 L453.4,1064.50 L455.4,1064.50 L457.4,1064.50 L459.4,1064.50 L461.4,1064.50 L463.4,1064.55 L465.4,1064.66 L467.4,1064.83 L469.4,1065.03 L471.4,1065.27 L473.4,1065.52 L475.4,1065.79 L477.4,1066.05 L479.4,1066.30 L481.4,1066.53 L483.4,1066.71 L485.4,1066.86 L487.4,1066.99 L489.4,1067.11 L491.4,1067.21 L493.4,1067.31 L495.4,1067.41 L497.4,1067.50 L499.4,1067.59 L501.4,1067.69 L503.4,1067.79 L505.4,1067.90 L507.4,1068.02 L509.4,1068.16 L511.4,1068.30 L513.4,1068.47 L515.4,1068.64 L517.4,1068.83 L519.4,1069.02 L521.4,1069.23 L523.4,1069.45 L525.4,1069.68 L527.4,1069.91 L529.4,1070.15 L531.4,1070.40 L533.4,1070.65 L535.4,1070.91 L537.4,1071.17 L539.4,1071.44 L541.4,1071.70 L543.4,1071.97 L545.4,1072.24 L547.4,1072.51 L549.4,1072.78 L551.4,1073.04 L553.4,1073.31 L555.4,1073.57 L557.4,1073.82 L559.4,1074.07 L561.4,1074.32 L563.4,1074.56 L565.4,1074.80 L567.4,1075.05 L569.4,1075.28 L571.4,1075.53 L573.4,1075.77 L575.4,1076.01 L577.4,1076.26 L579.4,1076.52 L581.4,1076.78 L583.4,1077.04 L585.4,1077.31 L587.4,1077.60 L589.4,1077.89 L591.4,1078.19 L593.4,1078.50 L595.4,1078.83 L597.4,1079.17 L599.4,1079.52 L601.4,1079.89 L603.4,1080.28 L605.4,1080.68 L607.4,1081.15 L609.4,1081.68 L611.4,1082.27 L613.4,1082.90 L615.4,1083.55 L617.4,1084.21 L619.4,1084.87 L621.4,1085.51 L623.4,1086.12 L625.4,1086.72 L627.4,1087.32 L629.4,1087.92 L631.4,1088.52 L633.4,1089.12 L635.4,1089.72 L637.4,1090.32 L639.4,1090.93 L641.4,1091.54 L643.4,1092.16 L645.4,1092.79 L647.4,1093.43 L649.4,1094.07 L651.4,1094.73 L653.4,1095.41 L655.4,1096.10 L657.4,1096.81 L659.4,1097.52 L661.4,1098.25 L663.4,1098.97 L665.4,1099.69 L667.4,1100.40 L669.4,1101.11 L671.4,1101.80 L673.4,1102.48 L675.4,1103.13 L677.4,1103.76 L679.4,1104.38 L681.4,1104.99 L683.4,1105.59 L685.4,1106.18 L687.4,1106.76 L689.4,1107.35 L691.4,1107.93 L693.4,1108.52 L695.4,1109.11 L697.4,1109.71 L699.4,1110.32 L701.4,1110.95 L703.4,1111.59 L705.4,1112.25 L707.4,1112.93 L709.4,1113.61 L711.4,1114.31 L713.4,1115.00 L715.4,1115.69 L717.4,1116.38 L719.4,1117.06 L721.4,1117.72 L723.4,1118.36 L725.4,1118.98 L727.4,1119.57 L729.4,1120.13 L731.4,1120.67 L733.4,1121.18 L735.4,1121.68 L737.4,1122.18 L739.4,1122.67 L741.4,1123.18 L743.4,1123.70 L745.4,1124.25 L747.4,1124.86 L749.4,1125.52 L751.4,1126.19 L753.4,1126.86 L755.4,1127.51 L757.4,1128.10 L759.4,1128.63 L761.4,1129.06 L763.4,1129.39 L765.4,1129.68 L767.4,1129.96 L769.4,1130.22 L771.4,1130.46 L773.4,1130.69 L775.4,1130.90 L777.4,1131.09 L779.4,1131.27 L781.4,1131.44 L783.4,1131.58 L785.4,1131.71 L787.4,1131.83 L789.4,1131.93 L791.4,1132.02 L793.4,1132.09 L795.4,1132.16 L797.4,1132.22 L799.4,1132.28 L801.4,1132.33 L803.4,1132.38 L805.4,1132.43 L807.4,1132.48 L809.4,1132.54 L811.4,1132.61 L813.4,1132.68 L815.4,1132.77 L817.4,1132.87 L819.4,1132.97 L821.4,1133.09 L823.4,1133.22 L825.4,1133.36 L827.4,1133.50 L829.4,1133.66 L831.4,1133.82 L833.4,1133.98 L835.4,1134.15 L837.4,1134.33 L839.3,1134.50"/>
<path class="c2t" d="M177.4,1071.30 L179.4,1071.32 L181.4,1071.34 L183.4,1071.37 L185.4,1071.40 L187.4,1071.44 L189.4,1071.47 L191.4,1071.51 L193.4,1071.55 L195.4,1071.59 L197.4,1071.64 L199.4,1071.68 L201.4,1071.73 L203.4,1071.78 L205.4,1071.83 L207.4,1071.89 L209.4,1071.94 L211.4,1072.00 L213.4,1072.05 L215.4,1072.11 L217.4,1072.17 L219.4,1072.23 L221.4,1072.30 L223.4,1072.38 L225.4,1072.47 L227.4,1072.57 L229.4,1072.66 L231.4,1072.75 L233.4,1072.84 L235.4,1072.91 L237.4,1072.97 L239.4,1073.02 L241.4,1073.07 L243.4,1073.10 L245.4,1073.13 L247.4,1073.16 L249.4,1073.19 L251.4,1073.22 L253.4,1073.25 L255.4,1073.28 L257.4,1073.33 L259.4,1073.38 L261.4,1073.43 L263.4,1073.50 L265.4,1073.58 L267.4,1073.66 L269.4,1073.74 L271.4,1073.84 L273.4,1073.93 L275.4,1074.03 L277.4,1074.13 L279.4,1074.23 L281.4,1074.34 L283.4,1074.46 L285.4,1074.60 L287.4,1074.73 L289.4,1074.87 L291.4,1075.01 L293.4,1075.15 L295.4,1075.28 L297.4,1075.40 L299.4,1075.52 L301.4,1075.62 L303.4,1075.70 L305.4,1075.78 L307.4,1075.86 L309.4,1075.93 L311.4,1076.00 L313.4,1076.08 L315.4,1076.16 L317.4,1076.26 L319.4,1076.37 L321.4,1076.50 L323.4,1076.67 L325.4,1076.87 L327.4,1077.09 L329.4,1077.33 L331.4,1077.57 L333.4,1077.81 L335.4,1078.03 L337.4,1078.23 L339.4,1078.41 L341.4,1078.54 L343.4,1078.66 L345.4,1078.77 L347.4,1078.87 L349.4,1078.95 L351.4,1079.04 L353.4,1079.12 L355.4,1079.21 L357.4,1079.30 L359.4,1079.40 L361.4,1079.51 L363.4,1079.64 L365.4,1079.79 L367.4,1079.99 L369.4,1080.24 L371.4,1080.54 L373.4,1080.87 L375.4,1081.20 L377.4,1081.52 L379.4,1081.82 L381.4,1082.07 L383.4,1082.29 L385.4,1082.49 L387.4,1082.68 L389.4,1082.86 L391.4,1083.04 L393.4,1083.22 L395.4,1083.41 L397.4,1083.61 L399.4,1083.83 L401.4,1084.08 L403.4,1084.35 L405.4,1084.67 L407.4,1085.01 L409.4,1085.37 L411.4,1085.74 L413.4,1086.12 L415.4,1086.49 L417.4,1086.85 L419.4,1087.19 L421.4,1087.49 L423.4,1087.78 L425.4,1088.05 L427.4,1088.32 L429.4,1088.57 L431.4,1088.81 L433.4,1089.05 L435.4,1089.29 L437.4,1089.52 L439.4,1089.74 L441.4,1089.97 L443.4,1090.20 L445.4,1090.43 L447.4,1090.66 L449.4,1090.90 L451.4,1091.15 L453.4,1091.40 L455.4,1091.66 L457.4,1091.94 L459.4,1092.22 L461.4,1092.53 L463.4,1092.85 L465.4,1093.20 L467.4,1093.56 L469.4,1093.94 L471.4,1094.34 L473.4,1094.74 L475.4,1095.15 L477.4,1095.55 L479.4,1095.95 L481.4,1096.34 L483.4,1096.71 L485.4,1097.08 L487.4,1097.44 L489.4,1097.79 L491.4,1098.15 L493.4,1098.51 L495.4,1098.88 L497.4,1099.27 L499.4,1099.66 L501.4,1100.08 L503.4,1100.51 L505.4,1100.96 L507.4,1101.41 L509.4,1101.88 L511.4,1102.36 L513.4,1102.85 L515.4,1103.35 L517.4,1103.86 L519.4,1104.37 L521.4,1104.90 L523.4,1105.43 L525.4,1105.97 L527.4,1106.51 L529.4,1107.07 L531.4,1107.62 L533.4,1108.18 L535.4,1108.75 L537.4,1109.32 L539.4,1109.89 L541.4,1110.47 L543.4,1111.05 L545.4,1111.64 L547.4,1112.24 L549.4,1112.85 L551.4,1113.47 L553.4,1114.11 L555.4,1114.76 L557.4,1115.43 L559.4,1116.12 L561.4,1116.83 L563.4,1117.58 L565.4,1118.36 L567.4,1119.18 L569.4,1120.01 L571.4,1120.86 L573.4,1121.72 L575.4,1122.58 L577.4,1123.43 L579.4,1124.27 L581.4,1125.09 L583.4,1125.89 L585.4,1126.69 L587.4,1127.48 L589.4,1128.28 L591.4,1129.09 L593.4,1129.92 L595.4,1130.77 L597.4,1131.66 L599.4,1132.58 L601.4,1133.56 L603.4,1134.58 L605.4,1135.64 L607.4,1136.74 L609.4,1137.88 L611.4,1139.03 L613.4,1140.21 L615.4,1141.40 L617.4,1142.60 L619.4,1143.84 L621.4,1145.12 L623.4,1146.42 L625.4,1147.74 L627.4,1149.07 L629.4,1150.41 L631.4,1151.75 L633.4,1153.07 L635.4,1154.38 L637.4,1155.68 L639.4,1156.97 L641.4,1158.26 L643.4,1159.57 L645.4,1160.89 L647.4,1162.24 L649.4,1163.61 L651.4,1165.02 L653.4,1166.44 L655.4,1167.87 L657.4,1169.33 L659.4,1170.82 L661.4,1172.35 L663.4,1173.92 L665.4,1175.54 L667.4,1177.23 L669.4,1179.01 L671.4,1180.87 L673.4,1182.79 L675.4,1184.73 L677.4,1186.69 L679.4,1188.63 L681.4,1190.54 L683.4,1192.39 L685.4,1194.22 L687.4,1196.03 L689.4,1197.84 L691.4,1199.65 L693.4,1201.49 L695.4,1203.36 L697.4,1205.29 L699.4,1207.31 L701.4,1209.41 L703.4,1211.54 L705.4,1213.67 L707.4,1215.74 L709.4,1217.71 L711.4,1219.54 L713.4,1221.24 L715.4,1222.83 L717.4,1224.35 L719.4,1225.84 L721.4,1227.33 L723.4,1228.86 L725.4,1230.46 L727.4,1232.16 L729.4,1234.02 L731.4,1236.04 L733.4,1238.15 L735.4,1240.29 L737.4,1242.38 L739.4,1244.36 L741.4,1246.17 L743.4,1247.82 L745.4,1249.40 L747.4,1250.93 L749.4,1252.40 L751.4,1253.81 L753.4,1255.18 L755.4,1256.51 L757.4,1257.80 L759.4,1259.06 L761.4,1260.30 L763.4,1261.50 L765.4,1262.68 L767.4,1263.82 L769.4,1264.92 L771.4,1265.98 L773.4,1267.00 L775.4,1267.98 L777.4,1268.92 L779.4,1269.82 L781.4,1270.70 L783.4,1271.55 L785.4,1272.37 L787.4,1273.17 L789.4,1273.94 L791.4,1274.70 L793.4,1275.43 L795.4,1276.15 L797.4,1276.87 L799.4,1277.58 L801.4,1278.27 L803.4,1278.94 L805.4,1279.60 L807.4,1280.23 L809.4,1280.82 L811.4,1281.39 L813.4,1281.91 L815.4,1282.40 L817.4,1282.86 L819.4,1283.29 L821.4,1283.70 L823.4,1284.09 L825.4,1284.46 L827.4,1284.83 L829.4,1285.20 L831.4,1285.56 L833.4,1285.93 L835.4,1286.30 L837.4,1286.66 L839.3,1287.00"/>
<path class="c2s" d="M177.4,1139.00 L179.4,1138.99 L181.4,1138.98 L183.4,1138.95 L185.4,1138.91 L187.4,1138.86 L189.4,1138.80 L191.4,1138.74 L193.4,1138.67 L195.4,1138.59 L197.4,1138.51 L199.4,1138.43 L201.4,1138.30 L203.4,1138.12 L205.4,1137.91 L207.4,1137.66 L209.4,1137.39 L211.4,1137.11 L213.4,1136.83 L215.4,1136.55 L217.4,1136.29 L219.4,1136.06 L221.4,1135.86 L223.4,1135.68 L225.4,1135.51 L227.4,1135.35 L229.4,1135.19 L231.4,1135.04 L233.4,1134.90 L235.4,1134.76 L237.4,1134.63 L239.4,1134.49 L241.4,1134.36 L243.4,1134.24 L245.4,1134.11 L247.4,1133.98 L249.4,1133.85 L251.4,1133.72 L253.4,1133.59 L255.4,1133.46 L257.4,1133.32 L259.4,1133.17 L261.4,1133.03 L263.4,1132.87 L265.4,1132.71 L267.4,1132.54 L269.4,1132.36 L271.4,1132.17 L273.4,1131.97 L275.4,1131.74 L277.4,1131.49 L279.4,1131.23 L281.4,1130.97 L283.4,1130.70 L285.4,1130.44 L287.4,1130.19 L289.4,1129.95 L291.4,1129.73 L293.4,1129.52 L295.4,1129.31 L297.4,1129.10 L299.4,1128.90 L301.4,1128.70 L303.4,1128.50 L305.4,1128.31 L307.4,1128.11 L309.4,1127.92 L311.4,1127.73 L313.4,1127.54 L315.4,1127.34 L317.4,1127.15 L319.4,1126.96 L321.4,1126.76 L323.4,1126.56 L325.4,1126.35 L327.4,1126.14 L329.4,1125.93 L331.4,1125.71 L333.4,1125.48 L335.4,1125.24 L337.4,1125.00 L339.4,1124.74 L341.4,1124.48 L343.4,1124.21 L345.4,1123.94 L347.4,1123.67 L349.4,1123.41 L351.4,1123.14 L353.4,1122.88 L355.4,1122.63 L357.4,1122.39 L359.4,1122.15 L361.4,1121.93 L363.4,1121.73 L365.4,1121.53 L367.4,1121.36 L369.4,1121.19 L371.4,1121.04 L373.4,1120.89 L375.4,1120.74 L377.4,1120.60 L379.4,1120.47 L381.4,1120.34 L383.4,1120.21 L385.4,1120.09 L387.4,1119.96 L389.4,1119.84 L391.4,1119.73 L393.4,1119.60 L395.4,1119.46 L397.4,1119.33 L399.4,1119.19 L401.4,1119.05 L403.4,1118.93 L405.4,1118.82 L407.4,1118.73 L409.4,1118.66 L411.4,1118.61 L413.4,1118.60 L415.4,1118.80 L417.4,1119.17 L419.4,1119.55 L421.4,1119.79 L423.4,1119.87 L425.4,1119.93 L427.4,1119.97 L429.4,1120.01 L431.4,1120.04 L433.4,1120.06 L435.4,1120.09 L437.4,1120.13 L439.4,1120.17 L441.4,1120.23 L443.4,1120.31 L445.4,1120.41 L447.4,1120.55 L449.4,1120.70 L451.4,1120.88 L453.4,1121.08 L455.4,1121.29 L457.4,1121.51 L459.4,1121.75 L461.4,1121.99 L463.4,1122.28 L465.4,1122.61 L467.4,1122.99 L469.4,1123.40 L471.4,1123.84 L473.4,1124.29 L475.4,1124.76 L477.4,1125.23 L479.4,1125.70 L481.4,1126.15 L483.4,1126.58 L485.4,1126.98 L487.4,1127.36 L489.4,1127.74 L491.4,1128.11 L493.4,1128.48 L495.4,1128.86 L497.4,1129.26 L499.4,1129.67 L501.4,1130.11 L503.4,1130.55 L505.4,1131.02 L507.4,1131.52 L509.4,1132.04 L511.4,1132.59 L513.4,1133.16 L515.4,1133.76 L517.4,1134.38 L519.4,1135.02 L521.4,1135.68 L523.4,1136.36 L525.4,1137.06 L527.4,1137.77 L529.4,1138.51 L531.4,1139.26 L533.4,1140.03 L535.4,1140.81 L537.4,1141.63 L539.4,1142.49 L541.4,1143.38 L543.4,1144.30 L545.4,1145.25 L547.4,1146.22 L549.4,1147.19 L551.4,1148.17 L553.4,1149.15 L555.4,1150.13 L557.4,1151.10 L559.4,1152.06 L561.4,1153.02 L563.4,1153.99 L565.4,1154.95 L567.4,1155.92 L569.4,1156.89 L571.4,1157.87 L573.4,1158.85 L575.4,1159.84 L577.4,1160.85 L579.4,1161.86 L581.4,1162.88 L583.4,1163.92 L585.4,1164.97 L587.4,1166.04 L589.4,1167.13 L591.4,1168.23 L593.4,1169.36 L595.4,1170.51 L597.4,1171.68 L599.4,1172.87 L601.4,1174.10 L603.4,1175.35 L605.4,1176.63 L607.4,1177.93 L609.4,1179.26 L611.4,1180.61 L613.4,1181.98 L615.4,1183.38 L617.4,1184.80 L619.4,1186.23 L621.4,1187.69 L623.4,1189.17 L625.4,1190.69 L627.4,1192.26 L629.4,1193.86 L631.4,1195.50 L633.4,1197.16 L635.4,1198.84 L637.4,1200.54 L639.4,1202.26 L641.4,1203.97 L643.4,1205.69 L645.4,1207.40 L647.4,1209.10 L649.4,1210.79 L651.4,1212.45 L653.4,1214.09 L655.4,1215.72 L657.4,1217.35 L659.4,1218.98 L661.4,1220.63 L663.4,1222.30 L665.4,1224.01 L667.4,1225.77 L669.4,1227.58 L671.4,1229.46 L673.4,1231.42 L675.4,1233.45 L677.4,1235.53 L679.4,1237.65 L681.4,1239.79 L683.4,1241.94 L685.4,1244.09 L687.4,1246.23 L689.4,1248.33 L691.4,1250.39 L693.4,1252.40 L695.4,1254.40 L697.4,1256.40 L699.4,1258.40 L701.4,1260.39 L703.4,1262.36 L705.4,1264.32 L707.4,1266.25 L709.4,1268.16 L711.4,1270.04 L713.4,1271.88 L715.4,1273.69 L717.4,1275.45 L719.4,1277.20 L721.4,1278.94 L723.4,1280.68 L725.4,1282.40 L727.4,1284.10 L729.4,1285.77 L731.4,1287.41 L733.4,1289.02 L735.4,1290.58 L737.4,1292.10 L739.4,1293.56 L741.4,1294.96 L743.4,1296.29 L745.4,1297.56 L747.4,1298.80 L749.4,1299.99 L751.4,1301.16 L753.4,1302.30 L755.4,1303.40 L757.4,1304.47 L759.4,1305.50 L761.4,1306.51 L763.4,1307.48 L765.4,1308.43 L767.4,1309.34 L769.4,1310.22 L771.4,1311.06 L773.4,1311.89 L775.4,1312.71 L777.4,1313.51 L779.4,1314.30 L781.4,1315.06 L783.4,1315.80 L785.4,1316.52 L787.4,1317.20 L789.4,1317.86 L791.4,1318.47 L793.4,1319.05 L795.4,1319.59 L797.4,1320.08 L799.4,1320.54 L801.4,1320.99 L803.4,1321.42 L805.4,1321.82 L807.4,1322.20 L809.4,1322.54 L811.4,1322.84 L813.4,1323.09 L815.4,1323.29 L817.4,1323.46 L819.4,1323.64 L821.4,1323.80 L823.4,1323.96 L825.4,1324.11 L827.4,1324.24 L829.4,1324.36 L831.4,1324.46 L833.4,1324.54 L835.4,1324.60 L837.4,1324.64 L839.3,1324.65"/>
<path class="c2t" d="M177.4,1139.00 L179.4,1139.01 L181.4,1139.04 L183.4,1139.07 L185.4,1139.11 L187.4,1139.16 L189.4,1139.21 L191.4,1139.28 L193.4,1139.35 L195.4,1139.42 L197.4,1139.51 L199.4,1139.59 L201.4,1139.69 L203.4,1139.78 L205.4,1139.88 L207.4,1139.99 L209.4,1140.09 L211.4,1140.20 L213.4,1140.31 L215.4,1140.43 L217.4,1140.54 L219.4,1140.66 L221.4,1140.79 L223.4,1140.95 L225.4,1141.12 L227.4,1141.30 L229.4,1141.50 L231.4,1141.70 L233.4,1141.90 L235.4,1142.10 L237.4,1142.31 L239.4,1142.50 L241.4,1142.70 L243.4,1142.90 L245.4,1143.11 L247.4,1143.31 L249.4,1143.53 L251.4,1143.74 L253.4,1143.96 L255.4,1144.19 L257.4,1144.42 L259.4,1144.66 L261.4,1144.91 L263.4,1145.16 L265.4,1145.42 L267.4,1145.69 L269.4,1145.97 L271.4,1146.26 L273.4,1146.57 L275.4,1146.90 L277.4,1147.24 L279.4,1147.59 L281.4,1147.96 L283.4,1148.33 L285.4,1148.71 L287.4,1149.10 L289.4,1149.49 L291.4,1149.89 L293.4,1150.29 L295.4,1150.69 L297.4,1151.08 L299.4,1151.48 L301.4,1151.87 L303.4,1152.26 L305.4,1152.66 L307.4,1153.05 L309.4,1153.46 L311.4,1153.87 L313.4,1154.29 L315.4,1154.72 L317.4,1155.16 L319.4,1155.62 L321.4,1156.10 L323.4,1156.60 L325.4,1157.11 L327.4,1157.64 L329.4,1158.18 L331.4,1158.73 L333.4,1159.28 L335.4,1159.84 L337.4,1160.40 L339.4,1160.96 L341.4,1161.52 L343.4,1162.09 L345.4,1162.67 L347.4,1163.26 L349.4,1163.84 L351.4,1164.44 L353.4,1165.03 L355.4,1165.63 L357.4,1166.23 L359.4,1166.83 L361.4,1167.42 L363.4,1168.02 L365.4,1168.62 L367.4,1169.21 L369.4,1169.81 L371.4,1170.40 L373.4,1171.00 L375.4,1171.60 L377.4,1172.20 L379.4,1172.79 L381.4,1173.38 L383.4,1173.96 L385.4,1174.55 L387.4,1175.13 L389.4,1175.73 L391.4,1176.33 L393.4,1176.94 L395.4,1177.57 L397.4,1178.22 L399.4,1178.90 L401.4,1179.61 L403.4,1180.35 L405.4,1181.11 L407.4,1181.87 L409.4,1182.63 L411.4,1183.38 L413.4,1184.10 L415.4,1184.79 L417.4,1185.43 L419.4,1186.04 L421.4,1186.61 L423.4,1187.16 L425.4,1187.72 L427.4,1188.27 L429.4,1188.85 L431.4,1189.46 L433.4,1190.12 L435.4,1190.82 L437.4,1191.57 L439.4,1192.35 L441.4,1193.16 L443.4,1193.99 L445.4,1194.85 L447.4,1195.71 L449.4,1196.59 L451.4,1197.47 L453.4,1198.35 L455.4,1199.21 L457.4,1200.08 L459.4,1200.96 L461.4,1201.84 L463.4,1202.73 L465.4,1203.63 L467.4,1204.53 L469.4,1205.45 L471.4,1206.38 L473.4,1207.31 L475.4,1208.26 L477.4,1209.21 L479.4,1210.17 L481.4,1211.14 L483.4,1212.12 L485.4,1213.12 L487.4,1214.13 L489.4,1215.16 L491.4,1216.20 L493.4,1217.27 L495.4,1218.37 L497.4,1219.49 L499.4,1220.65 L501.4,1221.84 L503.4,1223.08 L505.4,1224.36 L507.4,1225.64 L509.4,1226.92 L511.4,1228.18 L513.4,1229.42 L515.4,1230.66 L517.4,1231.90 L519.4,1233.14 L521.4,1234.40 L523.4,1235.66 L525.4,1236.95 L527.4,1238.26 L529.4,1239.63 L531.4,1241.04 L533.4,1242.47 L535.4,1243.89 L537.4,1245.30 L539.4,1246.66 L541.4,1247.97 L543.4,1249.20 L545.4,1250.36 L547.4,1251.49 L549.4,1252.57 L551.4,1253.63 L553.4,1254.66 L555.4,1255.67 L557.4,1256.65 L559.4,1257.62 L561.4,1258.57 L563.4,1259.56 L565.4,1260.58 L567.4,1261.63 L569.4,1262.68 L571.4,1263.69 L573.4,1264.65 L575.4,1265.53 L577.4,1266.30 L579.4,1266.95 L581.4,1267.44 L583.4,1267.79 L585.4,1268.11 L587.4,1268.40 L589.4,1268.68 L591.4,1268.93 L593.4,1269.14 L595.4,1269.30 L597.4,1269.42 L599.4,1269.49 L601.4,1269.49 L603.4,1269.41 L605.4,1269.25 L607.4,1269.02 L609.4,1268.74 L611.4,1268.43 L613.4,1268.09 L615.4,1267.75 L617.4,1267.41 L619.4,1267.09 L621.4,1266.81 L623.4,1266.53 L625.4,1266.24 L627.4,1265.94 L629.4,1265.64 L631.4,1265.34 L633.4,1265.04 L635.4,1264.74 L637.4,1264.46 L639.4,1264.18 L641.4,1263.91 L643.4,1263.61 L645.4,1263.29 L647.4,1262.96 L649.4,1262.64 L651.4,1262.32 L653.4,1262.02 L655.4,1261.75 L657.4,1261.51 L659.4,1261.32 L661.4,1261.19 L663.4,1261.11 L665.4,1261.12 L667.4,1261.26 L669.4,1261.53 L671.4,1261.91 L673.4,1262.38 L675.4,1262.91 L677.4,1263.48 L679.4,1264.08 L681.4,1264.67 L683.4,1265.35 L685.4,1266.13 L687.4,1267.03 L689.4,1268.01 L691.4,1269.08 L693.4,1270.21 L695.4,1271.38 L697.4,1272.60 L699.4,1273.84 L701.4,1275.15 L703.4,1276.60 L705.4,1278.16 L707.4,1279.80 L709.4,1281.48 L711.4,1283.19 L713.4,1284.89 L715.4,1286.56 L717.4,1288.17 L719.4,1289.74 L721.4,1291.35 L723.4,1293.04 L725.4,1294.87 L727.4,1296.89 L729.4,1299.22 L731.4,1301.88 L733.4,1304.79 L735.4,1307.85 L737.4,1310.97 L739.4,1314.05 L741.4,1317.01 L743.4,1319.83 L745.4,1322.60 L747.4,1325.36 L749.4,1328.15 L751.4,1330.98 L753.4,1333.90 L755.4,1336.92 L757.4,1340.00 L759.4,1343.16 L761.4,1346.38 L763.4,1349.66 L765.4,1352.99 L767.4,1356.38 L769.4,1359.82 L771.4,1363.30 L773.4,1366.83 L775.4,1370.40 L777.4,1374.00 L779.4,1377.64 L781.4,1381.30 L783.4,1384.99 L785.4,1388.71 L787.4,1392.48 L789.4,1396.30 L791.4,1400.18 L793.4,1404.11 L795.4,1408.09 L797.4,1412.14 L799.4,1416.24 L801.4,1420.38 L803.4,1424.56 L805.4,1428.81 L807.4,1433.12 L809.4,1437.46 L811.4,1441.83 L813.4,1446.19 L815.4,1450.53 L817.4,1454.82 L819.4,1459.04 L821.4,1463.15 L823.4,1467.15 L825.4,1471.10 L827.4,1475.09 L829.4,1479.22 L831.4,1483.50 L833.4,1487.89 L835.4,1492.33 L837.4,1496.77 L839.3,1501.00"/>
<line x1="1120" y1="1524.4" x2="1292.7" y2="1524.4" stroke="#9c1a36" stroke-width="2.8"/>
<line x1="1120" y1="1598.3" x2="1292.9" y2="1598.3" stroke="#a01c38" stroke-width="2.8" stroke-dasharray="7.1 2.65"/>
<text transform="translate(1359.60,1531.90) scale(0.9000,1.030)" x="-1.50" y="0" font-size="33.0" letter-spacing="1.261">Sagittal structures</text>
<text transform="translate(1359.00,1619.00) scale(0.8800,1.030)" x="-0.74" y="0" font-size="33.0" letter-spacing="1.218">Tangential structures</text>
</svg></body></html>
